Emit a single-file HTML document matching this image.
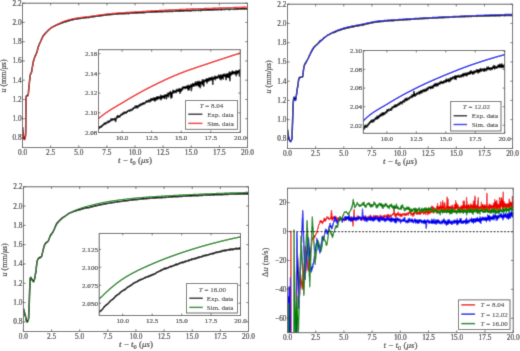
<!DOCTYPE html>
<html><head><meta charset="utf-8"><style>
html,body{margin:0;padding:0;background:#fff;}
svg{display:block;}
text{fill:#333;stroke:#333;stroke-width:0.18px;font-family:"Liberation Serif",serif;}
.lg{stroke-width:0.1px;fill:#3a3a3a;}
</style></head><body>
<svg width="520" height="351" viewBox="0 0 520 351">
<defs><filter id="soft" x="0" y="0" width="520" height="351" filterUnits="userSpaceOnUse"><feConvolveMatrix order="3" kernelMatrix="1 6 1 6 36 6 1 6 1" divisor="64" edgeMode="duplicate" preserveAlpha="true"/></filter></defs>
<g filter="url(#soft)">
<rect width="520" height="351" fill="#fff"/>
<clipPath id="cTL"><rect x="22.55" y="3.2" width="224.95" height="144.40"/></clipPath>
<g clip-path="url(#cTL)">
<polyline points="22.6,127.1 22.6,128.3 22.7,129.4 22.8,130.4 23.0,132.3 23.2,134.0 23.4,135.4 23.6,136.6 23.9,138.0 24.2,139.0 24.6,139.1 25.0,138.4 25.3,137.2 25.5,136.0 25.6,134.3 25.7,131.8 25.8,119.7 25.9,109.0 26.0,101.3 26.1,96.7 26.5,95.8 26.9,95.6 27.2,95.4 27.6,95.3 28.0,95.1 28.3,93.7 28.5,92.1 28.6,90.2 28.8,88.3 29.0,86.5 29.2,84.6 29.3,83.6 29.4,82.5 29.5,81.5 29.6,80.5 29.8,78.6 30.0,77.1 30.1,76.0 30.3,75.0 30.6,73.9 31.0,73.2 31.4,72.5 31.6,71.4 31.8,70.3 32.1,69.0 32.3,67.7 32.5,66.3 32.7,65.0 32.9,63.9 33.1,62.5 33.4,61.3 33.7,60.3 34.1,59.0 34.5,57.8 34.8,56.8 35.2,55.8 35.6,55.0 36.0,54.3 36.3,53.5 36.7,52.5 37.1,51.2 37.4,50.2 37.6,49.1 37.9,48.0 38.2,47.0 38.6,45.9 39.0,45.0 39.3,44.1 39.7,43.3 40.1,42.5 40.5,41.8 40.8,40.9 41.2,40.0 41.6,39.1 42.0,38.3 42.3,37.5 42.7,36.7 43.1,36.0 43.5,35.4 43.8,35.0 44.2,34.5 44.6,34.1 45.0,33.7 45.3,33.2 45.7,32.9 46.1,32.5 46.5,32.1 46.8,31.8 47.2,31.4 47.6,31.0 48.0,30.6 48.3,30.2 48.7,29.9 49.1,29.5 49.5,29.2 49.8,28.9 50.2,28.6 50.6,28.3 51.0,28.0 51.3,27.7 51.7,27.5 52.1,27.2 52.5,27.0 52.8,26.9 53.2,26.7 53.6,26.5 54.0,26.3 54.3,26.1 54.7,26.0 55.1,25.8 55.5,25.7 55.8,25.4 56.2,25.3 56.6,25.1 57.0,24.9 57.3,24.7 57.7,24.6 58.1,24.4 58.5,24.3 58.8,24.2 59.2,24.1 59.6,23.9 60.0,23.7 60.3,23.5 60.7,23.4 61.1,23.2 61.5,23.1 61.8,23.1 62.2,22.9 62.6,22.7 63.0,22.6 63.3,22.4 63.7,22.2 64.1,22.0 64.5,21.9 64.8,21.8 65.2,21.7 65.6,21.6 66.0,21.6 66.3,21.7 66.7,21.5 67.1,21.1 67.5,21.0 67.8,20.9 68.2,20.9 68.6,20.7 69.0,20.7 69.3,20.6 69.7,20.5 70.1,20.4 70.5,20.2 70.8,20.1 71.2,20.1 71.6,20.0 72.0,19.9 72.3,19.7 72.7,19.6 73.1,19.6 73.5,19.5 73.8,19.4 74.2,19.3 74.6,19.2 75.0,19.2 75.3,19.1 75.7,19.0 76.1,19.1 76.5,19.0 76.8,18.8 77.2,18.8 77.6,18.7 78.0,18.7 78.3,18.6 78.7,18.6 79.1,18.5 79.5,18.4 79.8,18.4 80.2,18.4 80.6,18.4 81.0,18.3 81.3,18.2 81.7,18.1 82.1,18.2 82.5,18.1 82.8,18.1 83.2,18.0 83.6,17.9 84.0,17.9 84.3,17.8 84.7,17.7 85.1,17.7 85.5,17.7 85.8,17.7 86.2,17.7 86.6,17.6 87.0,17.6 87.3,17.4 87.7,17.1 88.1,17.3 88.5,17.5 88.8,17.7 89.2,17.3 89.6,17.2 90.0,17.1 90.3,17.1 90.7,17.0 91.1,17.0 91.5,16.9 91.8,16.9 92.2,16.9 92.6,16.8 93.0,16.8 93.3,16.8 93.7,16.7 94.1,16.6 94.5,16.5 94.8,16.5 95.2,16.5 95.6,16.3 96.0,16.3 96.3,16.3 96.7,16.2 97.1,16.2 97.5,16.1 97.8,16.1 98.2,16.1 98.6,16.0 99.0,16.0 99.3,16.0 99.7,15.9 100.1,15.9 100.5,15.7 100.8,15.7 101.2,15.6 101.6,15.6 102.0,15.5 102.3,15.4 102.7,15.4 103.1,15.5 103.5,15.3 103.8,15.3 104.2,15.3 104.6,15.3 105.0,15.2 105.3,15.1 105.7,15.0 106.1,15.1 106.5,14.9 106.8,14.9 107.2,14.9 107.6,14.8 108.0,14.8 108.3,14.8 108.7,14.7 109.1,14.6 109.5,14.6 109.8,14.7 110.2,14.6 110.6,14.5 111.0,14.5 111.3,14.5 111.7,14.4 112.1,14.5 112.5,14.4 112.8,14.3 113.2,14.3 113.6,14.3 114.0,14.3 114.3,14.2 114.7,14.1 115.1,14.2 115.5,14.2 115.8,14.1 116.2,14.1 116.6,14.0 117.0,14.0 117.3,14.0 117.7,13.9 118.1,13.9 118.5,13.9 118.8,13.8 119.2,13.8 119.6,13.8 120.0,13.8 120.4,13.8 120.7,13.8 121.1,13.8 121.5,13.7 121.9,13.7 122.2,13.8 122.6,13.7 123.0,13.6 123.4,13.6 123.7,13.6 124.1,13.6 124.5,13.4 124.9,13.6 125.2,13.6 125.6,13.5 126.0,13.5 126.4,13.4 126.7,13.5 127.1,13.4 127.5,13.5 127.9,13.4 128.2,13.4 128.6,13.6 129.0,13.6 129.4,13.4 129.7,13.2 130.1,13.3 130.5,13.1 130.9,13.3 131.2,13.1 131.6,13.2 132.0,13.2 132.4,13.2 132.7,13.2 133.1,13.1 133.5,13.1 133.9,13.0 134.2,13.0 134.6,13.0 135.0,13.0 135.4,12.9 135.7,12.9 136.1,12.9 136.5,12.9 136.9,12.9 137.2,12.9 137.6,12.8 138.0,12.8 138.4,12.8 138.7,12.9 139.1,12.7 139.5,12.7 139.9,12.7 140.2,12.6 140.6,12.7 141.0,12.6 141.4,12.6 141.7,12.7 142.1,12.6 142.5,12.6 142.9,12.5 143.2,12.6 143.6,12.5 144.0,12.6 144.4,12.5 144.7,12.5 145.1,12.5 145.5,12.5 145.9,12.4 146.2,12.3 146.6,12.3 147.0,12.3 147.4,12.3 147.7,12.3 148.1,12.3 148.5,12.3 148.9,12.3 149.2,12.3 149.6,12.2 150.0,12.3 150.4,12.2 150.7,12.1 151.1,12.1 151.5,12.0 151.9,12.1 152.2,12.1 152.6,12.0 153.0,12.0 153.4,12.0 153.7,12.0 154.1,11.9 154.5,11.9 154.9,11.9 155.2,11.9 155.6,11.9 156.0,11.9 156.4,11.9 156.7,11.8 157.1,11.9 157.5,11.8 157.9,11.8 158.2,11.7 158.6,11.8 159.0,11.7 159.4,11.7 159.7,11.7 160.1,11.7 160.5,11.6 160.9,11.7 161.2,11.6 161.6,11.7 162.0,11.6 162.4,11.5 162.7,11.6 163.1,11.6 163.5,11.5 163.9,11.5 164.2,11.4 164.6,11.5 165.0,11.5 165.4,11.5 165.7,11.5 166.1,11.5 166.5,11.6 166.9,11.4 167.2,11.4 167.6,11.5 168.0,11.3 168.4,11.4 168.7,11.3 169.1,11.4 169.5,11.3 169.9,11.3 170.2,11.4 170.6,11.3 171.0,11.2 171.4,11.4 171.7,11.3 172.1,11.5 172.5,11.3 172.9,11.4 173.2,11.2 173.6,11.3 174.0,11.2 174.4,11.2 174.7,11.2 175.1,11.3 175.5,11.2 175.9,11.1 176.2,11.1 176.6,11.1 177.0,11.2 177.4,11.2 177.7,11.0 178.1,11.1 178.5,11.1 178.9,11.0 179.2,11.3 179.6,10.9 180.0,11.0 180.4,10.8 180.7,10.9 181.1,11.0 181.5,11.0 181.9,11.1 182.2,10.9 182.6,11.1 183.0,10.8 183.4,10.8 183.7,10.9 184.1,10.9 184.5,10.7 184.9,10.7 185.2,10.8 185.6,10.8 186.0,10.7 186.4,10.6 186.7,10.8 187.1,10.6 187.5,10.7 187.9,10.7 188.2,10.6 188.6,10.6 189.0,10.6 189.4,10.5 189.7,10.5 190.1,10.9 190.5,10.5 190.9,10.6 191.2,10.6 191.6,10.6 192.0,10.5 192.4,10.4 192.7,10.4 193.1,10.4 193.5,10.3 193.9,10.4 194.2,10.3 194.6,10.4 195.0,10.3 195.4,10.4 195.7,10.3 196.1,10.3 196.5,10.4 196.9,10.3 197.2,10.3 197.6,10.3 198.0,10.3 198.4,10.4 198.7,10.6 199.1,10.3 199.5,10.2 199.9,10.2 200.2,10.1 200.6,10.1 201.0,10.7 201.4,10.4 201.7,10.1 202.1,10.0 202.5,10.1 202.9,10.1 203.2,10.2 203.6,10.2 204.0,10.0 204.4,9.9 204.7,10.0 205.1,10.0 205.5,10.0 205.9,10.1 206.2,10.0 206.6,10.1 207.0,9.8 207.4,9.9 207.7,10.1 208.1,9.9 208.5,9.9 208.9,9.9 209.2,10.3 209.6,10.3 210.0,9.9 210.4,10.0 210.7,9.9 211.1,9.8 211.5,9.8 211.9,9.6 212.2,10.1 212.6,10.1 213.0,9.8 213.4,9.8 213.7,9.7 214.1,9.7 214.5,9.6 214.9,9.7 215.2,9.7 215.6,9.6 216.0,9.6 216.4,9.6 216.7,9.5 217.1,9.7 217.5,9.6 217.9,9.7 218.2,9.6 218.6,9.6 219.0,9.4 219.4,9.6 219.7,9.5 220.1,9.5 220.5,9.5 220.9,9.4 221.2,10.0 221.6,9.5 222.0,9.4 222.4,9.5 222.7,9.4 223.1,9.4 223.5,9.5 223.9,9.4 224.2,9.3 224.6,9.4 225.0,9.3 225.4,9.4 225.7,9.4 226.1,9.3 226.5,9.3 226.9,9.2 227.2,9.1 227.6,9.2 228.0,9.4 228.4,9.3 228.7,9.4 229.1,9.6 229.5,9.2 229.9,9.3 230.2,9.4 230.6,9.1 231.0,9.2 231.4,9.3 231.7,9.2 232.1,9.2 232.5,9.2 232.9,9.2 233.2,9.2 233.6,9.2 234.0,9.5 234.4,9.1 234.7,9.1 235.1,9.2 235.5,9.1 235.9,9.1 236.2,9.1 236.6,9.4 237.0,8.9 237.4,8.9 237.7,8.9 238.1,8.9 238.5,9.2 238.9,9.1 239.2,9.0 239.6,9.0 240.0,9.0 240.4,8.8 240.7,8.9 241.1,8.9 241.5,8.8 241.9,9.0 242.2,8.8 242.6,8.9 243.0,8.8 243.4,8.8 243.7,9.0 244.1,8.9 244.5,8.8 244.9,8.8 245.2,8.9 245.6,8.8 246.0,8.8 246.4,8.7 246.7,9.2 247.1,8.7 247.5,8.6" fill="none" stroke="#111" stroke-width="1.6" stroke-linejoin="round" />
<polyline points="22.6,128.0 22.6,129.1 22.7,130.2 22.8,131.3 23.0,133.2 23.2,134.9 23.4,136.3 23.6,137.5 23.9,138.8 24.2,139.8 24.6,139.9 25.0,139.3 25.3,138.1 25.5,136.8 25.6,135.2 25.7,132.7 25.8,120.6 25.9,109.0 26.0,102.2 26.1,97.6 26.5,96.6 26.9,96.5 27.2,96.3 27.6,96.2 28.0,95.9 28.3,94.6 28.5,93.0 28.6,91.1 28.8,89.1 29.0,87.4 29.2,85.5 29.3,84.4 29.4,83.4 29.5,82.4 29.6,81.3 29.8,79.5 30.0,78.0 30.1,76.8 30.3,75.8 30.6,74.7 31.0,74.0 31.4,73.4 31.6,72.2 31.8,71.2 32.0,70.0 32.2,68.8 32.4,67.5 32.6,66.2 32.8,65.1 33.1,63.7 33.3,62.5 33.6,61.5 34.0,60.2 34.4,59.0 34.7,57.9 35.1,56.9 35.5,56.1 35.9,55.3 36.2,54.6 36.6,53.6 37.0,52.4 37.3,51.4 37.6,50.3 37.8,49.2 38.1,48.2 38.5,47.0 38.9,45.9 39.2,45.0 39.6,44.0 40.0,43.2 40.4,42.3 40.7,41.5 41.1,40.6 41.5,39.8 41.9,39.0 42.2,38.3 42.6,37.6 43.0,36.9 43.4,36.4 43.7,35.8 44.1,35.3 44.5,34.8 44.9,34.3 45.2,33.8 45.6,33.4 46.0,33.0 46.4,32.5 46.7,32.1 47.1,31.7 47.5,31.3 47.9,30.9 48.2,30.5 48.6,30.2 49.0,29.8 49.4,29.5 49.7,29.1 50.1,28.8 50.5,28.5 50.9,28.2 51.2,27.9 51.6,27.6 52.0,27.3 52.4,27.0 52.7,26.8 53.1,26.5 53.5,26.3 53.9,26.1 54.2,25.8 54.6,25.6 55.0,25.4 55.4,25.2 55.7,25.0 56.1,24.8 56.5,24.6 56.9,24.5 57.2,24.3 57.6,24.1 58.0,23.9 58.4,23.8 58.7,23.6 59.1,23.4 59.5,23.2 59.9,23.0 60.2,22.9 60.6,22.7 61.0,22.5 61.4,22.3 61.7,22.2 62.1,22.0 62.5,21.8 62.9,21.7 63.2,21.5 63.6,21.4 64.0,21.2 64.4,21.1 64.7,21.0 65.1,20.8 65.5,20.7 65.9,20.6 66.2,20.5 66.6,20.4 67.0,20.3 67.4,20.2 67.7,20.1 68.1,19.9 68.5,19.8 68.9,19.7 69.2,19.6 69.6,19.5 70.0,19.4 70.4,19.4 70.7,19.3 71.1,19.2 71.5,19.1 71.9,19.0 72.2,18.9 72.6,18.8 73.0,18.7 73.4,18.7 73.7,18.6 74.1,18.5 74.5,18.4 74.9,18.4 75.2,18.3 75.6,18.2 76.0,18.2 76.4,18.1 76.7,18.0 77.1,18.0 77.5,17.9 77.9,17.8 78.2,17.8 78.6,17.7 79.0,17.7 79.4,17.6 79.7,17.6 80.1,17.5 80.5,17.5 80.9,17.4 81.2,17.4 81.6,17.3 82.0,17.3 82.4,17.2 82.7,17.2 83.1,17.1 83.5,17.1 83.9,17.0 84.2,17.0 84.6,17.0 85.0,16.9 85.4,16.9 85.7,16.8 86.1,16.8 86.5,16.7 86.9,16.7 87.3,16.6 87.6,16.6 88.0,16.5 88.4,16.5 88.8,16.5 89.1,16.4 89.5,16.4 89.9,16.3 90.3,16.3 90.6,16.2 91.0,16.2 91.4,16.1 91.8,16.1 92.1,16.0 92.5,16.0 92.9,15.9 93.3,15.9 93.6,15.8 94.0,15.8 94.4,15.7 94.8,15.6 95.1,15.6 95.5,15.5 95.9,15.5 96.3,15.4 96.6,15.4 97.0,15.3 97.4,15.3 97.8,15.2 98.1,15.2 98.5,15.1 98.9,15.1 99.3,15.0 99.6,15.0 100.0,14.9 100.4,14.9 100.8,14.8 101.1,14.7 101.5,14.7 101.9,14.6 102.3,14.6 102.6,14.5 103.0,14.5 103.4,14.4 103.8,14.4 104.1,14.3 104.5,14.3 104.9,14.2 105.3,14.2 105.6,14.1 106.0,14.1 106.4,14.1 106.8,14.0 107.1,14.0 107.5,13.9 107.9,13.9 108.3,13.8 108.6,13.8 109.0,13.7 109.4,13.7 109.8,13.7 110.1,13.6 110.5,13.6 110.9,13.6 111.3,13.5 111.6,13.5 112.0,13.4 112.4,13.4 112.8,13.4 113.1,13.3 113.5,13.3 113.9,13.3 114.3,13.2 114.6,13.2 115.0,13.2 115.4,13.2 115.8,13.1 116.1,13.1 116.5,13.1 116.9,13.0 117.3,13.0 117.6,13.0 118.0,12.9 118.4,12.9 118.8,12.9 119.1,12.9 119.5,12.8 119.9,12.8 120.3,12.8 120.6,12.8 121.0,12.7 121.4,12.7 121.8,12.7 122.1,12.7 122.5,12.6 122.9,12.6 123.3,12.6 123.6,12.6 124.0,12.5 124.4,12.5 124.8,12.5 125.1,12.5 125.5,12.4 125.9,12.4 126.3,12.4 126.6,12.4 127.0,12.3 127.4,12.3 127.8,12.3 128.1,12.3 128.5,12.2 128.9,12.2 129.3,12.2 129.6,12.2 130.0,12.2 130.4,12.1 130.8,12.1 131.1,12.1 131.5,12.1 131.9,12.0 132.3,12.0 132.6,12.0 133.0,12.0 133.4,12.0 133.8,11.9 134.1,11.9 134.5,11.9 134.9,11.9 135.3,11.8 135.6,11.8 136.0,11.8 136.4,11.8 136.8,11.8 137.1,11.7 137.5,11.7 137.9,11.7 138.3,11.7 138.6,11.6 139.0,11.6 139.4,11.6 139.8,11.6 140.1,11.5 140.5,11.5 140.9,11.5 141.3,11.5 141.6,11.5 142.0,11.4 142.4,11.4 142.8,11.4 143.1,11.4 143.5,11.3 143.9,11.3 144.3,11.3 144.6,11.3 145.0,11.2 145.4,11.2 145.8,11.2 146.1,11.2 146.5,11.2 146.9,11.1 147.3,11.1 147.6,11.1 148.0,11.1 148.4,11.1 148.8,11.0 149.1,11.0 149.5,11.0 149.9,11.0 150.3,10.9 150.6,10.9 151.0,10.9 151.4,10.9 151.8,10.9 152.1,10.8 152.5,10.8 152.9,10.8 153.3,10.8 153.6,10.8 154.0,10.7 154.4,10.7 154.8,10.7 155.1,10.7 155.5,10.6 155.9,10.6 156.3,10.6 156.6,10.6 157.0,10.6 157.4,10.5 157.8,10.5 158.1,10.5 158.5,10.5 158.9,10.5 159.3,10.4 159.6,10.4 160.0,10.4 160.4,10.4 160.8,10.4 161.1,10.3 161.5,10.3 161.9,10.3 162.3,10.3 162.6,10.3 163.0,10.2 163.4,10.2 163.8,10.2 164.1,10.2 164.5,10.2 164.9,10.1 165.3,10.1 165.6,10.1 166.0,10.1 166.4,10.1 166.8,10.1 167.1,10.0 167.5,10.0 167.9,10.0 168.3,10.0 168.6,10.0 169.0,9.9 169.4,9.9 169.8,9.9 170.1,9.9 170.5,9.9 170.9,9.8 171.3,9.8 171.6,9.8 172.0,9.8 172.4,9.8 172.8,9.8 173.1,9.7 173.5,9.7 173.9,9.7 174.3,9.7 174.6,9.7 175.0,9.6 175.4,9.6 175.8,9.6 176.1,9.6 176.5,9.6 176.9,9.6 177.3,9.5 177.6,9.5 178.0,9.5 178.4,9.5 178.8,9.5 179.1,9.5 179.5,9.4 179.9,9.4 180.3,9.4 180.6,9.4 181.0,9.4 181.4,9.4 181.8,9.3 182.1,9.3 182.5,9.3 182.9,9.3 183.3,9.3 183.6,9.2 184.0,9.2 184.4,9.2 184.8,9.2 185.1,9.2 185.5,9.2 185.9,9.2 186.3,9.1 186.6,9.1 187.0,9.1 187.4,9.1 187.8,9.1 188.1,9.1 188.5,9.0 188.9,9.0 189.3,9.0 189.6,9.0 190.0,9.0 190.4,9.0 190.8,8.9 191.1,8.9 191.5,8.9 191.9,8.9 192.3,8.9 192.6,8.9 193.0,8.9 193.4,8.8 193.8,8.8 194.1,8.8 194.5,8.8 194.9,8.8 195.3,8.8 195.6,8.8 196.0,8.7 196.4,8.7 196.8,8.7 197.1,8.7 197.5,8.7 197.9,8.7 198.3,8.7 198.6,8.6 199.0,8.6 199.4,8.6 199.8,8.6 200.1,8.6 200.5,8.6 200.9,8.6 201.3,8.5 201.6,8.5 202.0,8.5 202.4,8.5 202.8,8.5 203.1,8.5 203.5,8.5 203.9,8.5 204.3,8.4 204.6,8.4 205.0,8.4 205.4,8.4 205.8,8.4 206.1,8.4 206.5,8.4 206.9,8.4 207.3,8.3 207.6,8.3 208.0,8.3 208.4,8.3 208.8,8.3 209.1,8.3 209.5,8.3 209.9,8.3 210.3,8.2 210.6,8.2 211.0,8.2 211.4,8.2 211.8,8.2 212.1,8.2 212.5,8.2 212.9,8.1 213.3,8.1 213.6,8.1 214.0,8.1 214.4,8.1 214.8,8.1 215.1,8.1 215.5,8.1 215.9,8.0 216.3,8.0 216.7,8.0 217.0,8.0 217.4,8.0 217.8,8.0 218.2,8.0 218.5,8.0 218.9,7.9 219.3,7.9 219.7,7.9 220.0,7.9 220.4,7.9 220.8,7.9 221.2,7.9 221.5,7.9 221.9,7.8 222.3,7.8 222.7,7.8 223.0,7.8 223.4,7.8 223.8,7.8 224.2,7.8 224.5,7.7 224.9,7.7 225.3,7.7 225.7,7.7 226.0,7.7 226.4,7.7 226.8,7.7 227.2,7.7 227.5,7.6 227.9,7.6 228.3,7.6 228.7,7.6 229.0,7.6 229.4,7.6 229.8,7.6 230.2,7.6 230.5,7.5 230.9,7.5 231.3,7.5 231.7,7.5 232.0,7.5 232.4,7.5 232.8,7.5 233.2,7.5 233.5,7.4 233.9,7.4 234.3,7.4 234.7,7.4 235.0,7.4 235.4,7.4 235.8,7.4 236.2,7.4 236.5,7.3 236.9,7.3 237.3,7.3 237.7,7.3 238.0,7.3 238.4,7.3 238.8,7.3 239.2,7.3 239.5,7.2 239.9,7.2 240.3,7.2 240.7,7.2 241.0,7.2 241.4,7.2 241.8,7.2 242.2,7.2 242.5,7.1 242.9,7.1 243.3,7.1 243.7,7.1 244.0,7.1 244.4,7.1 244.8,7.1 245.2,7.1 245.5,7.0 245.9,7.0 246.3,7.0 246.7,7.0 247.0,7.0 247.4,7.0" fill="none" stroke="#f00000" stroke-width="1.1" stroke-linejoin="round" />
</g>
<rect x="22.55" y="3.2" width="224.95" height="144.40" fill="none" stroke="#444" stroke-width="0.9"/>
<line x1="22.55" y1="147.6" x2="22.55" y2="145.29999999999998" stroke="#444" stroke-width="0.7"/>
<line x1="22.55" y1="3.2" x2="22.55" y2="5.5" stroke="#444" stroke-width="0.7"/>
<text x="22.55" y="154.80" font-size="7.3" text-anchor="middle">0.0</text>
<line x1="50.67" y1="147.6" x2="50.67" y2="145.29999999999998" stroke="#444" stroke-width="0.7"/>
<line x1="50.67" y1="3.2" x2="50.67" y2="5.5" stroke="#444" stroke-width="0.7"/>
<text x="50.67" y="154.80" font-size="7.3" text-anchor="middle">2.5</text>
<line x1="78.79" y1="147.6" x2="78.79" y2="145.29999999999998" stroke="#444" stroke-width="0.7"/>
<line x1="78.79" y1="3.2" x2="78.79" y2="5.5" stroke="#444" stroke-width="0.7"/>
<text x="78.79" y="154.80" font-size="7.3" text-anchor="middle">5.0</text>
<line x1="106.91" y1="147.6" x2="106.91" y2="145.29999999999998" stroke="#444" stroke-width="0.7"/>
<line x1="106.91" y1="3.2" x2="106.91" y2="5.5" stroke="#444" stroke-width="0.7"/>
<text x="106.91" y="154.80" font-size="7.3" text-anchor="middle">7.5</text>
<line x1="135.03" y1="147.6" x2="135.03" y2="145.29999999999998" stroke="#444" stroke-width="0.7"/>
<line x1="135.03" y1="3.2" x2="135.03" y2="5.5" stroke="#444" stroke-width="0.7"/>
<text x="135.03" y="154.80" font-size="7.3" text-anchor="middle">10.0</text>
<line x1="163.14" y1="147.6" x2="163.14" y2="145.29999999999998" stroke="#444" stroke-width="0.7"/>
<line x1="163.14" y1="3.2" x2="163.14" y2="5.5" stroke="#444" stroke-width="0.7"/>
<text x="163.14" y="154.80" font-size="7.3" text-anchor="middle">12.5</text>
<line x1="191.26" y1="147.6" x2="191.26" y2="145.29999999999998" stroke="#444" stroke-width="0.7"/>
<line x1="191.26" y1="3.2" x2="191.26" y2="5.5" stroke="#444" stroke-width="0.7"/>
<text x="191.26" y="154.80" font-size="7.3" text-anchor="middle">15.0</text>
<line x1="219.38" y1="147.6" x2="219.38" y2="145.29999999999998" stroke="#444" stroke-width="0.7"/>
<line x1="219.38" y1="3.2" x2="219.38" y2="5.5" stroke="#444" stroke-width="0.7"/>
<text x="219.38" y="154.80" font-size="7.3" text-anchor="middle">17.5</text>
<line x1="247.50" y1="147.6" x2="247.50" y2="145.29999999999998" stroke="#444" stroke-width="0.7"/>
<line x1="247.50" y1="3.2" x2="247.50" y2="5.5" stroke="#444" stroke-width="0.7"/>
<text x="247.50" y="154.80" font-size="7.3" text-anchor="middle">20.0</text>
<line x1="22.55" y1="137.97" x2="24.85" y2="137.97" stroke="#444" stroke-width="0.7"/>
<line x1="247.5" y1="137.97" x2="245.2" y2="137.97" stroke="#444" stroke-width="0.7"/>
<text x="21.55" y="140.38" font-size="7.3" text-anchor="end">0.8</text>
<line x1="22.55" y1="118.72" x2="24.85" y2="118.72" stroke="#444" stroke-width="0.7"/>
<line x1="247.5" y1="118.72" x2="245.2" y2="118.72" stroke="#444" stroke-width="0.7"/>
<text x="21.55" y="121.13" font-size="7.3" text-anchor="end">1.0</text>
<line x1="22.55" y1="99.47" x2="24.85" y2="99.47" stroke="#444" stroke-width="0.7"/>
<line x1="247.5" y1="99.47" x2="245.2" y2="99.47" stroke="#444" stroke-width="0.7"/>
<text x="21.55" y="101.88" font-size="7.3" text-anchor="end">1.2</text>
<line x1="22.55" y1="80.21" x2="24.85" y2="80.21" stroke="#444" stroke-width="0.7"/>
<line x1="247.5" y1="80.21" x2="245.2" y2="80.21" stroke="#444" stroke-width="0.7"/>
<text x="21.55" y="82.62" font-size="7.3" text-anchor="end">1.4</text>
<line x1="22.55" y1="60.96" x2="24.85" y2="60.96" stroke="#444" stroke-width="0.7"/>
<line x1="247.5" y1="60.96" x2="245.2" y2="60.96" stroke="#444" stroke-width="0.7"/>
<text x="21.55" y="63.37" font-size="7.3" text-anchor="end">1.6</text>
<line x1="22.55" y1="41.71" x2="24.85" y2="41.71" stroke="#444" stroke-width="0.7"/>
<line x1="247.5" y1="41.71" x2="245.2" y2="41.71" stroke="#444" stroke-width="0.7"/>
<text x="21.55" y="44.12" font-size="7.3" text-anchor="end">1.8</text>
<line x1="22.55" y1="22.45" x2="24.85" y2="22.45" stroke="#444" stroke-width="0.7"/>
<line x1="247.5" y1="22.45" x2="245.2" y2="22.45" stroke="#444" stroke-width="0.7"/>
<text x="21.55" y="24.86" font-size="7.3" text-anchor="end">2.0</text>
<line x1="22.55" y1="3.20" x2="24.85" y2="3.20" stroke="#444" stroke-width="0.7"/>
<line x1="247.5" y1="3.20" x2="245.2" y2="3.20" stroke="#444" stroke-width="0.7"/>
<text x="21.55" y="5.61" font-size="7.3" text-anchor="end">2.2</text>
<rect x="98.5" y="49.7" width="141.80" height="82.80" fill="#fff" stroke="none"/>
<clipPath id="iTL"><rect x="98.5" y="49.7" width="141.80" height="82.80"/></clipPath>
<g clip-path="url(#iTL)">
<polyline points="97.4,129.7 97.5,129.3 97.6,129.2 97.7,129.4 97.8,129.2 97.8,129.3 97.9,128.6 98.0,129.5 98.1,128.6 98.2,128.0 98.3,127.9 98.4,128.7 98.5,128.6 98.6,128.2 98.7,128.4 98.8,128.2 98.9,127.8 99.0,128.1 99.1,128.3 99.2,128.0 99.3,128.3 99.4,128.2 99.5,127.9 99.6,127.9 99.7,127.7 99.8,126.8 99.9,127.3 100.0,127.4 100.1,127.3 100.2,127.3 100.3,127.2 100.4,126.9 100.5,127.1 100.6,126.6 100.7,126.8 100.8,126.2 100.9,126.7 101.0,126.6 101.1,126.7 101.2,127.1 101.3,126.0 101.4,126.1 101.5,126.8 101.6,126.5 101.7,126.7 101.8,126.2 101.9,126.1 102.0,126.2 102.1,126.2 102.2,125.9 102.3,125.3 102.4,125.8 102.5,125.7 102.6,124.8 102.7,125.1 102.8,125.3 102.9,124.7 103.0,124.8 103.1,124.9 103.2,124.7 103.3,124.7 103.4,124.9 103.5,125.2 103.6,124.9 103.7,124.5 103.8,124.1 103.9,123.5 104.0,124.0 104.1,124.2 104.2,123.8 104.3,123.9 104.4,123.9 104.5,123.4 104.5,124.3 104.6,123.8 104.7,123.7 104.8,124.2 104.9,124.1 105.0,123.6 105.1,123.2 105.2,122.8 105.3,123.0 105.4,123.1 105.5,123.0 105.6,122.9 105.7,123.1 105.8,123.9 105.9,123.0 106.0,122.7 106.1,122.6 106.2,122.6 106.3,122.8 106.4,122.5 106.5,122.7 106.6,122.8 106.7,122.8 106.8,122.7 106.9,122.6 107.0,122.3 107.1,122.3 107.2,122.5 107.3,122.1 107.4,122.6 107.5,122.5 107.6,122.1 107.7,122.2 107.8,122.3 107.9,121.4 108.0,121.8 108.1,122.3 108.2,122.0 108.3,121.7 108.4,121.6 108.5,122.5 108.6,121.9 108.7,122.4 108.8,121.6 108.9,121.4 109.0,121.2 109.1,121.6 109.2,121.5 109.3,121.2 109.4,121.3 109.5,121.1 109.6,120.8 109.7,121.6 109.8,121.1 109.9,120.8 110.0,121.2 110.1,120.5 110.2,120.6 110.3,120.3 110.4,120.8 110.5,120.1 110.6,119.7 110.7,120.3 110.8,120.4 110.9,120.3 111.0,119.2 111.1,118.9 111.1,119.5 111.2,120.3 111.3,119.9 111.4,120.2 111.5,120.1 111.6,119.4 111.7,119.6 111.8,120.3 111.9,120.4 112.0,120.2 112.1,119.6 112.2,119.3 112.3,119.2 112.4,119.6 112.5,119.3 112.6,119.2 112.7,119.5 112.8,118.9 112.9,119.0 113.0,119.1 113.1,119.1 113.2,119.4 113.3,119.1 113.4,119.7 113.5,119.5 113.6,119.5 113.7,119.5 113.8,119.1 113.9,119.4 114.0,119.3 114.1,119.2 114.2,119.5 114.3,119.5 114.4,119.2 114.5,118.9 114.6,118.9 114.7,118.5 114.8,118.5 114.9,118.7 115.0,118.4 115.1,118.6 115.2,119.4 115.3,120.6 115.4,120.9 115.5,121.3 115.6,121.4 115.7,120.6 115.8,121.0 115.9,120.1 116.0,119.5 116.1,118.8 116.2,118.2 116.3,118.1 116.4,117.8 116.5,117.2 116.6,117.0 116.7,117.2 116.8,116.9 116.9,116.5 117.0,117.7 117.1,117.7 117.2,117.2 117.3,116.3 117.4,116.1 117.5,116.4 117.6,115.6 117.7,116.5 117.7,117.6 117.8,117.3 117.9,115.7 118.0,116.5 118.1,116.1 118.2,116.2 118.3,116.4 118.4,116.8 118.5,116.8 118.6,117.0 118.7,116.1 118.8,116.3 118.9,116.9 119.0,116.5 119.1,116.3 119.2,116.2 119.3,116.4 119.4,116.6 119.5,116.4 119.6,115.9 119.7,116.2 119.8,116.9 119.9,116.1 120.0,116.0 120.1,115.8 120.2,115.6 120.3,115.5 120.4,115.2 120.5,115.9 120.6,115.2 120.7,115.4 120.8,115.4 120.9,114.8 121.0,114.2 121.1,115.2 121.2,114.9 121.3,114.8 121.4,114.7 121.5,114.6 121.6,114.7 121.7,114.5 121.8,114.2 121.9,114.3 122.0,115.0 122.1,114.7 122.2,114.2 122.3,113.8 122.4,114.2 122.5,113.8 122.6,113.5 122.7,113.8 122.8,113.0 122.9,113.7 123.0,114.1 123.1,114.1 123.2,114.0 123.3,113.7 123.4,113.4 123.5,113.3 123.6,113.3 123.7,113.2 123.8,113.1 123.9,113.6 124.0,113.6 124.1,113.4 124.2,112.1 124.3,112.4 124.3,113.5 124.4,113.3 124.5,113.4 124.6,113.5 124.7,112.8 124.8,112.9 124.9,112.8 125.0,113.0 125.1,113.0 125.2,112.6 125.3,112.7 125.4,112.9 125.5,112.7 125.6,112.4 125.7,112.3 125.8,112.4 125.9,112.7 126.0,113.1 126.1,112.3 126.2,112.3 126.3,112.6 126.4,111.9 126.5,112.1 126.6,112.1 126.7,111.9 126.8,111.9 126.9,111.9 127.0,111.5 127.1,111.2 127.2,111.5 127.3,112.2 127.4,111.4 127.5,111.2 127.6,110.9 127.7,111.1 127.8,110.8 127.9,111.3 128.0,111.3 128.1,110.7 128.2,111.2 128.3,111.0 128.4,110.7 128.5,110.7 128.6,110.4 128.7,110.3 128.8,110.5 128.9,110.6 129.0,110.5 129.1,111.0 129.2,111.1 129.3,111.1 129.4,110.9 129.5,110.2 129.6,110.6 129.7,111.1 129.8,110.7 129.9,110.2 130.0,110.0 130.1,110.3 130.2,110.1 130.3,110.1 130.4,109.7 130.5,109.6 130.6,110.1 130.7,110.0 130.8,110.1 130.9,110.5 131.0,109.6 131.0,110.0 131.1,110.0 131.2,110.3 131.3,109.8 131.4,110.2 131.5,110.2 131.6,110.4 131.7,109.7 131.8,109.6 131.9,109.6 132.0,109.3 132.1,109.5 132.2,109.7 132.3,109.7 132.4,109.4 132.5,109.1 132.6,109.1 132.7,109.1 132.8,109.5 132.9,108.7 133.0,108.8 133.1,109.5 133.2,108.3 133.3,107.9 133.4,108.4 133.5,108.4 133.6,108.5 133.7,108.4 133.8,107.9 133.9,107.7 134.0,107.9 134.1,107.7 134.2,107.6 134.3,107.6 134.4,107.5 134.5,107.8 134.6,107.9 134.7,107.4 134.8,107.8 134.9,107.4 135.0,107.7 135.1,107.1 135.2,106.9 135.3,106.1 135.4,107.1 135.5,107.7 135.6,107.3 135.7,107.4 135.8,107.5 135.9,107.4 136.0,107.3 136.1,107.0 136.2,107.2 136.3,106.9 136.4,107.1 136.5,107.3 136.6,107.5 136.7,107.0 136.8,105.9 136.9,106.6 137.0,106.5 137.1,107.2 137.2,107.8 137.3,107.2 137.4,106.5 137.5,106.7 137.6,106.7 137.6,106.4 137.7,106.5 137.8,107.6 137.9,107.4 138.0,106.7 138.1,106.7 138.2,106.6 138.3,106.3 138.4,106.3 138.5,106.0 138.6,105.9 138.7,106.0 138.8,105.7 138.9,106.3 139.0,105.5 139.1,105.0 139.2,104.9 139.3,105.6 139.4,104.8 139.5,104.8 139.6,104.9 139.7,105.8 139.8,105.1 139.9,105.5 140.0,106.0 140.1,105.2 140.2,104.9 140.3,104.6 140.4,104.7 140.5,104.1 140.6,104.2 140.7,104.3 140.8,104.0 140.9,105.0 141.0,104.4 141.1,104.5 141.2,104.1 141.3,104.0 141.4,104.4 141.5,104.1 141.6,104.1 141.7,104.0 141.8,104.3 141.9,104.3 142.0,104.8 142.1,104.8 142.2,103.6 142.3,103.4 142.4,103.9 142.5,104.0 142.6,103.3 142.7,103.3 142.8,103.7 142.9,104.4 143.0,103.7 143.1,104.3 143.2,104.1 143.3,102.8 143.4,103.3 143.5,104.0 143.6,104.0 143.7,103.2 143.8,102.9 143.9,103.1 144.0,103.5 144.1,103.6 144.2,103.0 144.2,103.5 144.3,103.6 144.4,103.0 144.5,103.0 144.6,102.9 144.7,102.6 144.8,102.8 144.9,102.6 145.0,103.1 145.1,103.4 145.2,102.5 145.3,103.3 145.4,102.7 145.5,102.2 145.6,102.6 145.7,102.2 145.8,102.4 145.9,101.9 146.0,102.2 146.1,102.0 146.2,101.6 146.3,101.4 146.4,101.2 146.5,100.8 146.6,101.8 146.7,102.1 146.8,101.8 146.9,102.3 147.0,101.1 147.1,101.2 147.2,101.2 147.3,100.9 147.4,101.3 147.5,101.4 147.6,101.8 147.7,101.8 147.8,101.8 147.9,101.5 148.0,100.5 148.1,101.3 148.2,101.8 148.3,101.7 148.4,101.3 148.5,100.9 148.6,100.4 148.7,100.0 148.8,101.0 148.9,100.6 149.0,100.6 149.1,101.2 149.2,101.1 149.3,101.3 149.4,101.0 149.5,100.5 149.6,100.3 149.7,100.2 149.8,100.7 149.9,100.8 150.0,101.3 150.1,101.7 150.2,101.0 150.3,100.1 150.4,100.4 150.5,100.4 150.6,100.4 150.7,100.2 150.8,100.2 150.8,99.3 150.9,98.6 151.0,98.6 151.1,99.7 151.2,100.0 151.3,100.6 151.4,99.7 151.5,99.3 151.6,100.0 151.7,99.6 151.8,99.4 151.9,99.4 152.0,99.5 152.1,100.2 152.2,99.1 152.3,99.2 152.4,99.4 152.5,99.6 152.6,99.4 152.7,99.4 152.8,98.5 152.9,98.3 153.0,99.7 153.1,99.4 153.2,98.9 153.3,98.8 153.4,99.4 153.5,99.6 153.6,99.0 153.7,98.9 153.8,99.8 153.9,100.1 154.0,99.0 154.1,98.9 154.2,98.2 154.3,97.8 154.4,98.8 154.5,99.4 154.6,100.9 154.7,100.9 154.8,99.3 154.9,99.0 155.0,98.6 155.1,98.1 155.2,99.8 155.3,100.7 155.4,98.9 155.5,97.7 155.6,98.6 155.7,99.0 155.8,98.9 155.9,98.7 156.0,98.5 156.1,98.7 156.2,98.6 156.3,97.7 156.4,99.0 156.5,99.6 156.6,97.2 156.7,96.9 156.8,97.4 156.9,97.2 157.0,96.7 157.1,97.4 157.2,98.4 157.3,97.7 157.4,97.5 157.5,97.5 157.5,97.4 157.6,99.2 157.7,99.4 157.8,97.8 157.9,97.7 158.0,97.7 158.1,97.6 158.2,96.7 158.3,97.1 158.4,96.7 158.5,97.1 158.6,97.3 158.7,97.0 158.8,97.5 158.9,96.9 159.0,97.3 159.1,97.9 159.2,97.6 159.3,97.9 159.4,97.1 159.5,97.1 159.6,97.5 159.7,97.8 159.8,97.9 159.9,96.7 160.0,98.2 160.1,98.9 160.2,97.7 160.3,98.0 160.4,97.5 160.5,96.5 160.6,95.3 160.7,97.0 160.8,95.8 160.9,95.5 161.0,96.5 161.1,99.6 161.2,97.7 161.3,97.5 161.4,97.5 161.5,97.0 161.6,97.5 161.7,96.8 161.8,96.7 161.9,97.7 162.0,97.4 162.1,96.5 162.2,96.7 162.3,96.5 162.4,97.9 162.5,97.1 162.6,97.2 162.7,97.4 162.8,97.1 162.9,95.8 163.0,96.4 163.1,96.5 163.2,97.4 163.3,97.1 163.4,95.9 163.5,96.3 163.6,95.6 163.7,96.1 163.8,96.7 163.9,96.6 164.0,96.0 164.1,96.1 164.1,96.0 164.2,97.6 164.3,96.7 164.4,98.5 164.5,98.3 164.6,96.0 164.7,96.5 164.8,96.2 164.9,95.1 165.0,95.3 165.1,95.4 165.2,95.2 165.3,95.0 165.4,95.0 165.5,95.7 165.6,94.9 165.7,95.3 165.8,95.4 165.9,95.5 166.0,95.2 166.1,96.4 166.2,96.1 166.3,95.9 166.4,98.6 166.5,98.5 166.6,96.5 166.7,96.5 166.8,97.2 166.9,96.5 167.0,94.2 167.1,94.6 167.2,94.8 167.3,95.4 167.4,94.8 167.5,95.4 167.6,95.0 167.7,95.0 167.8,94.8 167.9,94.2 168.0,93.4 168.1,93.0 168.2,94.3 168.3,94.2 168.4,93.8 168.5,95.8 168.6,96.7 168.7,95.1 168.8,95.9 168.9,93.9 169.0,93.5 169.1,93.5 169.2,93.7 169.3,93.6 169.4,93.8 169.5,93.8 169.6,93.0 169.7,92.5 169.8,92.3 169.9,93.0 170.0,92.3 170.1,92.6 170.2,92.9 170.3,92.2 170.4,91.6 170.5,93.4 170.6,93.9 170.7,92.7 170.7,92.4 170.8,92.8 170.9,93.8 171.0,98.1 171.1,97.7 171.2,94.9 171.3,95.3 171.4,94.4 171.5,93.9 171.6,93.4 171.7,93.3 171.8,96.6 171.9,96.2 172.0,97.2 172.1,94.7 172.2,92.9 172.3,92.7 172.4,92.2 172.5,91.7 172.6,93.0 172.7,93.0 172.8,93.0 172.9,92.4 173.0,91.3 173.1,90.2 173.2,92.6 173.3,92.9 173.4,92.3 173.5,92.9 173.6,92.6 173.7,92.8 173.8,92.4 173.9,92.1 174.0,91.6 174.1,91.2 174.2,91.8 174.3,91.5 174.4,91.1 174.5,91.5 174.6,92.5 174.7,91.3 174.8,92.0 174.9,92.2 175.0,92.2 175.1,91.4 175.2,92.2 175.3,92.5 175.4,91.8 175.5,91.6 175.6,91.1 175.7,91.0 175.8,91.2 175.9,91.1 176.0,90.9 176.1,90.2 176.2,90.1 176.3,90.5 176.4,90.6 176.5,92.4 176.6,91.5 176.7,91.0 176.8,91.1 176.9,89.8 177.0,89.3 177.1,90.7 177.2,90.5 177.3,90.6 177.4,90.6 177.4,89.8 177.5,90.8 177.6,90.7 177.7,90.9 177.8,90.8 177.9,90.1 178.0,90.2 178.1,90.4 178.2,90.2 178.3,90.1 178.4,90.0 178.5,90.0 178.6,91.3 178.7,91.0 178.8,90.1 178.9,91.0 179.0,91.2 179.1,90.8 179.2,88.6 179.3,88.5 179.4,88.8 179.5,89.6 179.6,88.9 179.7,89.4 179.8,89.3 179.9,91.0 180.0,93.2 180.1,91.9 180.2,89.8 180.3,89.3 180.4,89.5 180.5,89.6 180.6,89.6 180.7,89.0 180.8,89.5 180.9,90.1 181.0,90.6 181.1,91.4 181.2,89.9 181.3,89.9 181.4,89.2 181.5,88.9 181.6,89.7 181.7,88.6 181.8,88.1 181.9,88.1 182.0,88.8 182.1,90.2 182.2,89.7 182.3,88.0 182.4,88.5 182.5,88.3 182.6,88.2 182.7,89.5 182.8,88.4 182.9,88.3 183.0,87.2 183.1,86.9 183.2,87.5 183.3,87.0 183.4,87.3 183.5,87.3 183.6,87.3 183.7,87.9 183.8,87.1 183.9,88.0 184.0,87.7 184.0,87.8 184.1,88.1 184.2,87.7 184.3,87.2 184.4,88.0 184.5,86.9 184.6,87.2 184.7,88.4 184.8,87.5 184.9,87.4 185.0,86.9 185.1,87.4 185.2,87.6 185.3,86.8 185.4,86.9 185.5,88.3 185.6,88.5 185.7,87.9 185.8,86.6 185.9,86.7 186.0,87.1 186.1,87.2 186.2,86.4 186.3,86.8 186.4,87.2 186.5,87.0 186.6,87.7 186.7,87.8 186.8,86.2 186.9,86.7 187.0,88.1 187.1,87.4 187.2,86.5 187.3,86.3 187.4,86.1 187.5,87.0 187.6,87.1 187.7,87.2 187.8,86.5 187.9,87.3 188.0,90.0 188.1,87.1 188.2,85.4 188.3,86.8 188.4,87.1 188.5,86.4 188.6,87.1 188.7,87.8 188.8,88.1 188.9,87.0 189.0,87.2 189.1,89.6 189.2,87.9 189.3,87.0 189.4,87.9 189.5,87.1 189.6,87.0 189.7,86.4 189.8,86.2 189.9,85.6 190.0,86.0 190.1,86.2 190.2,86.3 190.3,86.3 190.4,86.3 190.5,86.7 190.6,85.4 190.6,85.4 190.7,86.5 190.8,85.9 190.9,85.8 191.0,84.6 191.1,85.7 191.2,87.0 191.3,88.7 191.4,90.6 191.5,87.3 191.6,85.3 191.7,88.1 191.8,87.6 191.9,85.7 192.0,84.9 192.1,84.9 192.2,85.1 192.3,85.4 192.4,85.2 192.5,84.3 192.6,83.6 192.7,83.9 192.8,85.9 192.9,86.1 193.0,85.4 193.1,84.9 193.2,85.5 193.3,85.1 193.4,84.5 193.5,84.4 193.6,85.1 193.7,85.4 193.8,86.3 193.9,86.0 194.0,85.4 194.1,83.6 194.2,85.5 194.3,85.0 194.4,84.0 194.5,83.4 194.6,83.9 194.7,84.5 194.8,84.8 194.9,83.9 195.0,83.0 195.1,84.2 195.2,84.4 195.3,84.1 195.4,83.6 195.5,83.2 195.6,83.4 195.7,81.9 195.8,84.1 195.9,85.6 196.0,83.8 196.1,84.2 196.2,83.6 196.3,83.8 196.4,84.8 196.5,85.4 196.6,84.6 196.7,84.7 196.8,85.0 196.9,85.2 197.0,84.1 197.1,84.1 197.2,83.5 197.2,83.1 197.3,84.8 197.4,84.1 197.5,82.9 197.6,81.6 197.7,82.3 197.8,82.8 197.9,83.6 198.0,83.1 198.1,83.3 198.2,84.2 198.3,82.6 198.4,83.8 198.5,84.5 198.6,86.5 198.7,84.6 198.8,83.9 198.9,83.3 199.0,82.5 199.1,81.4 199.2,82.4 199.3,82.5 199.4,82.8 199.5,82.6 199.6,82.6 199.7,82.5 199.8,81.8 199.9,82.2 200.0,82.0 200.1,86.7 200.2,87.7 200.3,85.2 200.4,84.3 200.5,87.0 200.6,85.6 200.7,82.8 200.8,82.7 200.9,82.9 201.0,82.0 201.1,82.5 201.2,82.5 201.3,83.7 201.4,83.2 201.5,83.2 201.6,82.4 201.7,82.9 201.8,83.6 201.9,82.5 202.0,81.9 202.1,82.0 202.2,82.6 202.3,81.4 202.4,79.7 202.5,82.2 202.6,82.4 202.7,82.2 202.8,80.6 202.9,80.0 203.0,81.8 203.1,83.5 203.2,84.8 203.3,85.2 203.4,84.1 203.5,82.4 203.6,81.1 203.7,84.5 203.8,86.1 203.9,82.8 203.9,81.7 204.0,81.5 204.1,80.4 204.2,80.2 204.3,81.2 204.4,81.6 204.5,80.9 204.6,80.7 204.7,81.3 204.8,81.1 204.9,81.4 205.0,81.5 205.1,81.5 205.2,81.0 205.3,80.9 205.4,80.8 205.5,80.0 205.6,80.0 205.7,81.3 205.8,79.9 205.9,79.2 206.0,80.4 206.1,79.6 206.2,80.7 206.3,80.4 206.4,80.6 206.5,79.7 206.6,78.7 206.7,79.8 206.8,80.2 206.9,80.9 207.0,83.0 207.1,81.2 207.2,79.6 207.3,80.6 207.4,80.4 207.5,80.4 207.6,79.7 207.7,78.9 207.8,79.6 207.9,79.6 208.0,78.9 208.1,79.3 208.2,80.4 208.3,80.3 208.4,81.2 208.5,81.2 208.6,81.0 208.7,80.3 208.8,79.7 208.9,79.3 209.0,78.0 209.1,79.4 209.2,80.7 209.3,79.4 209.4,78.5 209.5,79.2 209.6,79.4 209.7,79.5 209.8,80.1 209.9,79.0 210.0,79.5 210.1,79.6 210.2,78.3 210.3,77.8 210.4,78.0 210.5,78.9 210.5,78.3 210.6,79.9 210.7,80.1 210.8,78.7 210.9,78.7 211.0,79.7 211.1,78.4 211.2,78.3 211.3,79.7 211.4,79.5 211.5,79.0 211.6,78.2 211.7,77.3 211.8,78.9 211.9,79.0 212.0,79.1 212.1,78.6 212.2,78.1 212.3,77.5 212.4,78.0 212.5,78.3 212.6,79.1 212.7,84.2 212.8,84.3 212.9,79.3 213.0,77.4 213.1,78.9 213.2,78.3 213.3,78.5 213.4,78.2 213.5,77.5 213.6,78.4 213.7,78.6 213.8,78.2 213.9,78.6 214.0,77.5 214.1,77.7 214.2,78.4 214.3,77.8 214.4,77.3 214.5,78.0 214.6,78.4 214.7,77.5 214.8,77.3 214.9,76.2 215.0,76.8 215.1,78.6 215.2,79.8 215.3,77.7 215.4,77.8 215.5,77.6 215.6,77.0 215.7,76.8 215.8,76.5 215.9,76.6 216.0,76.8 216.1,78.1 216.2,77.3 216.3,77.5 216.4,78.5 216.5,78.0 216.6,77.3 216.7,76.7 216.8,77.6 216.9,77.9 217.0,78.3 217.1,77.3 217.1,76.9 217.2,76.7 217.3,77.6 217.4,78.1 217.5,76.8 217.6,76.2 217.7,76.2 217.8,76.4 217.9,77.5 218.0,77.0 218.1,76.2 218.2,77.0 218.3,77.2 218.4,77.3 218.5,77.2 218.6,75.6 218.7,77.0 218.8,76.1 218.9,75.0 219.0,75.1 219.1,76.1 219.2,76.4 219.3,76.2 219.4,75.6 219.5,77.6 219.6,78.6 219.7,77.6 219.8,78.0 219.9,78.1 220.0,78.5 220.1,78.2 220.2,76.5 220.3,76.1 220.4,76.3 220.5,77.5 220.6,77.3 220.7,77.1 220.8,75.1 220.9,78.3 221.0,79.6 221.1,77.8 221.2,77.3 221.3,76.8 221.4,75.8 221.5,75.5 221.6,76.1 221.7,76.5 221.8,76.2 221.9,76.5 222.0,76.3 222.1,76.9 222.2,78.2 222.3,77.8 222.4,74.7 222.5,75.0 222.6,74.9 222.7,74.8 222.8,76.0 222.9,74.9 223.0,75.7 223.1,76.9 223.2,78.6 223.3,78.9 223.4,76.7 223.5,74.7 223.6,75.4 223.7,74.4 223.7,75.4 223.8,74.8 223.9,75.0 224.0,75.1 224.1,75.5 224.2,74.2 224.3,75.1 224.4,76.5 224.5,75.3 224.6,75.5 224.7,75.7 224.8,75.0 224.9,75.2 225.0,75.7 225.1,74.4 225.2,74.8 225.3,75.3 225.4,75.8 225.5,75.2 225.6,75.2 225.7,75.6 225.8,75.0 225.9,76.4 226.0,79.6 226.1,78.8 226.2,74.4 226.3,75.0 226.4,74.9 226.5,74.9 226.6,74.0 226.7,74.3 226.8,75.0 226.9,74.3 227.0,74.4 227.1,73.7 227.2,74.0 227.3,75.4 227.4,77.1 227.5,76.3 227.6,75.4 227.7,74.7 227.8,74.8 227.9,77.5 228.0,77.5 228.1,74.9 228.2,75.2 228.3,75.0 228.4,74.1 228.5,74.4 228.6,75.3 228.7,75.5 228.8,77.4 228.9,77.5 229.0,76.2 229.1,73.0 229.2,72.4 229.3,73.0 229.4,74.3 229.5,74.6 229.6,73.9 229.7,72.4 229.8,78.2 229.9,80.6 230.0,76.7 230.1,72.3 230.2,72.5 230.3,74.4 230.4,74.3 230.4,72.9 230.5,72.8 230.6,73.1 230.7,75.5 230.8,75.4 230.9,74.7 231.0,73.2 231.1,72.9 231.2,74.2 231.3,74.1 231.4,73.9 231.5,73.8 231.6,73.5 231.7,72.5 231.8,74.2 231.9,73.8 232.0,73.6 232.1,72.1 232.2,71.3 232.3,72.1 232.4,73.5 232.5,74.1 232.6,73.0 232.7,71.4 232.8,71.6 232.9,72.4 233.0,72.0 233.1,73.4 233.2,72.6 233.3,72.3 233.4,73.4 233.5,72.5 233.6,72.9 233.7,73.0 233.8,72.4 233.9,71.8 234.0,71.6 234.1,73.5 234.2,73.6 234.3,72.6 234.4,73.5 234.5,73.3 234.6,72.0 234.7,72.3 234.8,72.1 234.9,72.6 235.0,73.6 235.1,73.1 235.2,72.9 235.3,72.9 235.4,71.6 235.5,71.6 235.6,71.9 235.7,71.8 235.8,71.0 235.9,71.1 236.0,72.0 236.1,73.0 236.2,74.4 236.3,75.6 236.4,74.0 236.5,73.2 236.6,74.1 236.7,72.7 236.8,72.4 236.9,71.5 237.0,72.0 237.0,74.0 237.1,71.7 237.2,70.8 237.3,73.3 237.4,72.5 237.5,71.5 237.6,71.0 237.7,72.4 237.8,71.7 237.9,72.3 238.0,71.8 238.1,71.7 238.2,71.1 238.3,71.6 238.4,71.2 238.5,72.6 238.6,72.4 238.7,71.4 238.8,70.5 238.9,71.2 239.0,71.3 239.1,70.9 239.2,70.3 239.3,70.7 239.4,73.5 239.5,75.9 239.6,73.7 239.7,70.9 239.8,71.3 239.9,71.0 240.0,70.4 240.1,70.8 240.2,70.1 240.3,69.2" fill="none" stroke="#000" stroke-width="1.6" stroke-linejoin="round" />
<polyline points="97.4,119.6 97.5,119.6 97.6,119.5 97.7,119.4 97.8,119.3 97.8,119.2 97.9,119.1 98.0,119.0 98.1,118.9 98.2,118.8 98.3,118.7 98.4,118.7 98.5,118.6 98.6,118.5 98.7,118.4 98.8,118.3 98.9,118.2 99.0,118.2 99.1,118.1 99.2,118.0 99.3,117.9 99.4,117.8 99.5,117.7 99.6,117.7 99.7,117.6 99.8,117.5 99.9,117.4 100.0,117.3 100.1,117.2 100.2,117.2 100.3,117.1 100.4,117.0 100.5,116.9 100.6,116.8 100.7,116.8 100.8,116.7 100.9,116.6 101.0,116.5 101.1,116.4 101.2,116.4 101.3,116.3 101.4,116.2 101.5,116.1 101.6,116.1 101.7,116.0 101.8,115.9 101.9,115.8 102.0,115.7 102.1,115.7 102.2,115.6 102.3,115.5 102.4,115.4 102.5,115.4 102.6,115.3 102.7,115.2 102.8,115.1 102.9,115.1 103.0,115.0 103.1,114.9 103.2,114.8 103.3,114.8 103.4,114.7 103.5,114.6 103.6,114.5 103.7,114.5 103.8,114.4 103.9,114.3 104.0,114.3 104.1,114.2 104.2,114.1 104.3,114.0 104.4,114.0 104.5,113.9 104.5,113.8 104.6,113.7 104.7,113.7 104.8,113.6 104.9,113.5 105.0,113.5 105.1,113.4 105.2,113.3 105.3,113.3 105.4,113.2 105.5,113.1 105.6,113.0 105.7,113.0 105.8,112.9 105.9,112.8 106.0,112.8 106.1,112.7 106.2,112.6 106.3,112.6 106.4,112.5 106.5,112.4 106.6,112.4 106.7,112.3 106.8,112.2 106.9,112.2 107.0,112.1 107.1,112.0 107.2,112.0 107.3,111.9 107.4,111.8 107.5,111.8 107.6,111.7 107.7,111.6 107.8,111.6 107.9,111.5 108.0,111.4 108.1,111.4 108.2,111.3 108.3,111.2 108.4,111.2 108.5,111.1 108.6,111.0 108.7,111.0 108.8,110.9 108.9,110.8 109.0,110.8 109.1,110.7 109.2,110.7 109.3,110.6 109.4,110.5 109.5,110.5 109.6,110.4 109.7,110.3 109.8,110.3 109.9,110.2 110.0,110.1 110.1,110.1 110.2,110.0 110.3,110.0 110.4,109.9 110.5,109.8 110.6,109.8 110.7,109.7 110.8,109.6 110.9,109.6 111.0,109.5 111.1,109.5 111.1,109.4 111.2,109.3 111.3,109.3 111.4,109.2 111.5,109.2 111.6,109.1 111.7,109.0 111.8,109.0 111.9,108.9 112.0,108.8 112.1,108.8 112.2,108.7 112.3,108.7 112.4,108.6 112.5,108.5 112.6,108.5 112.7,108.4 112.8,108.4 112.9,108.3 113.0,108.2 113.1,108.2 113.2,108.1 113.3,108.1 113.4,108.0 113.5,107.9 113.6,107.9 113.7,107.8 113.8,107.8 113.9,107.7 114.0,107.7 114.1,107.6 114.2,107.5 114.3,107.5 114.4,107.4 114.5,107.4 114.6,107.3 114.7,107.2 114.8,107.2 114.9,107.1 115.0,107.1 115.1,107.0 115.2,106.9 115.3,106.9 115.4,106.8 115.5,106.8 115.6,106.7 115.7,106.7 115.8,106.6 115.9,106.5 116.0,106.5 116.1,106.4 116.2,106.4 116.3,106.3 116.4,106.3 116.5,106.2 116.6,106.1 116.7,106.1 116.8,106.0 116.9,106.0 117.0,105.9 117.1,105.8 117.2,105.8 117.3,105.7 117.4,105.7 117.5,105.6 117.6,105.6 117.7,105.5 117.7,105.4 117.8,105.4 117.9,105.3 118.0,105.3 118.1,105.2 118.2,105.2 118.3,105.1 118.4,105.0 118.5,105.0 118.6,104.9 118.7,104.9 118.8,104.8 118.9,104.8 119.0,104.7 119.1,104.6 119.2,104.6 119.3,104.5 119.4,104.5 119.5,104.4 119.6,104.4 119.7,104.3 119.8,104.2 119.9,104.2 120.0,104.1 120.1,104.1 120.2,104.0 120.3,104.0 120.4,103.9 120.5,103.8 120.6,103.8 120.7,103.7 120.8,103.7 120.9,103.6 121.0,103.5 121.1,103.5 121.2,103.4 121.3,103.4 121.4,103.3 121.5,103.3 121.6,103.2 121.7,103.1 121.8,103.1 121.9,103.0 122.0,103.0 122.1,102.9 122.2,102.9 122.3,102.8 122.4,102.7 122.5,102.7 122.6,102.6 122.7,102.6 122.8,102.5 122.9,102.4 123.0,102.4 123.1,102.3 123.2,102.3 123.3,102.2 123.4,102.2 123.5,102.1 123.6,102.0 123.7,102.0 123.8,101.9 123.9,101.9 124.0,101.8 124.1,101.7 124.2,101.7 124.3,101.6 124.3,101.6 124.4,101.5 124.5,101.4 124.6,101.4 124.7,101.3 124.8,101.3 124.9,101.2 125.0,101.1 125.1,101.1 125.2,101.0 125.3,101.0 125.4,100.9 125.5,100.8 125.6,100.8 125.7,100.7 125.8,100.7 125.9,100.6 126.0,100.6 126.1,100.5 126.2,100.4 126.3,100.4 126.4,100.3 126.5,100.3 126.6,100.2 126.7,100.1 126.8,100.1 126.9,100.0 127.0,100.0 127.1,99.9 127.2,99.8 127.3,99.8 127.4,99.7 127.5,99.7 127.6,99.6 127.7,99.6 127.8,99.5 127.9,99.4 128.0,99.4 128.1,99.3 128.2,99.3 128.3,99.2 128.4,99.1 128.5,99.1 128.6,99.0 128.7,99.0 128.8,98.9 128.9,98.9 129.0,98.8 129.1,98.7 129.2,98.7 129.3,98.6 129.4,98.6 129.5,98.5 129.6,98.4 129.7,98.4 129.8,98.3 129.9,98.3 130.0,98.2 130.1,98.2 130.2,98.1 130.3,98.0 130.4,98.0 130.5,97.9 130.6,97.9 130.7,97.8 130.8,97.8 130.9,97.7 131.0,97.6 131.0,97.6 131.1,97.5 131.2,97.5 131.3,97.4 131.4,97.3 131.5,97.3 131.6,97.2 131.7,97.2 131.8,97.1 131.9,97.1 132.0,97.0 132.1,96.9 132.2,96.9 132.3,96.8 132.4,96.8 132.5,96.7 132.6,96.7 132.7,96.6 132.8,96.5 132.9,96.5 133.0,96.4 133.1,96.4 133.2,96.3 133.3,96.3 133.4,96.2 133.5,96.1 133.6,96.1 133.7,96.0 133.8,96.0 133.9,95.9 134.0,95.9 134.1,95.8 134.2,95.8 134.3,95.7 134.4,95.6 134.5,95.6 134.6,95.5 134.7,95.5 134.8,95.4 134.9,95.4 135.0,95.3 135.1,95.2 135.2,95.2 135.3,95.1 135.4,95.1 135.5,95.0 135.6,95.0 135.7,94.9 135.8,94.9 135.9,94.8 136.0,94.7 136.1,94.7 136.2,94.6 136.3,94.6 136.4,94.5 136.5,94.5 136.6,94.4 136.7,94.3 136.8,94.3 136.9,94.2 137.0,94.2 137.1,94.1 137.2,94.1 137.3,94.0 137.4,94.0 137.5,93.9 137.6,93.8 137.6,93.8 137.7,93.7 137.8,93.7 137.9,93.6 138.0,93.6 138.1,93.5 138.2,93.5 138.3,93.4 138.4,93.4 138.5,93.3 138.6,93.2 138.7,93.2 138.8,93.1 138.9,93.1 139.0,93.0 139.1,93.0 139.2,92.9 139.3,92.9 139.4,92.8 139.5,92.7 139.6,92.7 139.7,92.6 139.8,92.6 139.9,92.5 140.0,92.5 140.1,92.4 140.2,92.4 140.3,92.3 140.4,92.3 140.5,92.2 140.6,92.1 140.7,92.1 140.8,92.0 140.9,92.0 141.0,91.9 141.1,91.9 141.2,91.8 141.3,91.8 141.4,91.7 141.5,91.7 141.6,91.6 141.7,91.6 141.8,91.5 141.9,91.4 142.0,91.4 142.1,91.3 142.2,91.3 142.3,91.2 142.4,91.2 142.5,91.1 142.6,91.1 142.7,91.0 142.8,91.0 142.9,90.9 143.0,90.9 143.1,90.8 143.2,90.8 143.3,90.7 143.4,90.6 143.5,90.6 143.6,90.5 143.7,90.5 143.8,90.4 143.9,90.4 144.0,90.3 144.1,90.3 144.2,90.2 144.2,90.2 144.3,90.1 144.4,90.1 144.5,90.0 144.6,90.0 144.7,89.9 144.8,89.9 144.9,89.8 145.0,89.7 145.1,89.7 145.2,89.6 145.3,89.6 145.4,89.5 145.5,89.5 145.6,89.4 145.7,89.4 145.8,89.3 145.9,89.3 146.0,89.2 146.1,89.2 146.2,89.1 146.3,89.1 146.4,89.0 146.5,89.0 146.6,88.9 146.7,88.9 146.8,88.8 146.9,88.8 147.0,88.7 147.1,88.7 147.2,88.6 147.3,88.5 147.4,88.5 147.5,88.4 147.6,88.4 147.7,88.3 147.8,88.3 147.9,88.2 148.0,88.2 148.1,88.1 148.2,88.1 148.3,88.0 148.4,88.0 148.5,87.9 148.6,87.9 148.7,87.8 148.8,87.8 148.9,87.7 149.0,87.7 149.1,87.6 149.2,87.6 149.3,87.5 149.4,87.5 149.5,87.4 149.6,87.4 149.7,87.3 149.8,87.3 149.9,87.2 150.0,87.2 150.1,87.1 150.2,87.1 150.3,87.0 150.4,87.0 150.5,86.9 150.6,86.9 150.7,86.8 150.8,86.8 150.8,86.7 150.9,86.7 151.0,86.6 151.1,86.6 151.2,86.5 151.3,86.5 151.4,86.4 151.5,86.4 151.6,86.3 151.7,86.3 151.8,86.2 151.9,86.2 152.0,86.1 152.1,86.1 152.2,86.0 152.3,86.0 152.4,85.9 152.5,85.9 152.6,85.8 152.7,85.8 152.8,85.7 152.9,85.7 153.0,85.6 153.1,85.6 153.2,85.5 153.3,85.5 153.4,85.4 153.5,85.4 153.6,85.3 153.7,85.3 153.8,85.2 153.9,85.2 154.0,85.1 154.1,85.1 154.2,85.0 154.3,85.0 154.4,84.9 154.5,84.9 154.6,84.9 154.7,84.8 154.8,84.8 154.9,84.7 155.0,84.7 155.1,84.6 155.2,84.6 155.3,84.5 155.4,84.5 155.5,84.4 155.6,84.4 155.7,84.3 155.8,84.3 155.9,84.2 156.0,84.2 156.1,84.1 156.2,84.1 156.3,84.0 156.4,84.0 156.5,83.9 156.6,83.9 156.7,83.8 156.8,83.8 156.9,83.7 157.0,83.7 157.1,83.6 157.2,83.6 157.3,83.5 157.4,83.5 157.5,83.5 157.5,83.4 157.6,83.4 157.7,83.3 157.8,83.3 157.9,83.2 158.0,83.2 158.1,83.1 158.2,83.1 158.3,83.0 158.4,83.0 158.5,82.9 158.6,82.9 158.7,82.8 158.8,82.8 158.9,82.7 159.0,82.7 159.1,82.6 159.2,82.6 159.3,82.5 159.4,82.5 159.5,82.5 159.6,82.4 159.7,82.4 159.8,82.3 159.9,82.3 160.0,82.2 160.1,82.2 160.2,82.1 160.3,82.1 160.4,82.0 160.5,82.0 160.6,81.9 160.7,81.9 160.8,81.8 160.9,81.8 161.0,81.7 161.1,81.7 161.2,81.7 161.3,81.6 161.4,81.6 161.5,81.5 161.6,81.5 161.7,81.4 161.8,81.4 161.9,81.3 162.0,81.3 162.1,81.2 162.2,81.2 162.3,81.1 162.4,81.1 162.5,81.0 162.6,81.0 162.7,81.0 162.8,80.9 162.9,80.9 163.0,80.8 163.1,80.8 163.2,80.7 163.3,80.7 163.4,80.6 163.5,80.6 163.6,80.5 163.7,80.5 163.8,80.4 163.9,80.4 164.0,80.4 164.1,80.3 164.1,80.3 164.2,80.2 164.3,80.2 164.4,80.1 164.5,80.1 164.6,80.0 164.7,80.0 164.8,79.9 164.9,79.9 165.0,79.9 165.1,79.8 165.2,79.8 165.3,79.7 165.4,79.7 165.5,79.6 165.6,79.6 165.7,79.5 165.8,79.5 165.9,79.4 166.0,79.4 166.1,79.4 166.2,79.3 166.3,79.3 166.4,79.2 166.5,79.2 166.6,79.1 166.7,79.1 166.8,79.0 166.9,79.0 167.0,78.9 167.1,78.9 167.2,78.9 167.3,78.8 167.4,78.8 167.5,78.7 167.6,78.7 167.7,78.6 167.8,78.6 167.9,78.5 168.0,78.5 168.1,78.5 168.2,78.4 168.3,78.4 168.4,78.3 168.5,78.3 168.6,78.2 168.7,78.2 168.8,78.1 168.9,78.1 169.0,78.1 169.1,78.0 169.2,78.0 169.3,77.9 169.4,77.9 169.5,77.8 169.6,77.8 169.7,77.8 169.8,77.7 169.9,77.7 170.0,77.6 170.1,77.6 170.2,77.5 170.3,77.5 170.4,77.4 170.5,77.4 170.6,77.4 170.7,77.3 170.7,77.3 170.8,77.2 170.9,77.2 171.0,77.1 171.1,77.1 171.2,77.1 171.3,77.0 171.4,77.0 171.5,76.9 171.6,76.9 171.7,76.8 171.8,76.8 171.9,76.8 172.0,76.7 172.1,76.7 172.2,76.6 172.3,76.6 172.4,76.5 172.5,76.5 172.6,76.5 172.7,76.4 172.8,76.4 172.9,76.3 173.0,76.3 173.1,76.2 173.2,76.2 173.3,76.2 173.4,76.1 173.5,76.1 173.6,76.0 173.7,76.0 173.8,75.9 173.9,75.9 174.0,75.9 174.1,75.8 174.2,75.8 174.3,75.7 174.4,75.7 174.5,75.7 174.6,75.6 174.7,75.6 174.8,75.5 174.9,75.5 175.0,75.4 175.1,75.4 175.2,75.4 175.3,75.3 175.4,75.3 175.5,75.2 175.6,75.2 175.7,75.2 175.8,75.1 175.9,75.1 176.0,75.0 176.1,75.0 176.2,75.0 176.3,74.9 176.4,74.9 176.5,74.8 176.6,74.8 176.7,74.7 176.8,74.7 176.9,74.7 177.0,74.6 177.1,74.6 177.2,74.5 177.3,74.5 177.4,74.5 177.4,74.4 177.5,74.4 177.6,74.3 177.7,74.3 177.8,74.3 177.9,74.2 178.0,74.2 178.1,74.1 178.2,74.1 178.3,74.1 178.4,74.0 178.5,74.0 178.6,73.9 178.7,73.9 178.8,73.9 178.9,73.8 179.0,73.8 179.1,73.7 179.2,73.7 179.3,73.7 179.4,73.6 179.5,73.6 179.6,73.5 179.7,73.5 179.8,73.5 179.9,73.4 180.0,73.4 180.1,73.3 180.2,73.3 180.3,73.3 180.4,73.2 180.5,73.2 180.6,73.2 180.7,73.1 180.8,73.1 180.9,73.0 181.0,73.0 181.1,73.0 181.2,72.9 181.3,72.9 181.4,72.8 181.5,72.8 181.6,72.8 181.7,72.7 181.8,72.7 181.9,72.6 182.0,72.6 182.1,72.6 182.2,72.5 182.3,72.5 182.4,72.5 182.5,72.4 182.6,72.4 182.7,72.3 182.8,72.3 182.9,72.3 183.0,72.2 183.1,72.2 183.2,72.2 183.3,72.1 183.4,72.1 183.5,72.0 183.6,72.0 183.7,72.0 183.8,71.9 183.9,71.9 184.0,71.9 184.0,71.8 184.1,71.8 184.2,71.7 184.3,71.7 184.4,71.7 184.5,71.6 184.6,71.6 184.7,71.6 184.8,71.5 184.9,71.5 185.0,71.4 185.1,71.4 185.2,71.4 185.3,71.3 185.4,71.3 185.5,71.3 185.6,71.2 185.7,71.2 185.8,71.2 185.9,71.1 186.0,71.1 186.1,71.0 186.2,71.0 186.3,71.0 186.4,70.9 186.5,70.9 186.6,70.9 186.7,70.8 186.8,70.8 186.9,70.8 187.0,70.7 187.1,70.7 187.2,70.6 187.3,70.6 187.4,70.6 187.5,70.5 187.6,70.5 187.7,70.5 187.8,70.4 187.9,70.4 188.0,70.4 188.1,70.3 188.2,70.3 188.3,70.3 188.4,70.2 188.5,70.2 188.6,70.2 188.7,70.1 188.8,70.1 188.9,70.0 189.0,70.0 189.1,70.0 189.2,69.9 189.3,69.9 189.4,69.9 189.5,69.8 189.6,69.8 189.7,69.8 189.8,69.7 189.9,69.7 190.0,69.7 190.1,69.6 190.2,69.6 190.3,69.6 190.4,69.5 190.5,69.5 190.6,69.5 190.6,69.4 190.7,69.4 190.8,69.4 190.9,69.3 191.0,69.3 191.1,69.2 191.2,69.2 191.3,69.2 191.4,69.1 191.5,69.1 191.6,69.1 191.7,69.0 191.8,69.0 191.9,69.0 192.0,68.9 192.1,68.9 192.2,68.9 192.3,68.8 192.4,68.8 192.5,68.8 192.6,68.7 192.7,68.7 192.8,68.7 192.9,68.6 193.0,68.6 193.1,68.6 193.2,68.5 193.3,68.5 193.4,68.5 193.5,68.4 193.6,68.4 193.7,68.4 193.8,68.3 193.9,68.3 194.0,68.3 194.1,68.2 194.2,68.2 194.3,68.2 194.4,68.1 194.5,68.1 194.6,68.1 194.7,68.0 194.8,68.0 194.9,68.0 195.0,67.9 195.1,67.9 195.2,67.9 195.3,67.8 195.4,67.8 195.5,67.8 195.6,67.7 195.7,67.7 195.8,67.7 195.9,67.6 196.0,67.6 196.1,67.6 196.2,67.5 196.3,67.5 196.4,67.5 196.5,67.4 196.6,67.4 196.7,67.4 196.8,67.3 196.9,67.3 197.0,67.3 197.1,67.2 197.2,67.2 197.2,67.2 197.3,67.1 197.4,67.1 197.5,67.1 197.6,67.0 197.7,67.0 197.8,67.0 197.9,66.9 198.0,66.9 198.1,66.9 198.2,66.8 198.3,66.8 198.4,66.8 198.5,66.7 198.6,66.7 198.7,66.7 198.8,66.6 198.9,66.6 199.0,66.6 199.1,66.5 199.2,66.5 199.3,66.5 199.4,66.4 199.5,66.4 199.6,66.4 199.7,66.3 199.8,66.3 199.9,66.3 200.0,66.2 200.1,66.2 200.2,66.2 200.3,66.1 200.4,66.1 200.5,66.1 200.6,66.0 200.7,66.0 200.8,66.0 200.9,65.9 201.0,65.9 201.1,65.9 201.2,65.8 201.3,65.8 201.4,65.8 201.5,65.8 201.6,65.7 201.7,65.7 201.8,65.7 201.9,65.6 202.0,65.6 202.1,65.6 202.2,65.5 202.3,65.5 202.4,65.5 202.5,65.4 202.6,65.4 202.7,65.4 202.8,65.3 202.9,65.3 203.0,65.3 203.1,65.2 203.2,65.2 203.3,65.2 203.4,65.1 203.5,65.1 203.6,65.1 203.7,65.0 203.8,65.0 203.9,65.0 203.9,64.9 204.0,64.9 204.1,64.9 204.2,64.8 204.3,64.8 204.4,64.8 204.5,64.7 204.6,64.7 204.7,64.7 204.8,64.6 204.9,64.6 205.0,64.6 205.1,64.5 205.2,64.5 205.3,64.5 205.4,64.4 205.5,64.4 205.6,64.4 205.7,64.3 205.8,64.3 205.9,64.3 206.0,64.2 206.1,64.2 206.2,64.2 206.3,64.1 206.4,64.1 206.5,64.1 206.6,64.1 206.7,64.0 206.8,64.0 206.9,64.0 207.0,63.9 207.1,63.9 207.2,63.9 207.3,63.8 207.4,63.8 207.5,63.8 207.6,63.7 207.7,63.7 207.8,63.7 207.9,63.6 208.0,63.6 208.1,63.6 208.2,63.5 208.3,63.5 208.4,63.5 208.5,63.4 208.6,63.4 208.7,63.4 208.8,63.3 208.9,63.3 209.0,63.3 209.1,63.2 209.2,63.2 209.3,63.2 209.4,63.1 209.5,63.1 209.6,63.1 209.7,63.0 209.8,63.0 209.9,63.0 210.0,62.9 210.1,62.9 210.2,62.9 210.3,62.8 210.4,62.8 210.5,62.8 210.5,62.7 210.6,62.7 210.7,62.7 210.8,62.6 210.9,62.6 211.0,62.6 211.1,62.5 211.2,62.5 211.3,62.5 211.4,62.4 211.5,62.4 211.6,62.4 211.7,62.3 211.8,62.3 211.9,62.3 212.0,62.2 212.1,62.2 212.2,62.2 212.3,62.1 212.4,62.1 212.5,62.1 212.6,62.0 212.7,62.0 212.8,62.0 212.9,61.9 213.0,61.9 213.1,61.9 213.2,61.8 213.3,61.8 213.4,61.8 213.5,61.7 213.6,61.7 213.7,61.7 213.8,61.6 213.9,61.6 214.0,61.6 214.1,61.5 214.2,61.5 214.3,61.5 214.4,61.4 214.5,61.4 214.6,61.4 214.7,61.3 214.8,61.3 214.9,61.3 215.0,61.2 215.1,61.2 215.2,61.2 215.3,61.1 215.4,61.1 215.5,61.1 215.6,61.0 215.7,61.0 215.8,61.0 215.9,60.9 216.0,60.9 216.1,60.9 216.2,60.9 216.3,60.8 216.4,60.8 216.5,60.8 216.6,60.7 216.7,60.7 216.8,60.7 216.9,60.6 217.0,60.6 217.1,60.6 217.1,60.5 217.2,60.5 217.3,60.5 217.4,60.4 217.5,60.4 217.6,60.4 217.7,60.3 217.8,60.3 217.9,60.3 218.0,60.2 218.1,60.2 218.2,60.2 218.3,60.1 218.4,60.1 218.5,60.1 218.6,60.0 218.7,60.0 218.8,60.0 218.9,59.9 219.0,59.9 219.1,59.9 219.2,59.8 219.3,59.8 219.4,59.8 219.5,59.7 219.6,59.7 219.7,59.7 219.8,59.6 219.9,59.6 220.0,59.6 220.1,59.5 220.2,59.5 220.3,59.5 220.4,59.4 220.5,59.4 220.6,59.4 220.7,59.3 220.8,59.3 220.9,59.3 221.0,59.3 221.1,59.2 221.2,59.2 221.3,59.2 221.4,59.1 221.5,59.1 221.6,59.1 221.7,59.0 221.8,59.0 221.9,59.0 222.0,58.9 222.1,58.9 222.2,58.9 222.3,58.8 222.4,58.8 222.5,58.8 222.6,58.7 222.7,58.7 222.8,58.7 222.9,58.6 223.0,58.6 223.1,58.6 223.2,58.5 223.3,58.5 223.4,58.5 223.5,58.4 223.6,58.4 223.7,58.4 223.7,58.3 223.8,58.3 223.9,58.3 224.0,58.2 224.1,58.2 224.2,58.2 224.3,58.2 224.4,58.1 224.5,58.1 224.6,58.1 224.7,58.0 224.8,58.0 224.9,58.0 225.0,57.9 225.1,57.9 225.2,57.9 225.3,57.8 225.4,57.8 225.5,57.8 225.6,57.7 225.7,57.7 225.8,57.7 225.9,57.6 226.0,57.6 226.1,57.6 226.2,57.5 226.3,57.5 226.4,57.5 226.5,57.4 226.6,57.4 226.7,57.4 226.8,57.3 226.9,57.3 227.0,57.3 227.1,57.2 227.2,57.2 227.3,57.2 227.4,57.2 227.5,57.1 227.6,57.1 227.7,57.1 227.8,57.0 227.9,57.0 228.0,57.0 228.1,56.9 228.2,56.9 228.3,56.9 228.4,56.8 228.5,56.8 228.6,56.8 228.7,56.7 228.8,56.7 228.9,56.7 229.0,56.6 229.1,56.6 229.2,56.6 229.3,56.5 229.4,56.5 229.5,56.5 229.6,56.4 229.7,56.4 229.8,56.4 229.9,56.4 230.0,56.3 230.1,56.3 230.2,56.3 230.3,56.2 230.4,56.2 230.4,56.2 230.5,56.1 230.6,56.1 230.7,56.1 230.8,56.0 230.9,56.0 231.0,56.0 231.1,55.9 231.2,55.9 231.3,55.9 231.4,55.8 231.5,55.8 231.6,55.8 231.7,55.7 231.8,55.7 231.9,55.7 232.0,55.7 232.1,55.6 232.2,55.6 232.3,55.6 232.4,55.5 232.5,55.5 232.6,55.5 232.7,55.4 232.8,55.4 232.9,55.4 233.0,55.3 233.1,55.3 233.2,55.3 233.3,55.2 233.4,55.2 233.5,55.2 233.6,55.1 233.7,55.1 233.8,55.1 233.9,55.1 234.0,55.0 234.1,55.0 234.2,55.0 234.3,54.9 234.4,54.9 234.5,54.9 234.6,54.8 234.7,54.8 234.8,54.8 234.9,54.7 235.0,54.7 235.1,54.7 235.2,54.6 235.3,54.6 235.4,54.6 235.5,54.5 235.6,54.5 235.7,54.5 235.8,54.5 235.9,54.4 236.0,54.4 236.1,54.4 236.2,54.3 236.3,54.3 236.4,54.3 236.5,54.2 236.6,54.2 236.7,54.2 236.8,54.1 236.9,54.1 237.0,54.1 237.0,54.0 237.1,54.0 237.2,54.0 237.3,53.9 237.4,53.9 237.5,53.9 237.6,53.9 237.7,53.8 237.8,53.8 237.9,53.8 238.0,53.7 238.1,53.7 238.2,53.7 238.3,53.6 238.4,53.6 238.5,53.6 238.6,53.5 238.7,53.5 238.8,53.5 238.9,53.4 239.0,53.4 239.1,53.4 239.2,53.4 239.3,53.3 239.4,53.3 239.5,53.3 239.6,53.2 239.7,53.2 239.8,53.2 239.9,53.1 240.0,53.1 240.1,53.1 240.2,53.0 240.3,53.0" fill="none" stroke="#f00000" stroke-width="1.35" stroke-linejoin="round" />
</g>
<rect x="98.5" y="49.7" width="141.80" height="82.80" fill="none" stroke="#444" stroke-width="0.9"/>
<line x1="122.13" y1="132.5" x2="122.13" y2="130.5" stroke="#444" stroke-width="0.7"/>
<line x1="122.13" y1="49.7" x2="122.13" y2="51.7" stroke="#444" stroke-width="0.7"/>
<text x="122.13" y="139.90" font-size="7.1" text-anchor="middle">10.0</text>
<line x1="151.68" y1="132.5" x2="151.68" y2="130.5" stroke="#444" stroke-width="0.7"/>
<line x1="151.68" y1="49.7" x2="151.68" y2="51.7" stroke="#444" stroke-width="0.7"/>
<text x="151.68" y="139.90" font-size="7.1" text-anchor="middle">12.5</text>
<line x1="181.22" y1="132.5" x2="181.22" y2="130.5" stroke="#444" stroke-width="0.7"/>
<line x1="181.22" y1="49.7" x2="181.22" y2="51.7" stroke="#444" stroke-width="0.7"/>
<text x="181.22" y="139.90" font-size="7.1" text-anchor="middle">15.0</text>
<line x1="210.76" y1="132.5" x2="210.76" y2="130.5" stroke="#444" stroke-width="0.7"/>
<line x1="210.76" y1="49.7" x2="210.76" y2="51.7" stroke="#444" stroke-width="0.7"/>
<text x="210.76" y="139.90" font-size="7.1" text-anchor="middle">17.5</text>
<line x1="240.30" y1="132.5" x2="240.30" y2="130.5" stroke="#444" stroke-width="0.7"/>
<line x1="240.30" y1="49.7" x2="240.30" y2="51.7" stroke="#444" stroke-width="0.7"/>
<text x="240.30" y="139.90" font-size="7.1" text-anchor="middle">20.0</text>
<line x1="98.5" y1="132.50" x2="100.5" y2="132.50" stroke="#444" stroke-width="0.7"/>
<line x1="240.3" y1="132.50" x2="238.3" y2="132.50" stroke="#444" stroke-width="0.7"/>
<text x="97.30" y="134.84" font-size="7.1" text-anchor="end">2.08</text>
<line x1="98.5" y1="112.80" x2="100.5" y2="112.80" stroke="#444" stroke-width="0.7"/>
<line x1="240.3" y1="112.80" x2="238.3" y2="112.80" stroke="#444" stroke-width="0.7"/>
<text x="97.30" y="115.14" font-size="7.1" text-anchor="end">2.10</text>
<line x1="98.5" y1="93.10" x2="100.5" y2="93.10" stroke="#444" stroke-width="0.7"/>
<line x1="240.3" y1="93.10" x2="238.3" y2="93.10" stroke="#444" stroke-width="0.7"/>
<text x="97.30" y="95.44" font-size="7.1" text-anchor="end">2.12</text>
<line x1="98.5" y1="73.40" x2="100.5" y2="73.40" stroke="#444" stroke-width="0.7"/>
<line x1="240.3" y1="73.40" x2="238.3" y2="73.40" stroke="#444" stroke-width="0.7"/>
<text x="97.30" y="75.74" font-size="7.1" text-anchor="end">2.14</text>
<line x1="98.5" y1="53.70" x2="100.5" y2="53.70" stroke="#444" stroke-width="0.7"/>
<line x1="240.3" y1="53.70" x2="238.3" y2="53.70" stroke="#444" stroke-width="0.7"/>
<text x="97.30" y="56.04" font-size="7.1" text-anchor="end">2.16</text>
<rect x="185.6" y="100.4" width="51.90" height="28.90" fill="#fff" stroke="#444" stroke-width="0.8"/>
<text x="211.5" y="108.1" class="lg" font-size="7" text-anchor="middle"><tspan font-style="italic">T</tspan> = 8.04</text>
<line x1="188.3" y1="114.3" x2="202.4" y2="114.3" stroke="#111" stroke-width="1.5"/>
<line x1="188.3" y1="123.4" x2="202.4" y2="123.4" stroke="#f00000" stroke-width="1.4"/>
<text x="207.3" y="116.6" class="lg" font-size="7">Exp. data</text>
<text x="207.3" y="125.7" class="lg" font-size="7">Sim. data</text>
<text x="135.0" y="163.2" font-size="9" text-anchor="middle"><tspan font-style="italic">t</tspan> − <tspan font-style="italic">t</tspan><tspan font-size="6.3" dy="1.4">0</tspan><tspan dy="-1.4"> (</tspan><tspan font-style="italic">μs</tspan>)</text>
<text transform="translate(5.9,76.0) rotate(-90)" font-size="8" text-anchor="middle"><tspan font-style="italic">u</tspan> (mm/<tspan font-style="italic">μs</tspan>)</text>
<clipPath id="cTR"><rect x="287.46" y="4.2" width="225.14" height="144.30"/></clipPath>
<g clip-path="url(#cTR)">
<polyline points="287.5,129.2 287.6,130.6 287.8,132.0 288.0,133.2 288.2,134.4 288.4,135.5 288.7,136.9 289.0,138.1 289.2,139.1 289.6,140.1 290.0,140.8 290.4,141.1 290.7,141.0 291.1,140.6 291.5,139.7 291.9,138.4 292.1,137.0 292.2,135.0 292.2,132.3 292.3,129.3 292.4,126.3 292.5,123.5 292.6,120.8 292.7,117.8 292.8,114.6 292.9,111.4 293.0,108.4 293.1,105.7 293.2,103.5 293.3,101.9 293.4,100.9 293.6,99.1 293.7,97.8 294.1,97.2 294.5,98.0 294.9,99.1 295.2,100.0 295.6,99.9 295.9,98.6 296.1,97.4 296.3,95.9 296.5,94.3 296.7,93.1 296.8,92.0 297.0,90.6 297.2,89.4 297.4,88.1 297.6,87.0 297.8,85.8 298.0,84.6 298.2,83.4 298.3,82.0 298.5,80.6 298.7,79.3 299.0,78.1 299.4,77.6 299.8,77.3 300.1,77.0 300.5,77.0 300.9,77.0 301.3,77.1 301.6,77.2 302.0,77.2 302.4,77.2 302.8,76.2 302.9,74.9 303.1,73.3 303.3,71.6 303.5,69.8 303.7,68.3 303.9,67.1 304.2,66.0 304.5,64.8 304.9,63.9 305.3,63.3 305.7,62.8 306.0,62.2 306.4,61.5 306.8,60.8 307.2,60.1 307.5,59.5 307.9,58.8 308.3,58.1 308.7,57.2 309.0,56.4 309.4,55.5 309.8,54.8 310.2,54.0 310.5,53.1 310.9,52.3 311.3,51.5 311.7,50.8 312.0,50.1 312.4,49.5 312.8,48.8 313.2,48.2 313.5,47.7 313.9,47.2 314.3,46.8 314.7,46.4 315.1,46.1 315.4,45.7 315.8,45.4 316.2,45.1 316.6,44.8 316.9,44.6 317.3,44.1 317.7,43.6 318.1,43.3 318.4,42.8 318.8,42.4 319.2,41.9 319.6,41.5 319.9,41.0 320.3,40.8 320.7,40.5 321.1,40.3 321.4,40.1 321.8,39.8 322.2,39.6 322.6,39.2 322.9,38.8 323.3,38.4 323.7,38.1 324.1,37.7 324.4,37.5 324.8,37.4 325.2,37.1 325.6,36.9 325.9,36.6 326.3,36.2 326.7,35.9 327.1,35.5 327.4,35.2 327.8,35.0 328.2,35.0 328.6,34.8 328.9,34.6 329.3,34.5 329.7,34.4 330.1,34.1 330.4,33.9 330.8,33.7 331.2,33.4 331.6,33.2 331.9,33.0 332.3,32.9 332.7,32.7 333.1,32.6 333.4,32.6 333.8,32.5 334.2,32.4 334.6,32.4 334.9,32.2 335.3,32.0 335.7,31.7 336.1,31.5 336.4,31.4 336.8,31.1 337.2,31.0 337.6,30.8 337.9,30.6 338.3,30.5 338.7,30.5 339.1,30.4 339.5,30.4 339.8,30.2 340.2,30.0 340.6,29.9 341.0,29.7 341.3,29.6 341.7,29.5 342.1,29.2 342.5,29.1 342.8,29.1 343.2,29.0 343.6,28.9 344.0,28.8 344.3,28.8 344.7,28.7 345.1,28.5 345.5,28.4 345.8,28.3 346.2,28.2 346.6,28.2 347.0,28.0 347.3,28.0 347.7,27.9 348.1,27.9 348.5,27.7 348.8,27.6 349.2,27.5 349.6,27.4 350.0,27.4 350.3,27.3 350.7,27.1 351.1,27.1 351.5,27.0 351.8,27.0 352.2,26.8 352.6,26.9 353.0,26.8 353.3,26.6 353.7,26.7 354.1,26.5 354.5,26.5 354.8,26.4 355.2,26.2 355.6,26.2 356.0,26.2 356.3,26.0 356.7,26.1 357.1,25.9 357.5,25.9 357.8,25.9 358.2,25.7 358.6,25.7 359.0,25.6 359.3,25.6 359.7,25.4 360.1,25.4 360.5,25.3 360.8,25.1 361.2,25.1 361.6,25.0 362.0,25.0 362.4,25.4 362.7,25.0 363.1,24.9 363.5,24.7 363.9,24.6 364.2,24.5 364.6,24.4 365.0,24.4 365.4,24.3 365.7,24.2 366.1,24.0 366.5,24.0 366.9,23.9 367.2,23.9 367.6,23.7 368.0,23.6 368.4,23.6 368.7,23.5 369.1,23.4 369.5,23.3 369.9,23.3 370.2,23.2 370.6,23.2 371.0,23.0 371.4,23.0 371.7,22.8 372.1,22.7 372.5,22.7 372.9,22.7 373.2,22.6 373.6,22.4 374.0,22.5 374.4,22.3 374.7,22.2 375.1,22.3 375.5,22.3 375.9,22.1 376.2,22.1 376.6,22.0 377.0,21.9 377.4,21.9 377.7,21.9 378.1,21.9 378.5,21.6 378.9,21.8 379.2,21.7 379.6,21.5 380.0,21.6 380.4,21.6 380.7,21.5 381.1,21.5 381.5,21.5 381.9,21.5 382.2,21.4 382.6,21.3 383.0,21.3 383.4,21.4 383.7,21.3 384.1,21.2 384.5,21.2 384.9,21.1 385.2,21.1 385.6,21.1 386.0,21.0 386.4,21.0 386.8,21.0 387.1,21.0 387.5,21.0 387.9,21.0 388.3,20.9 388.6,20.9 389.0,20.8 389.4,20.8 389.8,20.7 390.1,20.7 390.5,20.7 390.9,20.6 391.3,20.7 391.6,20.7 392.0,20.6 392.4,20.7 392.8,20.6 393.1,20.5 393.5,20.6 393.9,20.5 394.3,20.4 394.6,20.4 395.0,20.4 395.4,20.3 395.8,20.2 396.1,20.2 396.5,20.2 396.9,20.4 397.3,20.4 397.6,20.3 398.0,20.2 398.4,20.2 398.8,20.2 399.1,20.2 399.5,20.2 399.9,20.2 400.3,19.9 400.6,19.9 401.0,20.0 401.4,20.0 401.8,20.0 402.1,19.9 402.5,19.9 402.9,19.9 403.3,19.9 403.6,19.9 404.0,19.9 404.4,19.8 404.8,19.7 405.1,19.7 405.5,19.7 405.9,19.7 406.3,19.6 406.6,19.6 407.0,19.5 407.4,19.6 407.8,19.6 408.1,19.5 408.5,19.4 408.9,19.5 409.3,19.6 409.6,19.5 410.0,19.5 410.4,19.4 410.8,19.4 411.2,19.3 411.5,19.3 411.9,19.2 412.3,19.3 412.7,19.3 413.0,19.2 413.4,19.2 413.8,19.2 414.2,19.2 414.5,19.1 414.9,19.2 415.3,19.1 415.7,19.0 416.0,19.0 416.4,19.0 416.8,19.0 417.2,18.9 417.5,18.8 417.9,18.9 418.3,18.8 418.7,18.8 419.0,18.9 419.4,18.8 419.8,18.7 420.2,18.8 420.5,18.7 420.9,18.8 421.3,18.7 421.7,18.7 422.0,18.7 422.4,18.6 422.8,18.5 423.2,18.6 423.5,18.5 423.9,18.4 424.3,18.6 424.7,18.4 425.0,18.4 425.4,18.5 425.8,18.1 426.2,18.2 426.5,18.4 426.9,18.4 427.3,18.5 427.7,18.3 428.0,18.3 428.4,18.4 428.8,18.2 429.2,18.2 429.5,18.3 429.9,18.2 430.3,18.2 430.7,18.2 431.0,18.1 431.4,18.1 431.8,18.1 432.2,18.1 432.5,18.2 432.9,18.1 433.3,18.0 433.7,18.0 434.0,17.9 434.4,17.9 434.8,18.0 435.2,18.0 435.6,17.8 435.9,17.9 436.3,18.0 436.7,17.9 437.1,17.8 437.4,17.9 437.8,17.8 438.2,17.9 438.6,17.7 438.9,17.8 439.3,17.6 439.7,17.7 440.1,17.6 440.4,17.6 440.8,17.6 441.2,17.6 441.6,17.7 441.9,17.6 442.3,17.5 442.7,17.7 443.1,17.6 443.4,17.6 443.8,17.5 444.2,17.5 444.6,17.4 444.9,17.5 445.3,17.4 445.7,17.4 446.1,17.2 446.4,17.4 446.8,17.3 447.2,17.2 447.6,17.4 447.9,17.3 448.3,17.3 448.7,17.4 449.1,17.3 449.4,17.3 449.8,17.1 450.2,17.2 450.6,17.2 450.9,17.1 451.3,17.1 451.7,17.1 452.1,17.2 452.4,17.0 452.8,17.1 453.2,17.2 453.6,17.1 453.9,17.1 454.3,16.9 454.7,17.1 455.1,17.0 455.4,16.9 455.8,17.0 456.2,16.9 456.6,16.8 456.9,16.8 457.3,16.8 457.7,16.8 458.1,16.9 458.5,16.9 458.8,16.9 459.2,16.8 459.6,16.8 460.0,16.8 460.3,16.9 460.7,16.7 461.1,16.8 461.5,16.7 461.8,16.6 462.2,16.6 462.6,16.7 463.0,16.5 463.3,16.6 463.7,16.6 464.1,16.6 464.5,16.6 464.8,16.6 465.2,16.6 465.6,16.5 466.0,16.5 466.3,16.5 466.7,16.5 467.1,16.5 467.5,16.6 467.8,16.5 468.2,16.4 468.6,16.4 469.0,16.5 469.3,16.5 469.7,16.5 470.1,16.5 470.5,16.4 470.8,16.3 471.2,16.3 471.6,16.4 472.0,16.3 472.3,16.3 472.7,16.2 473.1,16.3 473.5,16.2 473.8,16.4 474.2,16.2 474.6,16.3 475.0,16.2 475.3,16.3 475.7,16.3 476.1,16.1 476.5,16.4 476.8,16.4 477.2,16.2 477.6,16.1 478.0,16.2 478.3,16.1 478.7,16.0 479.1,16.0 479.5,16.2 479.8,16.0 480.2,15.9 480.6,16.1 481.0,15.9 481.3,16.0 481.7,16.1 482.1,16.1 482.5,16.1 482.9,16.0 483.2,15.9 483.6,15.9 484.0,16.0 484.4,16.0 484.7,16.0 485.1,15.8 485.5,16.0 485.9,15.8 486.2,15.9 486.6,15.8 487.0,16.0 487.4,15.9 487.7,15.8 488.1,16.0 488.5,15.9 488.9,15.9 489.2,15.9 489.6,15.8 490.0,15.8 490.4,15.7 490.7,15.9 491.1,15.8 491.5,15.7 491.9,15.8 492.2,15.8 492.6,15.9 493.0,15.7 493.4,15.7 493.7,15.8 494.1,15.7 494.5,15.8 494.9,15.9 495.2,15.8 495.6,15.6 496.0,15.7 496.4,15.7 496.7,15.5 497.1,15.5 497.5,15.7 497.9,15.6 498.2,15.6 498.6,15.7 499.0,15.7 499.4,15.6 499.7,15.7 500.1,15.7 500.5,15.6 500.9,15.5 501.2,15.5 501.6,15.4 502.0,15.5 502.4,15.3 502.7,15.4 503.1,15.4 503.5,15.5 503.9,15.5 504.2,15.5 504.6,15.6 505.0,15.5 505.4,15.5 505.7,15.5 506.1,15.4 506.5,15.5 506.9,15.3 507.3,15.5 507.6,15.4 508.0,15.2 508.4,15.3 508.8,15.5 509.1,15.4 509.5,15.4 509.9,15.2 510.3,15.5 510.6,15.4 511.0,15.5 511.4,15.4 511.8,15.3 512.1,15.4 512.5,15.3" fill="none" stroke="#111" stroke-width="1.6" stroke-linejoin="round" />
<polyline points="287.5,130.0 287.6,131.5 287.8,132.8 288.0,134.1 288.2,135.3 288.4,136.3 288.7,137.7 289.0,139.0 289.2,140.0 289.6,141.0 290.0,141.6 290.4,141.9 290.7,141.9 291.1,141.4 291.5,140.6 291.9,139.3 292.1,137.8 292.2,135.8 292.2,133.2 292.3,130.2 292.4,127.1 292.5,124.4 292.6,121.7 292.7,118.6 292.8,115.5 292.9,112.3 293.0,109.3 293.1,106.6 293.2,104.4 293.3,102.7 293.4,101.7 293.6,100.0 293.7,98.7 294.1,98.1 294.5,98.8 294.9,99.9 295.2,100.8 295.6,100.7 295.9,99.5 296.1,98.2 296.3,96.7 296.5,95.1 296.7,93.5 296.8,92.0 297.0,90.8 297.2,89.7 297.4,88.6 297.6,87.5 297.8,86.5 298.0,85.4 298.2,84.3 298.3,82.9 298.5,81.5 298.7,80.2 299.0,78.9 299.4,78.5 299.8,78.1 300.1,77.9 300.5,77.7 300.9,77.5 301.3,77.4 301.6,77.3 302.0,77.2 302.4,77.0 302.8,75.8 302.9,74.6 303.1,73.1 303.3,71.5 303.5,69.9 303.7,68.5 303.9,67.4 304.3,66.2 304.6,65.3 305.0,64.6 305.4,64.0 305.8,63.4 306.1,62.7 306.5,61.9 306.9,61.1 307.3,60.3 307.6,59.6 308.0,58.8 308.4,58.0 308.8,57.3 309.1,56.5 309.5,55.8 309.9,55.1 310.3,54.4 310.6,53.7 311.0,52.9 311.4,52.2 311.8,51.6 312.1,50.9 312.5,50.2 312.9,49.6 313.3,49.0 313.6,48.5 314.0,48.0 314.4,47.5 314.8,47.1 315.1,46.6 315.5,46.2 315.9,45.8 316.3,45.4 316.6,45.1 317.0,44.7 317.4,44.4 317.8,44.0 318.1,43.7 318.5,43.3 318.9,43.0 319.3,42.7 319.6,42.3 320.0,42.0 320.4,41.6 320.8,41.3 321.2,40.9 321.5,40.5 321.9,40.2 322.3,39.8 322.7,39.4 323.0,39.1 323.4,38.7 323.8,38.4 324.2,38.0 324.5,37.7 324.9,37.3 325.3,37.0 325.7,36.7 326.0,36.4 326.4,36.1 326.8,35.8 327.2,35.5 327.5,35.3 327.9,35.0 328.3,34.8 328.7,34.6 329.0,34.4 329.4,34.1 329.8,33.9 330.2,33.7 330.5,33.5 330.9,33.3 331.3,33.1 331.7,32.9 332.0,32.7 332.4,32.5 332.8,32.3 333.2,32.1 333.5,31.9 333.9,31.7 334.3,31.6 334.7,31.4 335.0,31.2 335.4,31.0 335.8,30.9 336.2,30.7 336.5,30.6 336.9,30.4 337.3,30.2 337.7,30.1 338.0,29.9 338.4,29.8 338.8,29.7 339.2,29.5 339.5,29.4 339.9,29.2 340.3,29.1 340.7,29.0 341.0,28.9 341.4,28.7 341.8,28.6 342.2,28.5 342.5,28.4 342.9,28.3 343.3,28.1 343.7,28.0 344.1,27.9 344.4,27.8 344.8,27.7 345.2,27.6 345.6,27.5 345.9,27.4 346.3,27.3 346.7,27.2 347.1,27.1 347.4,27.1 347.8,27.0 348.2,26.9 348.6,26.8 348.9,26.7 349.3,26.6 349.7,26.5 350.1,26.5 350.4,26.4 350.8,26.3 351.2,26.2 351.6,26.1 351.9,26.1 352.3,26.0 352.7,25.9 353.1,25.8 353.4,25.8 353.8,25.7 354.2,25.6 354.6,25.5 354.9,25.5 355.3,25.4 355.7,25.3 356.1,25.3 356.4,25.2 356.8,25.1 357.2,25.0 357.6,25.0 357.9,24.9 358.3,24.8 358.7,24.8 359.1,24.7 359.4,24.6 359.8,24.5 360.2,24.5 360.6,24.4 360.9,24.3 361.3,24.3 361.7,24.2 362.1,24.1 362.4,24.0 362.8,24.0 363.2,23.9 363.6,23.8 363.9,23.7 364.3,23.6 364.7,23.6 365.1,23.5 365.4,23.4 365.8,23.3 366.2,23.2 366.6,23.1 366.9,23.1 367.3,23.0 367.7,22.9 368.1,22.8 368.5,22.7 368.8,22.6 369.2,22.6 369.6,22.5 370.0,22.4 370.3,22.3 370.7,22.2 371.1,22.2 371.5,22.1 371.8,22.0 372.2,21.9 372.6,21.8 373.0,21.8 373.3,21.7 373.7,21.6 374.1,21.6 374.5,21.5 374.8,21.4 375.2,21.4 375.6,21.3 376.0,21.3 376.3,21.2 376.7,21.2 377.1,21.1 377.5,21.1 377.8,21.0 378.2,21.0 378.6,20.9 379.0,20.9 379.3,20.9 379.7,20.8 380.1,20.8 380.5,20.8 380.8,20.7 381.2,20.7 381.6,20.6 382.0,20.6 382.3,20.6 382.7,20.5 383.1,20.5 383.5,20.5 383.8,20.4 384.2,20.4 384.6,20.4 385.0,20.3 385.3,20.3 385.7,20.3 386.1,20.3 386.5,20.2 386.8,20.2 387.2,20.2 387.6,20.1 388.0,20.1 388.3,20.1 388.7,20.1 389.1,20.0 389.5,20.0 389.8,20.0 390.2,20.0 390.6,19.9 391.0,19.9 391.3,19.9 391.7,19.9 392.1,19.8 392.5,19.8 392.9,19.8 393.2,19.8 393.6,19.7 394.0,19.7 394.4,19.7 394.7,19.7 395.1,19.6 395.5,19.6 395.9,19.6 396.2,19.6 396.6,19.6 397.0,19.5 397.4,19.5 397.7,19.5 398.1,19.5 398.5,19.4 398.9,19.4 399.2,19.4 399.6,19.4 400.0,19.3 400.4,19.3 400.7,19.3 401.1,19.3 401.5,19.2 401.9,19.2 402.2,19.2 402.6,19.2 403.0,19.1 403.4,19.1 403.7,19.1 404.1,19.1 404.5,19.0 404.9,19.0 405.2,19.0 405.6,19.0 406.0,18.9 406.4,18.9 406.7,18.9 407.1,18.9 407.5,18.9 407.9,18.8 408.2,18.8 408.6,18.8 409.0,18.8 409.4,18.7 409.7,18.7 410.1,18.7 410.5,18.7 410.9,18.6 411.2,18.6 411.6,18.6 412.0,18.6 412.4,18.6 412.7,18.5 413.1,18.5 413.5,18.5 413.9,18.5 414.2,18.4 414.6,18.4 415.0,18.4 415.4,18.4 415.7,18.3 416.1,18.3 416.5,18.3 416.9,18.3 417.3,18.3 417.6,18.2 418.0,18.2 418.4,18.2 418.8,18.2 419.1,18.2 419.5,18.1 419.9,18.1 420.3,18.1 420.6,18.1 421.0,18.0 421.4,18.0 421.8,18.0 422.1,18.0 422.5,18.0 422.9,17.9 423.3,17.9 423.6,17.9 424.0,17.9 424.4,17.9 424.8,17.8 425.1,17.8 425.5,17.8 425.9,17.8 426.3,17.8 426.6,17.7 427.0,17.7 427.4,17.7 427.8,17.7 428.1,17.7 428.5,17.6 428.9,17.6 429.3,17.6 429.6,17.6 430.0,17.6 430.4,17.5 430.8,17.5 431.1,17.5 431.5,17.5 431.9,17.5 432.3,17.4 432.6,17.4 433.0,17.4 433.4,17.4 433.8,17.4 434.1,17.3 434.5,17.3 434.9,17.3 435.3,17.3 435.6,17.3 436.0,17.2 436.4,17.2 436.8,17.2 437.1,17.2 437.5,17.2 437.9,17.1 438.3,17.1 438.6,17.1 439.0,17.1 439.4,17.1 439.8,17.1 440.1,17.0 440.5,17.0 440.9,17.0 441.3,17.0 441.7,17.0 442.0,16.9 442.4,16.9 442.8,16.9 443.2,16.9 443.5,16.9 443.9,16.9 444.3,16.8 444.7,16.8 445.0,16.8 445.4,16.8 445.8,16.8 446.2,16.8 446.5,16.7 446.9,16.7 447.3,16.7 447.7,16.7 448.0,16.7 448.4,16.6 448.8,16.6 449.2,16.6 449.5,16.6 449.9,16.6 450.3,16.6 450.7,16.5 451.0,16.5 451.4,16.5 451.8,16.5 452.2,16.5 452.5,16.5 452.9,16.4 453.3,16.4 453.7,16.4 454.0,16.4 454.4,16.4 454.8,16.4 455.2,16.3 455.5,16.3 455.9,16.3 456.3,16.3 456.7,16.3 457.0,16.3 457.4,16.2 457.8,16.2 458.2,16.2 458.5,16.2 458.9,16.2 459.3,16.2 459.7,16.1 460.0,16.1 460.4,16.1 460.8,16.1 461.2,16.1 461.5,16.1 461.9,16.0 462.3,16.0 462.7,16.0 463.0,16.0 463.4,16.0 463.8,16.0 464.2,15.9 464.6,15.9 464.9,15.9 465.3,15.9 465.7,15.9 466.1,15.9 466.4,15.8 466.8,15.8 467.2,15.8 467.6,15.8 467.9,15.8 468.3,15.8 468.7,15.7 469.1,15.7 469.4,15.7 469.8,15.7 470.2,15.7 470.6,15.7 470.9,15.7 471.3,15.6 471.7,15.6 472.1,15.6 472.4,15.6 472.8,15.6 473.2,15.6 473.6,15.5 473.9,15.5 474.3,15.5 474.7,15.5 475.1,15.5 475.4,15.5 475.8,15.5 476.2,15.4 476.6,15.4 476.9,15.4 477.3,15.4 477.7,15.4 478.1,15.4 478.4,15.4 478.8,15.3 479.2,15.3 479.6,15.3 479.9,15.3 480.3,15.3 480.7,15.3 481.1,15.3 481.4,15.2 481.8,15.2 482.2,15.2 482.6,15.2 482.9,15.2 483.3,15.2 483.7,15.2 484.1,15.1 484.4,15.1 484.8,15.1 485.2,15.1 485.6,15.1 485.9,15.1 486.3,15.1 486.7,15.0 487.1,15.0 487.4,15.0 487.8,15.0 488.2,15.0 488.6,15.0 489.0,15.0 489.3,15.0 489.7,14.9 490.1,14.9 490.5,14.9 490.8,14.9 491.2,14.9 491.6,14.9 492.0,14.9 492.3,14.8 492.7,14.8 493.1,14.8 493.5,14.8 493.8,14.8 494.2,14.8 494.6,14.8 495.0,14.8 495.3,14.7 495.7,14.7 496.1,14.7 496.5,14.7 496.8,14.7 497.2,14.7 497.6,14.7 498.0,14.7 498.3,14.6 498.7,14.6 499.1,14.6 499.5,14.6 499.8,14.6 500.2,14.6 500.6,14.6 501.0,14.6 501.3,14.5 501.7,14.5 502.1,14.5 502.5,14.5 502.8,14.5 503.2,14.5 503.6,14.5 504.0,14.5 504.3,14.5 504.7,14.4 505.1,14.4 505.5,14.4 505.8,14.4 506.2,14.4 506.6,14.4 507.0,14.4 507.3,14.4 507.7,14.3 508.1,14.3 508.5,14.3 508.8,14.3 509.2,14.3 509.6,14.3 510.0,14.3 510.3,14.3 510.7,14.3 511.1,14.2 511.5,14.2 511.8,14.2 512.2,14.2 512.6,14.2" fill="none" stroke="#0000f0" stroke-width="1.1" stroke-linejoin="round" />
</g>
<rect x="287.46" y="4.2" width="225.14" height="144.30" fill="none" stroke="#444" stroke-width="0.9"/>
<line x1="287.46" y1="148.5" x2="287.46" y2="146.2" stroke="#444" stroke-width="0.7"/>
<line x1="287.46" y1="4.2" x2="287.46" y2="6.5" stroke="#444" stroke-width="0.7"/>
<text x="287.46" y="155.70" font-size="7.3" text-anchor="middle">0.0</text>
<line x1="315.60" y1="148.5" x2="315.60" y2="146.2" stroke="#444" stroke-width="0.7"/>
<line x1="315.60" y1="4.2" x2="315.60" y2="6.5" stroke="#444" stroke-width="0.7"/>
<text x="315.60" y="155.70" font-size="7.3" text-anchor="middle">2.5</text>
<line x1="343.75" y1="148.5" x2="343.75" y2="146.2" stroke="#444" stroke-width="0.7"/>
<line x1="343.75" y1="4.2" x2="343.75" y2="6.5" stroke="#444" stroke-width="0.7"/>
<text x="343.75" y="155.70" font-size="7.3" text-anchor="middle">5.0</text>
<line x1="371.89" y1="148.5" x2="371.89" y2="146.2" stroke="#444" stroke-width="0.7"/>
<line x1="371.89" y1="4.2" x2="371.89" y2="6.5" stroke="#444" stroke-width="0.7"/>
<text x="371.89" y="155.70" font-size="7.3" text-anchor="middle">7.5</text>
<line x1="400.03" y1="148.5" x2="400.03" y2="146.2" stroke="#444" stroke-width="0.7"/>
<line x1="400.03" y1="4.2" x2="400.03" y2="6.5" stroke="#444" stroke-width="0.7"/>
<text x="400.03" y="155.70" font-size="7.3" text-anchor="middle">10.0</text>
<line x1="428.17" y1="148.5" x2="428.17" y2="146.2" stroke="#444" stroke-width="0.7"/>
<line x1="428.17" y1="4.2" x2="428.17" y2="6.5" stroke="#444" stroke-width="0.7"/>
<text x="428.17" y="155.70" font-size="7.3" text-anchor="middle">12.5</text>
<line x1="456.31" y1="148.5" x2="456.31" y2="146.2" stroke="#444" stroke-width="0.7"/>
<line x1="456.31" y1="4.2" x2="456.31" y2="6.5" stroke="#444" stroke-width="0.7"/>
<text x="456.31" y="155.70" font-size="7.3" text-anchor="middle">15.0</text>
<line x1="484.46" y1="148.5" x2="484.46" y2="146.2" stroke="#444" stroke-width="0.7"/>
<line x1="484.46" y1="4.2" x2="484.46" y2="6.5" stroke="#444" stroke-width="0.7"/>
<text x="484.46" y="155.70" font-size="7.3" text-anchor="middle">17.5</text>
<line x1="512.60" y1="148.5" x2="512.60" y2="146.2" stroke="#444" stroke-width="0.7"/>
<line x1="512.60" y1="4.2" x2="512.60" y2="6.5" stroke="#444" stroke-width="0.7"/>
<text x="512.60" y="155.70" font-size="7.3" text-anchor="middle">20.0</text>
<line x1="287.46" y1="138.88" x2="289.76" y2="138.88" stroke="#444" stroke-width="0.7"/>
<line x1="512.6" y1="138.88" x2="510.3" y2="138.88" stroke="#444" stroke-width="0.7"/>
<text x="286.46" y="141.29" font-size="7.3" text-anchor="end">0.8</text>
<line x1="287.46" y1="119.64" x2="289.76" y2="119.64" stroke="#444" stroke-width="0.7"/>
<line x1="512.6" y1="119.64" x2="510.3" y2="119.64" stroke="#444" stroke-width="0.7"/>
<text x="286.46" y="122.05" font-size="7.3" text-anchor="end">1.0</text>
<line x1="287.46" y1="100.40" x2="289.76" y2="100.40" stroke="#444" stroke-width="0.7"/>
<line x1="512.6" y1="100.40" x2="510.3" y2="100.40" stroke="#444" stroke-width="0.7"/>
<text x="286.46" y="102.81" font-size="7.3" text-anchor="end">1.2</text>
<line x1="287.46" y1="81.16" x2="289.76" y2="81.16" stroke="#444" stroke-width="0.7"/>
<line x1="512.6" y1="81.16" x2="510.3" y2="81.16" stroke="#444" stroke-width="0.7"/>
<text x="286.46" y="83.57" font-size="7.3" text-anchor="end">1.4</text>
<line x1="287.46" y1="61.92" x2="289.76" y2="61.92" stroke="#444" stroke-width="0.7"/>
<line x1="512.6" y1="61.92" x2="510.3" y2="61.92" stroke="#444" stroke-width="0.7"/>
<text x="286.46" y="64.33" font-size="7.3" text-anchor="end">1.6</text>
<line x1="287.46" y1="42.68" x2="289.76" y2="42.68" stroke="#444" stroke-width="0.7"/>
<line x1="512.6" y1="42.68" x2="510.3" y2="42.68" stroke="#444" stroke-width="0.7"/>
<text x="286.46" y="45.09" font-size="7.3" text-anchor="end">1.8</text>
<line x1="287.46" y1="23.44" x2="289.76" y2="23.44" stroke="#444" stroke-width="0.7"/>
<line x1="512.6" y1="23.44" x2="510.3" y2="23.44" stroke="#444" stroke-width="0.7"/>
<text x="286.46" y="25.85" font-size="7.3" text-anchor="end">2.0</text>
<line x1="287.46" y1="4.20" x2="289.76" y2="4.20" stroke="#444" stroke-width="0.7"/>
<line x1="512.6" y1="4.20" x2="510.3" y2="4.20" stroke="#444" stroke-width="0.7"/>
<text x="286.46" y="6.61" font-size="7.3" text-anchor="end">2.2</text>
<rect x="363.3" y="50.5" width="141.40" height="82.80" fill="#fff" stroke="none"/>
<clipPath id="iTR"><rect x="363.3" y="50.5" width="141.40" height="82.80"/></clipPath>
<g clip-path="url(#iTR)">
<polyline points="362.2,131.2 362.3,130.8 362.4,130.3 362.5,129.8 362.6,129.4 362.7,129.7 362.7,129.0 362.8,129.0 362.9,130.1 363.0,129.4 363.1,129.2 363.2,129.7 363.3,128.9 363.4,128.0 363.5,128.7 363.6,128.6 363.7,129.2 363.8,129.1 363.9,129.2 364.0,128.7 364.1,128.4 364.2,128.5 364.3,126.5 364.4,127.8 364.5,128.2 364.6,126.9 364.7,128.0 364.8,127.9 364.9,127.9 365.0,127.1 365.1,126.7 365.2,126.6 365.3,127.0 365.4,126.5 365.5,125.4 365.6,127.0 365.7,126.3 365.8,126.0 365.9,126.1 366.0,126.1 366.1,126.4 366.2,126.2 366.3,126.5 366.4,127.0 366.5,126.2 366.6,125.9 366.7,125.5 366.8,126.9 366.9,126.6 367.0,125.7 367.1,125.5 367.2,125.4 367.3,126.3 367.4,124.7 367.5,125.4 367.6,125.9 367.7,126.0 367.8,126.0 367.9,124.7 368.0,124.9 368.1,125.2 368.2,125.3 368.3,124.1 368.3,124.8 368.4,124.1 368.5,123.5 368.6,123.4 368.7,123.3 368.8,123.3 368.9,123.5 369.0,123.1 369.1,123.8 369.2,123.6 369.3,123.8 369.4,123.9 369.5,123.1 369.6,123.1 369.7,122.7 369.8,123.0 369.9,122.1 370.0,121.9 370.1,122.4 370.2,122.7 370.3,122.3 370.4,122.3 370.5,122.1 370.6,122.5 370.7,122.5 370.8,120.8 370.9,121.4 371.0,121.2 371.1,121.1 371.2,120.6 371.3,121.0 371.4,121.3 371.5,121.4 371.6,122.0 371.7,122.1 371.8,121.6 371.9,121.4 372.0,121.5 372.1,121.6 372.2,120.1 372.3,120.7 372.4,120.5 372.5,121.6 372.6,120.7 372.7,120.2 372.8,120.4 372.9,120.3 373.0,120.7 373.1,121.2 373.2,121.5 373.3,121.5 373.4,120.8 373.5,120.9 373.6,121.7 373.7,120.4 373.8,120.3 373.9,119.7 373.9,119.5 374.0,120.0 374.1,119.8 374.2,119.9 374.3,120.5 374.4,120.0 374.5,119.4 374.6,119.3 374.7,119.8 374.8,119.2 374.9,119.5 375.0,119.7 375.1,119.4 375.2,118.3 375.3,118.2 375.4,118.9 375.5,119.0 375.6,118.7 375.7,118.0 375.8,118.2 375.9,118.5 376.0,119.2 376.1,117.5 376.2,117.3 376.3,117.9 376.4,118.0 376.5,117.3 376.6,117.2 376.7,117.7 376.8,118.2 376.9,117.6 377.0,117.1 377.1,116.9 377.2,116.4 377.3,116.5 377.4,116.8 377.5,118.0 377.6,118.8 377.7,117.6 377.8,116.6 377.9,117.8 378.0,117.7 378.1,117.2 378.2,118.0 378.3,118.1 378.4,117.6 378.5,116.0 378.6,117.3 378.7,117.6 378.8,117.7 378.9,116.9 379.0,116.7 379.1,115.9 379.2,116.4 379.3,116.5 379.4,117.0 379.4,116.9 379.5,116.2 379.6,115.0 379.7,116.0 379.8,116.5 379.9,115.3 380.0,116.0 380.1,116.3 380.2,115.5 380.3,115.6 380.4,115.0 380.5,114.9 380.6,115.5 380.7,116.1 380.8,114.9 380.9,115.1 381.0,114.1 381.1,113.9 381.2,115.0 381.3,115.0 381.4,114.3 381.5,114.8 381.6,114.9 381.7,115.0 381.8,115.2 381.9,115.4 382.0,114.0 382.1,113.3 382.2,115.5 382.3,114.3 382.4,112.9 382.5,112.8 382.6,112.8 382.7,113.4 382.8,112.7 382.9,112.7 383.0,113.4 383.1,113.3 383.2,113.0 383.3,113.9 383.4,114.0 383.5,114.7 383.6,114.9 383.7,114.6 383.8,113.9 383.9,113.9 384.0,114.4 384.1,112.9 384.2,113.4 384.3,113.6 384.4,114.0 384.5,113.9 384.6,112.8 384.7,113.1 384.8,112.6 384.9,113.1 385.0,113.4 385.0,113.1 385.1,112.9 385.2,113.7 385.3,112.2 385.4,112.0 385.5,112.1 385.6,112.3 385.7,112.4 385.8,111.8 385.9,112.5 386.0,112.5 386.1,111.7 386.2,111.9 386.3,112.3 386.4,111.7 386.5,111.5 386.6,111.6 386.7,112.7 386.8,110.7 386.9,110.8 387.0,109.9 387.1,110.1 387.2,111.5 387.3,111.1 387.4,109.7 387.5,110.0 387.6,110.9 387.7,110.5 387.8,110.7 387.9,111.0 388.0,110.5 388.1,110.3 388.2,110.5 388.3,110.6 388.4,110.5 388.5,109.4 388.6,110.2 388.7,110.4 388.8,109.6 388.9,109.6 389.0,110.1 389.1,110.1 389.2,110.2 389.3,110.3 389.4,110.1 389.5,110.0 389.6,110.4 389.7,109.5 389.8,110.3 389.9,110.0 390.0,109.5 390.1,109.1 390.2,109.6 390.3,110.0 390.4,109.5 390.5,108.8 390.6,110.0 390.6,110.1 390.7,108.5 390.8,109.0 390.9,109.4 391.0,109.3 391.1,109.4 391.2,109.3 391.3,109.4 391.4,109.1 391.5,110.1 391.6,109.6 391.7,108.5 391.8,108.1 391.9,107.8 392.0,107.6 392.1,108.1 392.2,107.6 392.3,107.6 392.4,106.8 392.5,106.9 392.6,107.8 392.7,107.4 392.8,107.1 392.9,107.7 393.0,107.9 393.1,107.6 393.2,107.2 393.3,107.5 393.4,107.0 393.5,107.5 393.6,106.6 393.7,107.4 393.8,107.0 393.9,106.4 394.0,106.8 394.1,105.7 394.2,106.0 394.3,106.7 394.4,106.7 394.5,105.4 394.6,106.4 394.7,106.8 394.8,105.6 394.9,106.3 395.0,106.9 395.1,106.7 395.2,106.8 395.3,107.3 395.4,106.0 395.5,106.8 395.6,105.7 395.7,105.7 395.8,105.3 395.9,104.7 396.0,105.7 396.1,105.7 396.1,105.6 396.2,105.8 396.3,106.1 396.4,105.6 396.5,106.5 396.6,106.4 396.7,106.0 396.8,106.1 396.9,105.8 397.0,105.6 397.1,106.0 397.2,106.0 397.3,105.5 397.4,104.5 397.5,105.0 397.6,105.2 397.7,104.4 397.8,104.2 397.9,104.9 398.0,105.3 398.1,104.8 398.2,103.8 398.3,105.1 398.4,104.7 398.5,103.6 398.6,104.6 398.7,104.6 398.8,104.4 398.9,103.8 399.0,103.5 399.1,103.8 399.2,103.7 399.3,103.2 399.4,104.1 399.5,104.5 399.6,104.7 399.7,103.5 399.8,102.5 399.9,103.1 400.0,103.6 400.1,103.5 400.2,103.5 400.3,102.9 400.4,102.9 400.5,103.0 400.6,103.1 400.7,102.5 400.8,102.0 400.9,102.6 401.0,102.7 401.1,102.9 401.2,102.8 401.3,103.4 401.4,103.3 401.5,102.1 401.6,103.0 401.7,103.0 401.7,102.8 401.8,102.1 401.9,102.6 402.0,101.9 402.1,103.1 402.2,103.1 402.3,103.7 402.4,103.0 402.5,101.9 402.6,101.6 402.7,101.4 402.8,102.1 402.9,101.5 403.0,100.7 403.1,101.5 403.2,101.0 403.3,101.2 403.4,101.4 403.5,101.1 403.6,101.1 403.7,100.8 403.8,100.6 403.9,100.3 404.0,101.0 404.1,101.3 404.2,102.0 404.3,101.4 404.4,101.1 404.5,101.5 404.6,101.0 404.7,100.8 404.8,100.3 404.9,99.1 405.0,99.9 405.1,99.8 405.2,99.4 405.3,100.0 405.4,100.6 405.5,99.5 405.6,99.6 405.7,99.5 405.8,100.3 405.9,100.5 406.0,99.5 406.1,99.1 406.2,98.2 406.3,99.3 406.4,99.2 406.5,100.3 406.6,100.4 406.7,99.5 406.8,100.3 406.9,99.5 407.0,98.7 407.1,98.8 407.2,99.3 407.3,99.1 407.3,99.7 407.4,99.4 407.5,98.4 407.6,99.1 407.7,99.7 407.8,99.2 407.9,99.3 408.0,98.9 408.1,98.9 408.2,98.6 408.3,98.5 408.4,99.4 408.5,98.3 408.6,98.5 408.7,99.1 408.8,98.7 408.9,97.8 409.0,98.1 409.1,98.0 409.2,98.2 409.3,97.5 409.4,97.7 409.5,98.0 409.6,98.3 409.7,98.4 409.8,97.1 409.9,97.8 410.0,98.1 410.1,97.8 410.2,97.6 410.3,97.2 410.4,97.4 410.5,97.7 410.6,97.2 410.7,96.6 410.8,96.8 410.9,96.4 411.0,97.5 411.1,97.1 411.2,96.6 411.3,96.2 411.4,97.2 411.5,96.5 411.6,95.5 411.7,96.6 411.8,97.0 411.9,95.6 412.0,95.1 412.1,95.5 412.2,96.3 412.3,97.4 412.4,96.2 412.5,96.6 412.6,96.1 412.7,95.1 412.8,95.0 412.8,95.1 412.9,96.1 413.0,95.2 413.1,95.3 413.2,96.2 413.3,96.3 413.4,96.0 413.5,95.2 413.6,94.7 413.7,92.9 413.8,92.2 413.9,91.7 414.0,91.6 414.1,92.0 414.2,93.5 414.3,95.2 414.4,95.9 414.5,95.1 414.6,95.3 414.7,94.9 414.8,94.9 414.9,94.9 415.0,94.9 415.1,95.9 415.2,96.1 415.3,95.8 415.4,95.8 415.5,94.7 415.6,94.9 415.7,94.6 415.8,94.3 415.9,94.2 416.0,93.7 416.1,93.7 416.2,94.4 416.3,94.4 416.4,94.9 416.5,94.3 416.6,94.8 416.7,94.4 416.8,93.5 416.9,93.0 417.0,93.3 417.1,92.8 417.2,92.9 417.3,92.8 417.4,93.3 417.5,94.0 417.6,93.7 417.7,93.9 417.8,93.9 417.9,93.6 418.0,93.5 418.1,93.1 418.2,93.0 418.3,93.2 418.4,92.6 418.4,93.2 418.5,93.4 418.6,93.2 418.7,93.5 418.8,93.2 418.9,93.3 419.0,91.7 419.1,91.5 419.2,91.5 419.3,92.4 419.4,92.8 419.5,92.9 419.6,93.9 419.7,92.6 419.8,93.3 419.9,93.1 420.0,93.3 420.1,91.9 420.2,91.6 420.3,93.0 420.4,92.6 420.5,92.5 420.6,91.7 420.7,90.8 420.8,91.4 420.9,92.9 421.0,92.5 421.1,91.6 421.2,90.7 421.3,92.0 421.4,92.2 421.5,92.8 421.6,91.1 421.7,91.5 421.8,91.1 421.9,92.1 422.0,92.7 422.1,91.5 422.2,90.4 422.3,90.7 422.4,91.3 422.5,90.6 422.6,90.3 422.7,91.0 422.8,90.2 422.9,90.6 423.0,90.6 423.1,90.9 423.2,91.1 423.3,91.0 423.4,90.2 423.5,90.6 423.6,90.4 423.7,90.9 423.8,91.7 423.9,91.3 424.0,90.0 424.0,89.6 424.1,89.8 424.2,91.2 424.3,90.8 424.4,90.8 424.5,90.1 424.6,90.4 424.7,90.6 424.8,91.0 424.9,89.6 425.0,89.3 425.1,90.2 425.2,90.4 425.3,91.3 425.4,90.8 425.5,90.7 425.6,89.8 425.7,90.4 425.8,90.2 425.9,89.2 426.0,90.6 426.1,91.0 426.2,91.0 426.3,89.7 426.4,89.3 426.5,89.2 426.6,88.6 426.7,89.3 426.8,90.2 426.9,89.9 427.0,89.9 427.1,89.7 427.2,88.5 427.3,88.1 427.4,88.6 427.5,88.8 427.6,89.3 427.7,89.9 427.8,88.9 427.9,89.0 428.0,87.8 428.1,88.1 428.2,88.4 428.3,87.6 428.4,88.7 428.5,87.2 428.6,87.9 428.7,87.9 428.8,87.8 428.9,87.4 429.0,87.7 429.1,88.0 429.2,87.4 429.3,87.0 429.4,87.4 429.5,87.7 429.5,87.6 429.6,87.4 429.7,87.1 429.8,87.1 429.9,87.1 430.0,87.7 430.1,87.7 430.2,87.8 430.3,88.5 430.4,88.7 430.5,87.5 430.6,88.1 430.7,87.5 430.8,87.8 430.9,87.3 431.0,86.2 431.1,86.8 431.2,88.1 431.3,88.1 431.4,88.0 431.5,88.2 431.6,87.9 431.7,87.6 431.8,87.7 431.9,87.4 432.0,86.8 432.1,87.3 432.2,87.9 432.3,87.5 432.4,88.1 432.5,87.6 432.6,86.0 432.7,86.4 432.8,86.0 432.9,85.7 433.0,86.5 433.1,86.2 433.2,86.7 433.3,87.7 433.4,86.1 433.5,85.9 433.6,84.9 433.7,85.5 433.8,85.4 433.9,86.6 434.0,86.3 434.1,85.4 434.2,85.6 434.3,85.6 434.4,85.2 434.5,85.9 434.6,85.5 434.7,85.6 434.8,86.3 434.9,85.9 435.0,84.9 435.1,83.5 435.1,83.8 435.2,83.9 435.3,85.0 435.4,85.2 435.5,84.4 435.6,84.1 435.7,85.5 435.8,84.2 435.9,84.1 436.0,85.4 436.1,84.6 436.2,83.7 436.3,83.5 436.4,84.4 436.5,86.0 436.6,85.8 436.7,83.9 436.8,84.1 436.9,84.0 437.0,84.5 437.1,84.9 437.2,84.3 437.3,84.2 437.4,84.5 437.5,84.1 437.6,84.4 437.7,84.4 437.8,85.6 437.9,84.7 438.0,83.4 438.1,83.7 438.2,84.1 438.3,84.6 438.4,84.6 438.5,84.8 438.6,84.5 438.7,84.1 438.8,84.3 438.9,84.2 439.0,83.0 439.1,83.6 439.2,83.6 439.3,84.1 439.4,83.9 439.5,83.2 439.6,83.0 439.7,84.0 439.8,83.4 439.9,83.1 440.0,82.8 440.1,82.0 440.2,82.9 440.3,83.0 440.4,82.7 440.5,83.6 440.6,82.7 440.7,82.7 440.7,81.8 440.8,82.5 440.9,82.6 441.0,81.5 441.1,82.2 441.2,83.1 441.3,83.2 441.4,82.2 441.5,82.4 441.6,82.7 441.7,81.5 441.8,81.8 441.9,82.2 442.0,82.6 442.1,83.0 442.2,82.5 442.3,82.8 442.4,82.3 442.5,83.4 442.6,83.2 442.7,82.4 442.8,81.9 442.9,82.8 443.0,83.1 443.1,82.8 443.2,83.2 443.3,83.1 443.4,82.1 443.5,81.8 443.6,81.9 443.7,81.0 443.8,82.1 443.9,82.2 444.0,82.2 444.1,82.7 444.2,82.2 444.3,81.6 444.4,81.1 444.5,81.7 444.6,81.2 444.7,81.3 444.8,81.9 444.9,81.0 445.0,81.1 445.1,81.7 445.2,80.7 445.3,82.0 445.4,81.1 445.5,80.5 445.6,80.5 445.7,81.1 445.8,80.1 445.9,80.3 446.0,80.6 446.1,79.3 446.2,81.5 446.2,82.1 446.3,80.5 446.4,80.0 446.5,81.3 446.6,79.5 446.7,79.5 446.8,79.9 446.9,79.4 447.0,79.3 447.1,79.5 447.2,79.7 447.3,80.8 447.4,80.4 447.5,79.7 447.6,81.1 447.7,80.7 447.8,79.8 447.9,80.2 448.0,80.2 448.1,80.2 448.2,79.6 448.3,80.4 448.4,80.6 448.5,79.7 448.6,79.0 448.7,79.6 448.8,79.9 448.9,81.5 449.0,81.6 449.1,79.8 449.2,80.0 449.3,80.4 449.4,80.8 449.5,80.3 449.6,79.5 449.7,80.1 449.8,79.7 449.9,79.8 450.0,80.6 450.1,80.8 450.2,80.2 450.3,80.9 450.4,79.0 450.5,77.8 450.6,77.8 450.7,78.6 450.8,79.3 450.9,79.4 451.0,79.8 451.1,79.6 451.2,78.9 451.3,78.7 451.4,79.6 451.5,78.3 451.6,77.9 451.7,78.3 451.8,78.3 451.8,79.1 451.9,77.9 452.0,77.7 452.1,78.4 452.2,77.9 452.3,78.4 452.4,78.7 452.5,78.3 452.6,77.5 452.7,77.0 452.8,78.5 452.9,77.9 453.0,77.2 453.1,78.0 453.2,78.5 453.3,78.4 453.4,78.5 453.5,77.8 453.6,77.6 453.7,77.8 453.8,77.9 453.9,77.9 454.0,77.5 454.1,77.3 454.2,76.6 454.3,77.7 454.4,78.6 454.5,78.0 454.6,76.4 454.7,77.8 454.8,77.8 454.9,77.6 455.0,77.5 455.1,78.0 455.2,78.9 455.3,77.8 455.4,75.9 455.5,76.5 455.6,77.7 455.7,77.9 455.8,78.0 455.9,77.2 456.0,78.5 456.1,79.4 456.2,77.8 456.3,77.1 456.4,77.1 456.5,76.9 456.6,77.0 456.7,77.0 456.8,77.2 456.9,76.3 457.0,75.7 457.1,77.0 457.2,75.8 457.3,76.5 457.4,77.2 457.4,77.3 457.5,77.2 457.6,76.8 457.7,76.1 457.8,76.3 457.9,76.3 458.0,75.7 458.1,76.7 458.2,76.1 458.3,75.3 458.4,75.6 458.5,76.1 458.6,76.2 458.7,75.7 458.8,76.2 458.9,76.8 459.0,77.0 459.1,76.5 459.2,75.5 459.3,76.1 459.4,77.1 459.5,76.7 459.6,76.3 459.7,76.1 459.8,76.6 459.9,76.5 460.0,76.0 460.1,76.6 460.2,76.8 460.3,75.8 460.4,75.7 460.5,76.5 460.6,76.1 460.7,76.3 460.8,76.1 460.9,75.2 461.0,75.2 461.1,76.3 461.2,76.6 461.3,74.7 461.4,75.1 461.5,76.3 461.6,76.8 461.7,76.1 461.8,75.8 461.9,75.9 462.0,76.3 462.1,75.2 462.2,74.5 462.3,75.8 462.4,74.6 462.5,74.9 462.6,74.9 462.7,74.4 462.8,74.6 462.9,73.9 462.9,74.4 463.0,75.4 463.1,74.8 463.2,73.5 463.3,75.2 463.4,76.4 463.5,75.4 463.6,74.5 463.7,74.1 463.8,74.0 463.9,74.7 464.0,74.6 464.1,75.5 464.2,75.0 464.3,74.7 464.4,74.5 464.5,73.6 464.6,74.2 464.7,74.9 464.8,74.5 464.9,74.5 465.0,75.1 465.1,74.4 465.2,74.1 465.3,74.3 465.4,73.2 465.5,74.3 465.6,75.4 465.7,75.2 465.8,74.6 465.9,74.9 466.0,74.9 466.1,75.0 466.2,74.4 466.3,73.6 466.4,73.5 466.5,73.3 466.6,74.5 466.7,75.6 466.8,75.4 466.9,75.4 467.0,74.8 467.1,74.3 467.2,74.5 467.3,75.5 467.4,74.0 467.5,72.9 467.6,72.9 467.7,73.6 467.8,73.5 467.9,74.1 468.0,73.7 468.1,72.7 468.2,72.8 468.3,73.3 468.4,73.3 468.5,73.5 468.5,73.9 468.6,74.2 468.7,73.7 468.8,73.1 468.9,73.7 469.0,73.2 469.1,72.3 469.2,72.3 469.3,72.5 469.4,73.3 469.5,73.7 469.6,71.9 469.7,73.2 469.8,72.9 469.9,72.1 470.0,74.1 470.1,73.5 470.2,72.2 470.3,72.0 470.4,71.9 470.5,72.5 470.6,72.5 470.7,71.1 470.8,71.1 470.9,71.1 471.0,73.1 471.1,72.9 471.2,72.7 471.3,73.3 471.4,72.4 471.5,71.7 471.6,71.2 471.7,72.3 471.8,73.0 471.9,73.1 472.0,72.0 472.1,72.9 472.2,73.3 472.3,73.3 472.4,73.3 472.5,73.8 472.6,74.1 472.7,72.9 472.8,73.3 472.9,71.8 473.0,72.0 473.1,72.7 473.2,72.9 473.3,72.1 473.4,71.5 473.5,72.0 473.6,72.0 473.7,72.1 473.8,73.6 473.9,72.1 474.0,71.3 474.1,71.6 474.1,71.6 474.2,72.4 474.3,71.2 474.4,72.8 474.5,72.0 474.6,71.8 474.7,71.9 474.8,71.5 474.9,72.0 475.0,71.4 475.1,71.8 475.2,72.6 475.3,72.3 475.4,71.9 475.5,72.3 475.6,71.2 475.7,71.5 475.8,70.6 475.9,70.5 476.0,70.7 476.1,71.6 476.2,71.6 476.3,72.0 476.4,70.5 476.5,70.9 476.6,71.5 476.7,69.6 476.8,70.9 476.9,71.1 477.0,70.1 477.1,70.5 477.2,71.0 477.3,71.4 477.4,70.7 477.5,70.3 477.6,70.1 477.7,70.7 477.8,71.3 477.9,71.7 478.0,72.9 478.1,72.1 478.2,72.7 478.3,71.0 478.4,70.4 478.5,70.6 478.6,70.7 478.7,69.8 478.8,70.3 478.9,71.6 479.0,71.9 479.1,71.7 479.2,70.6 479.3,69.8 479.4,70.5 479.5,71.0 479.6,71.8 479.6,72.1 479.7,70.8 479.8,71.0 479.9,71.1 480.0,70.6 480.1,70.0 480.2,70.6 480.3,70.3 480.4,68.5 480.5,69.6 480.6,70.4 480.7,70.0 480.8,70.2 480.9,70.4 481.0,70.1 481.1,71.2 481.2,70.5 481.3,70.1 481.4,69.3 481.5,70.2 481.6,70.4 481.7,70.0 481.8,70.6 481.9,70.2 482.0,69.5 482.1,70.3 482.2,69.7 482.3,70.4 482.4,70.4 482.5,69.1 482.6,69.0 482.7,69.1 482.8,69.7 482.9,70.3 483.0,70.2 483.1,69.1 483.2,70.5 483.3,70.2 483.4,70.5 483.5,69.8 483.6,69.8 483.7,70.2 483.8,70.7 483.9,71.2 484.0,71.0 484.1,70.5 484.2,69.2 484.3,68.9 484.4,70.3 484.5,71.1 484.6,69.5 484.7,68.6 484.8,69.7 484.9,70.5 485.0,70.3 485.1,69.7 485.2,70.1 485.2,70.0 485.3,69.1 485.4,69.4 485.5,69.2 485.6,69.1 485.7,69.7 485.8,70.1 485.9,69.6 486.0,69.7 486.1,70.6 486.2,69.3 486.3,70.2 486.4,69.2 486.5,69.7 486.6,69.5 486.7,68.8 486.8,68.8 486.9,67.7 487.0,67.2 487.1,67.8 487.2,68.4 487.3,68.6 487.4,68.9 487.5,68.0 487.6,68.0 487.7,68.8 487.8,69.7 487.9,68.9 488.0,68.3 488.1,67.3 488.2,68.4 488.3,67.4 488.4,67.4 488.5,67.3 488.6,68.3 488.7,67.9 488.8,68.7 488.9,68.6 489.0,69.2 489.1,69.0 489.2,68.5 489.3,67.9 489.4,68.6 489.5,68.9 489.6,67.7 489.7,68.4 489.8,68.7 489.9,68.8 490.0,69.6 490.1,68.8 490.2,68.6 490.3,68.5 490.4,68.7 490.5,68.8 490.6,68.2 490.7,69.3 490.8,69.4 490.8,68.4 490.9,69.7 491.0,68.5 491.1,67.7 491.2,69.0 491.3,69.0 491.4,68.3 491.5,69.0 491.6,68.6 491.7,68.2 491.8,68.2 491.9,67.7 492.0,68.3 492.1,69.1 492.2,69.3 492.3,67.8 492.4,67.4 492.5,67.6 492.6,67.1 492.7,67.9 492.8,66.9 492.9,67.2 493.0,66.8 493.1,66.9 493.2,66.3 493.3,66.8 493.4,67.2 493.5,68.2 493.6,67.2 493.7,66.5 493.8,67.0 493.9,66.9 494.0,65.5 494.1,67.0 494.2,68.2 494.3,67.5 494.4,65.8 494.5,66.7 494.6,68.9 494.7,66.9 494.8,66.2 494.9,67.0 495.0,66.9 495.1,66.9 495.2,67.6 495.3,67.6 495.4,66.6 495.5,67.3 495.6,67.3 495.7,66.6 495.8,66.9 495.9,67.0 496.0,66.8 496.1,67.6 496.2,67.2 496.3,67.9 496.3,68.2 496.4,67.3 496.5,67.5 496.6,67.2 496.7,67.5 496.8,66.5 496.9,66.6 497.0,68.0 497.1,66.9 497.2,66.5 497.3,67.2 497.4,67.3 497.5,67.0 497.6,67.2 497.7,67.5 497.8,66.2 497.9,65.8 498.0,65.4 498.1,66.5 498.2,66.9 498.3,67.1 498.4,66.8 498.5,65.6 498.6,65.8 498.7,65.5 498.8,65.1 498.9,65.1 499.0,65.6 499.1,67.1 499.2,67.1 499.3,65.7 499.4,66.7 499.5,66.1 499.6,67.4 499.7,65.8 499.8,64.4 499.9,64.5 500.0,65.9 500.1,66.1 500.2,66.0 500.3,65.5 500.4,65.7 500.5,66.3 500.6,65.8 500.7,66.9 500.8,66.1 500.9,64.6 501.0,65.7 501.1,66.6 501.2,66.8 501.3,67.0 501.4,67.5 501.5,66.0 501.6,66.0 501.7,66.8 501.8,65.9 501.9,64.0 501.9,64.8 502.0,64.5 502.1,65.9 502.2,66.8 502.3,66.5 502.4,66.1 502.5,66.5 502.6,66.1 502.7,65.4 502.8,66.0 502.9,65.9 503.0,67.6 503.1,66.6 503.2,65.9 503.3,65.9 503.4,66.6 503.5,65.9 503.6,66.1 503.7,66.5 503.8,65.4 503.9,65.4 504.0,66.8 504.1,66.3 504.2,66.3 504.3,65.9 504.4,65.0 504.5,66.0 504.6,65.4 504.7,66.4" fill="none" stroke="#000" stroke-width="1.6" stroke-linejoin="round" />
<polyline points="362.2,122.2 362.3,122.1 362.4,122.0 362.5,121.9 362.6,121.8 362.7,121.6 362.7,121.5 362.8,121.4 362.9,121.3 363.0,121.2 363.1,121.1 363.2,121.0 363.3,120.9 363.4,120.8 363.5,120.7 363.6,120.6 363.7,120.5 363.8,120.4 363.9,120.3 364.0,120.2 364.1,120.1 364.2,120.0 364.3,119.9 364.4,119.8 364.5,119.7 364.6,119.6 364.7,119.5 364.8,119.4 364.9,119.3 365.0,119.2 365.1,119.1 365.2,119.0 365.3,118.9 365.4,118.8 365.5,118.7 365.6,118.6 365.7,118.5 365.8,118.5 365.9,118.4 366.0,118.3 366.1,118.2 366.2,118.1 366.3,118.0 366.4,117.9 366.5,117.8 366.6,117.7 366.7,117.6 366.8,117.6 366.9,117.5 367.0,117.4 367.1,117.3 367.2,117.2 367.3,117.1 367.4,117.0 367.5,116.9 367.6,116.9 367.7,116.8 367.8,116.7 367.9,116.6 368.0,116.5 368.1,116.4 368.2,116.4 368.3,116.3 368.3,116.2 368.4,116.1 368.5,116.0 368.6,116.0 368.7,115.9 368.8,115.8 368.9,115.7 369.0,115.6 369.1,115.6 369.2,115.5 369.3,115.4 369.4,115.3 369.5,115.2 369.6,115.2 369.7,115.1 369.8,115.0 369.9,114.9 370.0,114.8 370.1,114.8 370.2,114.7 370.3,114.6 370.4,114.5 370.5,114.5 370.6,114.4 370.7,114.3 370.8,114.2 370.9,114.2 371.0,114.1 371.1,114.0 371.2,114.0 371.3,113.9 371.4,113.8 371.5,113.7 371.6,113.7 371.7,113.6 371.8,113.5 371.9,113.4 372.0,113.4 372.1,113.3 372.2,113.2 372.3,113.2 372.4,113.1 372.5,113.0 372.6,113.0 372.7,112.9 372.8,112.8 372.9,112.8 373.0,112.7 373.1,112.6 373.2,112.5 373.3,112.5 373.4,112.4 373.5,112.3 373.6,112.3 373.7,112.2 373.8,112.1 373.9,112.1 373.9,112.0 374.0,111.9 374.1,111.9 374.2,111.8 374.3,111.7 374.4,111.7 374.5,111.6 374.6,111.6 374.7,111.5 374.8,111.4 374.9,111.4 375.0,111.3 375.1,111.2 375.2,111.2 375.3,111.1 375.4,111.0 375.5,111.0 375.6,110.9 375.7,110.9 375.8,110.8 375.9,110.7 376.0,110.7 376.1,110.6 376.2,110.5 376.3,110.5 376.4,110.4 376.5,110.4 376.6,110.3 376.7,110.2 376.8,110.2 376.9,110.1 377.0,110.1 377.1,110.0 377.2,109.9 377.3,109.9 377.4,109.8 377.5,109.8 377.6,109.7 377.7,109.6 377.8,109.6 377.9,109.5 378.0,109.5 378.1,109.4 378.2,109.3 378.3,109.3 378.4,109.2 378.5,109.2 378.6,109.1 378.7,109.0 378.8,109.0 378.9,108.9 379.0,108.9 379.1,108.8 379.2,108.7 379.3,108.7 379.4,108.6 379.4,108.6 379.5,108.5 379.6,108.5 379.7,108.4 379.8,108.3 379.9,108.3 380.0,108.2 380.1,108.2 380.2,108.1 380.3,108.1 380.4,108.0 380.5,107.9 380.6,107.9 380.7,107.8 380.8,107.8 380.9,107.7 381.0,107.7 381.1,107.6 381.2,107.5 381.3,107.5 381.4,107.4 381.5,107.4 381.6,107.3 381.7,107.3 381.8,107.2 381.9,107.1 382.0,107.1 382.1,107.0 382.2,107.0 382.3,106.9 382.4,106.9 382.5,106.8 382.6,106.8 382.7,106.7 382.8,106.6 382.9,106.6 383.0,106.5 383.1,106.5 383.2,106.4 383.3,106.4 383.4,106.3 383.5,106.2 383.6,106.2 383.7,106.1 383.8,106.1 383.9,106.0 384.0,106.0 384.1,105.9 384.2,105.8 384.3,105.8 384.4,105.7 384.5,105.7 384.6,105.6 384.7,105.6 384.8,105.5 384.9,105.4 385.0,105.4 385.0,105.3 385.1,105.3 385.2,105.2 385.3,105.2 385.4,105.1 385.5,105.0 385.6,105.0 385.7,104.9 385.8,104.9 385.9,104.8 386.0,104.8 386.1,104.7 386.2,104.6 386.3,104.6 386.4,104.5 386.5,104.5 386.6,104.4 386.7,104.3 386.8,104.3 386.9,104.2 387.0,104.2 387.1,104.1 387.2,104.1 387.3,104.0 387.4,103.9 387.5,103.9 387.6,103.8 387.7,103.8 387.8,103.7 387.9,103.6 388.0,103.6 388.1,103.5 388.2,103.5 388.3,103.4 388.4,103.3 388.5,103.3 388.6,103.2 388.7,103.2 388.8,103.1 388.9,103.0 389.0,103.0 389.1,102.9 389.2,102.9 389.3,102.8 389.4,102.7 389.5,102.7 389.6,102.6 389.7,102.6 389.8,102.5 389.9,102.4 390.0,102.4 390.1,102.3 390.2,102.3 390.3,102.2 390.4,102.1 390.5,102.1 390.6,102.0 390.6,102.0 390.7,101.9 390.8,101.8 390.9,101.8 391.0,101.7 391.1,101.7 391.2,101.6 391.3,101.5 391.4,101.5 391.5,101.4 391.6,101.4 391.7,101.3 391.8,101.2 391.9,101.2 392.0,101.1 392.1,101.1 392.2,101.0 392.3,100.9 392.4,100.9 392.5,100.8 392.6,100.8 392.7,100.7 392.8,100.7 392.9,100.6 393.0,100.5 393.1,100.5 393.2,100.4 393.3,100.4 393.4,100.3 393.5,100.2 393.6,100.2 393.7,100.1 393.8,100.1 393.9,100.0 394.0,100.0 394.1,99.9 394.2,99.8 394.3,99.8 394.4,99.7 394.5,99.7 394.6,99.6 394.7,99.6 394.8,99.5 394.9,99.4 395.0,99.4 395.1,99.3 395.2,99.3 395.3,99.2 395.4,99.2 395.5,99.1 395.6,99.0 395.7,99.0 395.8,98.9 395.9,98.9 396.0,98.8 396.1,98.8 396.1,98.7 396.2,98.6 396.3,98.6 396.4,98.5 396.5,98.5 396.6,98.4 396.7,98.4 396.8,98.3 396.9,98.2 397.0,98.2 397.1,98.1 397.2,98.1 397.3,98.0 397.4,98.0 397.5,97.9 397.6,97.9 397.7,97.8 397.8,97.7 397.9,97.7 398.0,97.6 398.1,97.6 398.2,97.5 398.3,97.5 398.4,97.4 398.5,97.3 398.6,97.3 398.7,97.2 398.8,97.2 398.9,97.1 399.0,97.1 399.1,97.0 399.2,97.0 399.3,96.9 399.4,96.8 399.5,96.8 399.6,96.7 399.7,96.7 399.8,96.6 399.9,96.6 400.0,96.5 400.1,96.5 400.2,96.4 400.3,96.4 400.4,96.3 400.5,96.2 400.6,96.2 400.7,96.1 400.8,96.1 400.9,96.0 401.0,96.0 401.1,95.9 401.2,95.9 401.3,95.8 401.4,95.8 401.5,95.7 401.6,95.6 401.7,95.6 401.7,95.5 401.8,95.5 401.9,95.4 402.0,95.4 402.1,95.3 402.2,95.3 402.3,95.2 402.4,95.2 402.5,95.1 402.6,95.0 402.7,95.0 402.8,94.9 402.9,94.9 403.0,94.8 403.1,94.8 403.2,94.7 403.3,94.7 403.4,94.6 403.5,94.6 403.6,94.5 403.7,94.5 403.8,94.4 403.9,94.4 404.0,94.3 404.1,94.2 404.2,94.2 404.3,94.1 404.4,94.1 404.5,94.0 404.6,94.0 404.7,93.9 404.8,93.9 404.9,93.8 405.0,93.8 405.1,93.7 405.2,93.7 405.3,93.6 405.4,93.6 405.5,93.5 405.6,93.5 405.7,93.4 405.8,93.3 405.9,93.3 406.0,93.2 406.1,93.2 406.2,93.1 406.3,93.1 406.4,93.0 406.5,93.0 406.6,92.9 406.7,92.9 406.8,92.8 406.9,92.8 407.0,92.7 407.1,92.7 407.2,92.6 407.3,92.6 407.3,92.5 407.4,92.5 407.5,92.4 407.6,92.4 407.7,92.3 407.8,92.3 407.9,92.2 408.0,92.2 408.1,92.1 408.2,92.0 408.3,92.0 408.4,91.9 408.5,91.9 408.6,91.8 408.7,91.8 408.8,91.7 408.9,91.7 409.0,91.6 409.1,91.6 409.2,91.5 409.3,91.5 409.4,91.4 409.5,91.4 409.6,91.3 409.7,91.3 409.8,91.2 409.9,91.2 410.0,91.1 410.1,91.1 410.2,91.0 410.3,91.0 410.4,90.9 410.5,90.9 410.6,90.8 410.7,90.8 410.8,90.7 410.9,90.7 411.0,90.6 411.1,90.6 411.2,90.5 411.3,90.5 411.4,90.4 411.5,90.4 411.6,90.3 411.7,90.3 411.8,90.2 411.9,90.2 412.0,90.1 412.1,90.1 412.2,90.0 412.3,90.0 412.4,89.9 412.5,89.9 412.6,89.8 412.7,89.8 412.8,89.7 412.8,89.7 412.9,89.6 413.0,89.6 413.1,89.5 413.2,89.5 413.3,89.4 413.4,89.4 413.5,89.3 413.6,89.3 413.7,89.2 413.8,89.2 413.9,89.1 414.0,89.1 414.1,89.0 414.2,89.0 414.3,88.9 414.4,88.9 414.5,88.8 414.6,88.8 414.7,88.7 414.8,88.7 414.9,88.6 415.0,88.6 415.1,88.5 415.2,88.5 415.3,88.4 415.4,88.4 415.5,88.3 415.6,88.3 415.7,88.2 415.8,88.2 415.9,88.1 416.0,88.1 416.1,88.0 416.2,88.0 416.3,87.9 416.4,87.9 416.5,87.8 416.6,87.8 416.7,87.8 416.8,87.7 416.9,87.7 417.0,87.6 417.1,87.6 417.2,87.5 417.3,87.5 417.4,87.4 417.5,87.4 417.6,87.3 417.7,87.3 417.8,87.2 417.9,87.2 418.0,87.1 418.1,87.1 418.2,87.0 418.3,87.0 418.4,86.9 418.4,86.9 418.5,86.8 418.6,86.8 418.7,86.7 418.8,86.7 418.9,86.6 419.0,86.6 419.1,86.5 419.2,86.5 419.3,86.5 419.4,86.4 419.5,86.4 419.6,86.3 419.7,86.3 419.8,86.2 419.9,86.2 420.0,86.1 420.1,86.1 420.2,86.0 420.3,86.0 420.4,85.9 420.5,85.9 420.6,85.8 420.7,85.8 420.8,85.7 420.9,85.7 421.0,85.7 421.1,85.6 421.2,85.6 421.3,85.5 421.4,85.5 421.5,85.4 421.6,85.4 421.7,85.3 421.8,85.3 421.9,85.2 422.0,85.2 422.1,85.1 422.2,85.1 422.3,85.0 422.4,85.0 422.5,85.0 422.6,84.9 422.7,84.9 422.8,84.8 422.9,84.8 423.0,84.7 423.1,84.7 423.2,84.6 423.3,84.6 423.4,84.5 423.5,84.5 423.6,84.4 423.7,84.4 423.8,84.4 423.9,84.3 424.0,84.3 424.0,84.2 424.1,84.2 424.2,84.1 424.3,84.1 424.4,84.0 424.5,84.0 424.6,83.9 424.7,83.9 424.8,83.9 424.9,83.8 425.0,83.8 425.1,83.7 425.2,83.7 425.3,83.6 425.4,83.6 425.5,83.5 425.6,83.5 425.7,83.4 425.8,83.4 425.9,83.4 426.0,83.3 426.1,83.3 426.2,83.2 426.3,83.2 426.4,83.1 426.5,83.1 426.6,83.0 426.7,83.0 426.8,82.9 426.9,82.9 427.0,82.9 427.1,82.8 427.2,82.8 427.3,82.7 427.4,82.7 427.5,82.6 427.6,82.6 427.7,82.5 427.8,82.5 427.9,82.5 428.0,82.4 428.1,82.4 428.2,82.3 428.3,82.3 428.4,82.2 428.5,82.2 428.6,82.1 428.7,82.1 428.8,82.1 428.9,82.0 429.0,82.0 429.1,81.9 429.2,81.9 429.3,81.8 429.4,81.8 429.5,81.7 429.5,81.7 429.6,81.7 429.7,81.6 429.8,81.6 429.9,81.5 430.0,81.5 430.1,81.4 430.2,81.4 430.3,81.3 430.4,81.3 430.5,81.3 430.6,81.2 430.7,81.2 430.8,81.1 430.9,81.1 431.0,81.0 431.1,81.0 431.2,81.0 431.3,80.9 431.4,80.9 431.5,80.8 431.6,80.8 431.7,80.7 431.8,80.7 431.9,80.7 432.0,80.6 432.1,80.6 432.2,80.5 432.3,80.5 432.4,80.4 432.5,80.4 432.6,80.3 432.7,80.3 432.8,80.3 432.9,80.2 433.0,80.2 433.1,80.1 433.2,80.1 433.3,80.0 433.4,80.0 433.5,80.0 433.6,79.9 433.7,79.9 433.8,79.8 433.9,79.8 434.0,79.7 434.1,79.7 434.2,79.7 434.3,79.6 434.4,79.6 434.5,79.5 434.6,79.5 434.7,79.4 434.8,79.4 434.9,79.4 435.0,79.3 435.1,79.3 435.1,79.2 435.2,79.2 435.3,79.1 435.4,79.1 435.5,79.1 435.6,79.0 435.7,79.0 435.8,78.9 435.9,78.9 436.0,78.9 436.1,78.8 436.2,78.8 436.3,78.7 436.4,78.7 436.5,78.6 436.6,78.6 436.7,78.6 436.8,78.5 436.9,78.5 437.0,78.4 437.1,78.4 437.2,78.3 437.3,78.3 437.4,78.3 437.5,78.2 437.6,78.2 437.7,78.1 437.8,78.1 437.9,78.1 438.0,78.0 438.1,78.0 438.2,77.9 438.3,77.9 438.4,77.8 438.5,77.8 438.6,77.8 438.7,77.7 438.8,77.7 438.9,77.6 439.0,77.6 439.1,77.5 439.2,77.5 439.3,77.5 439.4,77.4 439.5,77.4 439.6,77.3 439.7,77.3 439.8,77.3 439.9,77.2 440.0,77.2 440.1,77.1 440.2,77.1 440.3,77.1 440.4,77.0 440.5,77.0 440.6,76.9 440.7,76.9 440.7,76.8 440.8,76.8 440.9,76.8 441.0,76.7 441.1,76.7 441.2,76.6 441.3,76.6 441.4,76.6 441.5,76.5 441.6,76.5 441.7,76.4 441.8,76.4 441.9,76.3 442.0,76.3 442.1,76.3 442.2,76.2 442.3,76.2 442.4,76.1 442.5,76.1 442.6,76.1 442.7,76.0 442.8,76.0 442.9,75.9 443.0,75.9 443.1,75.9 443.2,75.8 443.3,75.8 443.4,75.7 443.5,75.7 443.6,75.7 443.7,75.6 443.8,75.6 443.9,75.5 444.0,75.5 444.1,75.4 444.2,75.4 444.3,75.4 444.4,75.3 444.5,75.3 444.6,75.2 444.7,75.2 444.8,75.2 444.9,75.1 445.0,75.1 445.1,75.0 445.2,75.0 445.3,75.0 445.4,74.9 445.5,74.9 445.6,74.8 445.7,74.8 445.8,74.8 445.9,74.7 446.0,74.7 446.1,74.6 446.2,74.6 446.2,74.6 446.3,74.5 446.4,74.5 446.5,74.4 446.6,74.4 446.7,74.4 446.8,74.3 446.9,74.3 447.0,74.2 447.1,74.2 447.2,74.2 447.3,74.1 447.4,74.1 447.5,74.0 447.6,74.0 447.7,74.0 447.8,73.9 447.9,73.9 448.0,73.8 448.1,73.8 448.2,73.7 448.3,73.7 448.4,73.7 448.5,73.6 448.6,73.6 448.7,73.5 448.8,73.5 448.9,73.5 449.0,73.4 449.1,73.4 449.2,73.3 449.3,73.3 449.4,73.3 449.5,73.2 449.6,73.2 449.7,73.1 449.8,73.1 449.9,73.1 450.0,73.0 450.1,73.0 450.2,72.9 450.3,72.9 450.4,72.9 450.5,72.8 450.6,72.8 450.7,72.7 450.8,72.7 450.9,72.7 451.0,72.6 451.1,72.6 451.2,72.6 451.3,72.5 451.4,72.5 451.5,72.4 451.6,72.4 451.7,72.4 451.8,72.3 451.8,72.3 451.9,72.2 452.0,72.2 452.1,72.2 452.2,72.1 452.3,72.1 452.4,72.0 452.5,72.0 452.6,72.0 452.7,71.9 452.8,71.9 452.9,71.8 453.0,71.8 453.1,71.8 453.2,71.7 453.3,71.7 453.4,71.6 453.5,71.6 453.6,71.6 453.7,71.5 453.8,71.5 453.9,71.4 454.0,71.4 454.1,71.4 454.2,71.3 454.3,71.3 454.4,71.2 454.5,71.2 454.6,71.2 454.7,71.1 454.8,71.1 454.9,71.1 455.0,71.0 455.1,71.0 455.2,70.9 455.3,70.9 455.4,70.9 455.5,70.8 455.6,70.8 455.7,70.7 455.8,70.7 455.9,70.7 456.0,70.6 456.1,70.6 456.2,70.5 456.3,70.5 456.4,70.5 456.5,70.4 456.6,70.4 456.7,70.4 456.8,70.3 456.9,70.3 457.0,70.2 457.1,70.2 457.2,70.2 457.3,70.1 457.4,70.1 457.4,70.0 457.5,70.0 457.6,70.0 457.7,69.9 457.8,69.9 457.9,69.9 458.0,69.8 458.1,69.8 458.2,69.7 458.3,69.7 458.4,69.7 458.5,69.6 458.6,69.6 458.7,69.5 458.8,69.5 458.9,69.5 459.0,69.4 459.1,69.4 459.2,69.4 459.3,69.3 459.4,69.3 459.5,69.2 459.6,69.2 459.7,69.2 459.8,69.1 459.9,69.1 460.0,69.1 460.1,69.0 460.2,69.0 460.3,68.9 460.4,68.9 460.5,68.9 460.6,68.8 460.7,68.8 460.8,68.7 460.9,68.7 461.0,68.7 461.1,68.6 461.2,68.6 461.3,68.6 461.4,68.5 461.5,68.5 461.6,68.4 461.7,68.4 461.8,68.4 461.9,68.3 462.0,68.3 462.1,68.3 462.2,68.2 462.3,68.2 462.4,68.1 462.5,68.1 462.6,68.1 462.7,68.0 462.8,68.0 462.9,68.0 462.9,67.9 463.0,67.9 463.1,67.9 463.2,67.8 463.3,67.8 463.4,67.7 463.5,67.7 463.6,67.7 463.7,67.6 463.8,67.6 463.9,67.6 464.0,67.5 464.1,67.5 464.2,67.4 464.3,67.4 464.4,67.4 464.5,67.3 464.6,67.3 464.7,67.3 464.8,67.2 464.9,67.2 465.0,67.2 465.1,67.1 465.2,67.1 465.3,67.0 465.4,67.0 465.5,67.0 465.6,66.9 465.7,66.9 465.8,66.9 465.9,66.8 466.0,66.8 466.1,66.8 466.2,66.7 466.3,66.7 466.4,66.6 466.5,66.6 466.6,66.6 466.7,66.5 466.8,66.5 466.9,66.5 467.0,66.4 467.1,66.4 467.2,66.4 467.3,66.3 467.4,66.3 467.5,66.3 467.6,66.2 467.7,66.2 467.8,66.1 467.9,66.1 468.0,66.1 468.1,66.0 468.2,66.0 468.3,66.0 468.4,65.9 468.5,65.9 468.5,65.9 468.6,65.8 468.7,65.8 468.8,65.8 468.9,65.7 469.0,65.7 469.1,65.6 469.2,65.6 469.3,65.6 469.4,65.5 469.5,65.5 469.6,65.5 469.7,65.4 469.8,65.4 469.9,65.4 470.0,65.3 470.1,65.3 470.2,65.3 470.3,65.2 470.4,65.2 470.5,65.2 470.6,65.1 470.7,65.1 470.8,65.1 470.9,65.0 471.0,65.0 471.1,65.0 471.2,64.9 471.3,64.9 471.4,64.9 471.5,64.8 471.6,64.8 471.7,64.7 471.8,64.7 471.9,64.7 472.0,64.6 472.1,64.6 472.2,64.6 472.3,64.5 472.4,64.5 472.5,64.5 472.6,64.4 472.7,64.4 472.8,64.4 472.9,64.3 473.0,64.3 473.1,64.3 473.2,64.2 473.3,64.2 473.4,64.2 473.5,64.1 473.6,64.1 473.7,64.1 473.8,64.0 473.9,64.0 474.0,64.0 474.1,63.9 474.1,63.9 474.2,63.9 474.3,63.8 474.4,63.8 474.5,63.8 474.6,63.7 474.7,63.7 474.8,63.7 474.9,63.6 475.0,63.6 475.1,63.6 475.2,63.5 475.3,63.5 475.4,63.5 475.5,63.4 475.6,63.4 475.7,63.4 475.8,63.3 475.9,63.3 476.0,63.3 476.1,63.2 476.2,63.2 476.3,63.2 476.4,63.1 476.5,63.1 476.6,63.1 476.7,63.0 476.8,63.0 476.9,63.0 477.0,62.9 477.1,62.9 477.2,62.9 477.3,62.8 477.4,62.8 477.5,62.8 477.6,62.7 477.7,62.7 477.8,62.7 477.9,62.7 478.0,62.6 478.1,62.6 478.2,62.6 478.3,62.5 478.4,62.5 478.5,62.5 478.6,62.4 478.7,62.4 478.8,62.4 478.9,62.3 479.0,62.3 479.1,62.3 479.2,62.2 479.3,62.2 479.4,62.2 479.5,62.1 479.6,62.1 479.6,62.1 479.7,62.0 479.8,62.0 479.9,62.0 480.0,61.9 480.1,61.9 480.2,61.9 480.3,61.8 480.4,61.8 480.5,61.8 480.6,61.7 480.7,61.7 480.8,61.7 480.9,61.7 481.0,61.6 481.1,61.6 481.2,61.6 481.3,61.5 481.4,61.5 481.5,61.5 481.6,61.4 481.7,61.4 481.8,61.4 481.9,61.3 482.0,61.3 482.1,61.3 482.2,61.2 482.3,61.2 482.4,61.2 482.5,61.1 482.6,61.1 482.7,61.1 482.8,61.0 482.9,61.0 483.0,61.0 483.1,61.0 483.2,60.9 483.3,60.9 483.4,60.9 483.5,60.8 483.6,60.8 483.7,60.8 483.8,60.7 483.9,60.7 484.0,60.7 484.1,60.6 484.2,60.6 484.3,60.6 484.4,60.5 484.5,60.5 484.6,60.5 484.7,60.5 484.8,60.4 484.9,60.4 485.0,60.4 485.1,60.3 485.2,60.3 485.2,60.3 485.3,60.2 485.4,60.2 485.5,60.2 485.6,60.1 485.7,60.1 485.8,60.1 485.9,60.1 486.0,60.0 486.1,60.0 486.2,60.0 486.3,59.9 486.4,59.9 486.5,59.9 486.6,59.8 486.7,59.8 486.8,59.8 486.9,59.7 487.0,59.7 487.1,59.7 487.2,59.7 487.3,59.6 487.4,59.6 487.5,59.6 487.6,59.5 487.7,59.5 487.8,59.5 487.9,59.4 488.0,59.4 488.1,59.4 488.2,59.3 488.3,59.3 488.4,59.3 488.5,59.3 488.6,59.2 488.7,59.2 488.8,59.2 488.9,59.1 489.0,59.1 489.1,59.1 489.2,59.0 489.3,59.0 489.4,59.0 489.5,59.0 489.6,58.9 489.7,58.9 489.8,58.9 489.9,58.8 490.0,58.8 490.1,58.8 490.2,58.7 490.3,58.7 490.4,58.7 490.5,58.7 490.6,58.6 490.7,58.6 490.8,58.6 490.8,58.5 490.9,58.5 491.0,58.5 491.1,58.5 491.2,58.4 491.3,58.4 491.4,58.4 491.5,58.3 491.6,58.3 491.7,58.3 491.8,58.2 491.9,58.2 492.0,58.2 492.1,58.2 492.2,58.1 492.3,58.1 492.4,58.1 492.5,58.0 492.6,58.0 492.7,58.0 492.8,58.0 492.9,57.9 493.0,57.9 493.1,57.9 493.2,57.8 493.3,57.8 493.4,57.8 493.5,57.7 493.6,57.7 493.7,57.7 493.8,57.7 493.9,57.6 494.0,57.6 494.1,57.6 494.2,57.5 494.3,57.5 494.4,57.5 494.5,57.5 494.6,57.4 494.7,57.4 494.8,57.4 494.9,57.3 495.0,57.3 495.1,57.3 495.2,57.3 495.3,57.2 495.4,57.2 495.5,57.2 495.6,57.1 495.7,57.1 495.8,57.1 495.9,57.1 496.0,57.0 496.1,57.0 496.2,57.0 496.3,56.9 496.3,56.9 496.4,56.9 496.5,56.9 496.6,56.8 496.7,56.8 496.8,56.8 496.9,56.8 497.0,56.7 497.1,56.7 497.2,56.7 497.3,56.6 497.4,56.6 497.5,56.6 497.6,56.6 497.7,56.5 497.8,56.5 497.9,56.5 498.0,56.4 498.1,56.4 498.2,56.4 498.3,56.4 498.4,56.3 498.5,56.3 498.6,56.3 498.7,56.2 498.8,56.2 498.9,56.2 499.0,56.2 499.1,56.1 499.2,56.1 499.3,56.1 499.4,56.1 499.5,56.0 499.6,56.0 499.7,56.0 499.8,55.9 499.9,55.9 500.0,55.9 500.1,55.9 500.2,55.8 500.3,55.8 500.4,55.8 500.5,55.8 500.6,55.7 500.7,55.7 500.8,55.7 500.9,55.7 501.0,55.6 501.1,55.6 501.2,55.6 501.3,55.5 501.4,55.5 501.5,55.5 501.6,55.5 501.7,55.4 501.8,55.4 501.9,55.4 501.9,55.4 502.0,55.3 502.1,55.3 502.2,55.3 502.3,55.2 502.4,55.2 502.5,55.2 502.6,55.2 502.7,55.1 502.8,55.1 502.9,55.1 503.0,55.1 503.1,55.0 503.2,55.0 503.3,55.0 503.4,55.0 503.5,54.9 503.6,54.9 503.7,54.9 503.8,54.9 503.9,54.8 504.0,54.8 504.1,54.8 504.2,54.7 504.3,54.7 504.4,54.7 504.5,54.7 504.6,54.6 504.7,54.6" fill="none" stroke="#0000f0" stroke-width="1.35" stroke-linejoin="round" />
</g>
<rect x="363.3" y="50.5" width="141.40" height="82.80" fill="none" stroke="#444" stroke-width="0.9"/>
<line x1="386.87" y1="133.3" x2="386.87" y2="131.3" stroke="#444" stroke-width="0.7"/>
<line x1="386.87" y1="50.5" x2="386.87" y2="52.5" stroke="#444" stroke-width="0.7"/>
<text x="386.87" y="140.70" font-size="7.1" text-anchor="middle">10.0</text>
<line x1="416.32" y1="133.3" x2="416.32" y2="131.3" stroke="#444" stroke-width="0.7"/>
<line x1="416.32" y1="50.5" x2="416.32" y2="52.5" stroke="#444" stroke-width="0.7"/>
<text x="416.32" y="140.70" font-size="7.1" text-anchor="middle">12.5</text>
<line x1="445.78" y1="133.3" x2="445.78" y2="131.3" stroke="#444" stroke-width="0.7"/>
<line x1="445.78" y1="50.5" x2="445.78" y2="52.5" stroke="#444" stroke-width="0.7"/>
<text x="445.78" y="140.70" font-size="7.1" text-anchor="middle">15.0</text>
<line x1="475.24" y1="133.3" x2="475.24" y2="131.3" stroke="#444" stroke-width="0.7"/>
<line x1="475.24" y1="50.5" x2="475.24" y2="52.5" stroke="#444" stroke-width="0.7"/>
<text x="475.24" y="140.70" font-size="7.1" text-anchor="middle">17.5</text>
<line x1="504.70" y1="133.3" x2="504.70" y2="131.3" stroke="#444" stroke-width="0.7"/>
<line x1="504.70" y1="50.5" x2="504.70" y2="52.5" stroke="#444" stroke-width="0.7"/>
<text x="504.70" y="140.70" font-size="7.1" text-anchor="middle">20.0</text>
<line x1="363.3" y1="125.30" x2="365.3" y2="125.30" stroke="#444" stroke-width="0.7"/>
<line x1="504.7" y1="125.30" x2="502.7" y2="125.30" stroke="#444" stroke-width="0.7"/>
<text x="362.10" y="127.64" font-size="7.1" text-anchor="end">2.02</text>
<line x1="363.3" y1="106.70" x2="365.3" y2="106.70" stroke="#444" stroke-width="0.7"/>
<line x1="504.7" y1="106.70" x2="502.7" y2="106.70" stroke="#444" stroke-width="0.7"/>
<text x="362.10" y="109.04" font-size="7.1" text-anchor="end">2.04</text>
<line x1="363.3" y1="88.10" x2="365.3" y2="88.10" stroke="#444" stroke-width="0.7"/>
<line x1="504.7" y1="88.10" x2="502.7" y2="88.10" stroke="#444" stroke-width="0.7"/>
<text x="362.10" y="90.44" font-size="7.1" text-anchor="end">2.06</text>
<line x1="363.3" y1="69.50" x2="365.3" y2="69.50" stroke="#444" stroke-width="0.7"/>
<line x1="504.7" y1="69.50" x2="502.7" y2="69.50" stroke="#444" stroke-width="0.7"/>
<text x="362.10" y="71.84" font-size="7.1" text-anchor="end">2.08</text>
<line x1="363.3" y1="50.90" x2="365.3" y2="50.90" stroke="#444" stroke-width="0.7"/>
<line x1="504.7" y1="50.90" x2="502.7" y2="50.90" stroke="#444" stroke-width="0.7"/>
<text x="362.10" y="53.24" font-size="7.1" text-anchor="end">2.10</text>
<rect x="450.7" y="101.4" width="50.30" height="29.60" fill="#fff" stroke="#444" stroke-width="0.8"/>
<text x="476.4" y="109.0" class="lg" font-size="7" text-anchor="middle"><tspan font-style="italic">T</tspan> = 12.02</text>
<line x1="453.6" y1="115.7" x2="467.1" y2="115.7" stroke="#111" stroke-width="1.5"/>
<line x1="453.6" y1="124.5" x2="467.1" y2="124.5" stroke="#0000f0" stroke-width="1.4"/>
<text x="471.7" y="118.0" class="lg" font-size="7">Exp. data</text>
<text x="471.7" y="126.8" class="lg" font-size="7">Sim. data</text>
<text x="400.0" y="164.1" font-size="9" text-anchor="middle"><tspan font-style="italic">t</tspan> − <tspan font-style="italic">t</tspan><tspan font-size="6.3" dy="1.4">0</tspan><tspan dy="-1.4"> (</tspan><tspan font-style="italic">μs</tspan>)</text>
<text transform="translate(270.9,76.9) rotate(-90)" font-size="8" text-anchor="middle"><tspan font-style="italic">u</tspan> (mm/<tspan font-style="italic">μs</tspan>)</text>
<clipPath id="cBL"><rect x="23.4" y="186.8" width="225.10" height="144.70"/></clipPath>
<g clip-path="url(#cBL)">
<polyline points="23.4,308.5 23.7,309.6 24.0,310.6 24.2,311.6 24.5,312.6 24.8,313.6 25.1,314.7 25.4,315.8 25.7,317.1 25.9,318.4 26.2,319.6 26.5,320.6 26.9,321.5 27.2,321.6 27.6,321.3 28.0,320.5 28.4,319.4 28.7,317.3 28.7,315.7 28.8,313.8 28.9,311.6 29.0,309.3 29.1,306.9 29.2,304.5 29.3,302.0 29.4,298.8 29.5,295.4 29.6,292.1 29.7,289.5 29.8,287.5 29.9,285.9 30.0,284.4 30.1,282.5 30.2,280.7 30.2,279.3 30.3,278.2 30.7,277.4 31.1,277.8 31.5,278.3 31.8,279.0 32.2,279.8 32.6,280.4 33.0,281.0 33.3,281.3 33.7,281.2 34.1,280.5 34.5,279.1 34.8,277.8 35.0,276.3 35.2,275.2 35.4,274.2 35.6,273.1 35.8,272.0 36.0,270.9 36.2,269.4 36.3,267.8 36.5,266.0 36.7,264.3 36.9,262.8 37.1,261.4 37.4,260.3 37.8,259.5 38.1,258.9 38.5,258.3 38.9,258.0 39.3,257.7 39.6,257.5 40.0,257.3 40.4,257.1 40.8,257.0 41.1,256.9 41.5,256.5 41.9,255.4 42.2,254.3 42.4,253.1 42.7,251.9 43.0,250.6 43.3,249.3 43.6,248.2 43.9,246.9 44.3,245.7 44.7,244.6 45.1,243.7 45.5,243.2 45.8,242.8 46.2,242.5 46.6,242.4 47.0,242.2 47.3,242.1 47.7,241.7 48.1,241.3 48.5,240.5 48.8,239.5 49.2,238.5 49.6,237.5 50.0,236.6 50.3,235.6 50.7,234.9 51.1,234.2 51.5,233.8 51.8,233.5 52.2,233.0 52.6,232.4 53.0,231.8 53.3,231.2 53.7,230.4 54.1,229.6 54.5,228.6 54.8,227.7 55.2,226.8 55.6,225.9 56.0,225.0 56.3,224.3 56.7,223.5 57.1,223.0 57.5,222.7 57.8,222.3 58.2,221.9 58.6,221.5 59.0,221.1 59.3,220.8 59.7,220.4 60.1,220.0 60.5,219.6 60.8,219.3 61.2,218.9 61.6,218.5 62.0,218.2 62.3,217.9 62.7,217.6 63.1,217.3 63.5,217.1 63.8,216.9 64.2,216.7 64.6,216.5 65.0,216.2 65.3,216.0 65.7,215.7 66.1,215.4 66.5,215.1 66.8,214.8 67.2,214.6 67.6,214.3 68.0,214.0 68.3,213.7 68.7,213.6 69.1,213.3 69.5,213.2 69.8,213.0 70.2,212.8 70.6,212.7 71.0,212.5 71.3,212.4 71.7,212.3 72.1,212.1 72.5,211.9 72.8,211.8 73.2,211.6 73.6,211.5 74.0,211.4 74.4,211.3 74.7,211.2 75.1,211.1 75.5,211.0 75.9,210.8 76.2,210.7 76.6,210.6 77.0,210.4 77.4,210.3 77.7,210.2 78.1,210.1 78.5,210.0 78.9,209.9 79.2,209.8 79.6,209.8 80.0,209.7 80.4,209.6 80.7,209.5 81.1,209.3 81.5,209.2 81.9,209.1 82.2,209.0 82.6,208.9 83.0,208.8 83.4,208.6 83.7,208.5 84.1,208.4 84.5,208.3 84.9,208.2 85.2,208.2 85.6,208.1 86.0,208.0 86.4,208.0 86.7,207.9 87.1,207.9 87.5,207.8 87.9,207.8 88.2,207.7 88.6,207.7 89.0,207.7 89.4,207.5 89.7,207.4 90.1,207.3 90.5,207.1 90.9,207.0 91.2,207.0 91.6,206.9 92.0,206.8 92.4,206.7 92.7,206.6 93.1,206.5 93.5,206.4 93.9,206.3 94.2,206.2 94.6,206.1 95.0,206.0 95.4,205.9 95.7,205.9 96.1,205.8 96.5,205.7 96.9,205.6 97.2,205.5 97.6,205.4 98.0,205.4 98.4,205.3 98.7,205.2 99.1,205.1 99.5,205.0 99.9,204.9 100.2,204.9 100.6,204.8 101.0,204.7 101.4,204.6 101.7,204.5 102.1,204.5 102.5,204.4 102.9,204.4 103.2,204.3 103.6,204.2 104.0,204.1 104.4,204.0 104.8,204.0 105.1,203.9 105.5,203.8 105.9,203.7 106.3,203.6 106.6,203.6 107.0,203.5 107.4,203.5 107.8,203.4 108.1,203.3 108.5,203.3 108.9,203.2 109.3,203.2 109.6,203.2 110.0,203.1 110.4,203.0 110.8,203.0 111.1,202.9 111.5,202.8 111.9,202.7 112.3,202.7 112.6,202.6 113.0,202.5 113.4,202.5 113.8,202.4 114.1,202.4 114.5,202.4 114.9,202.3 115.3,202.3 115.6,202.2 116.0,202.2 116.4,202.1 116.8,202.0 117.1,202.0 117.5,201.9 117.9,201.8 118.3,201.7 118.6,201.7 119.0,201.7 119.4,201.6 119.8,201.5 120.1,201.5 120.5,201.5 120.9,201.5 121.3,201.4 121.6,201.3 122.0,201.3 122.4,201.2 122.8,201.2 123.1,201.1 123.5,201.1 123.9,201.0 124.3,201.0 124.6,200.9 125.0,200.8 125.4,200.9 125.8,200.8 126.1,200.8 126.5,200.7 126.9,200.7 127.3,200.6 127.6,200.6 128.0,200.5 128.4,200.4 128.8,200.4 129.1,200.4 129.5,200.3 129.9,200.2 130.3,200.2 130.6,200.2 131.0,200.1 131.4,200.1 131.8,200.1 132.1,200.1 132.5,200.0 132.9,200.0 133.3,199.9 133.7,199.8 134.0,199.7 134.4,199.7 134.8,199.7 135.2,199.6 135.5,199.6 135.9,199.6 136.3,199.5 136.7,199.6 137.0,199.5 137.4,199.5 137.8,199.5 138.2,199.4 138.5,199.4 138.9,199.3 139.3,199.3 139.7,199.2 140.0,199.2 140.4,199.2 140.8,199.1 141.2,199.1 141.5,199.0 141.9,199.0 142.3,199.0 142.7,198.9 143.0,198.9 143.4,198.9 143.8,198.9 144.2,198.8 144.5,198.8 144.9,198.8 145.3,198.7 145.7,198.6 146.0,198.6 146.4,198.6 146.8,198.6 147.2,198.5 147.5,198.5 147.9,198.4 148.3,198.5 148.7,198.4 149.0,198.4 149.4,198.4 149.8,198.3 150.2,198.3 150.5,198.3 150.9,198.3 151.3,198.2 151.7,198.2 152.0,198.2 152.4,198.1 152.8,198.1 153.2,198.1 153.5,198.1 153.9,198.1 154.3,198.0 154.7,198.1 155.0,198.0 155.4,198.0 155.8,197.9 156.2,197.9 156.5,197.9 156.9,197.8 157.3,197.8 157.7,197.8 158.0,197.8 158.4,197.8 158.8,197.8 159.2,197.7 159.5,197.7 159.9,197.7 160.3,197.7 160.7,197.6 161.0,197.7 161.4,197.6 161.8,197.6 162.2,197.6 162.6,197.5 162.9,197.5 163.3,197.5 163.7,197.5 164.1,197.5 164.4,197.5 164.8,197.5 165.2,197.4 165.6,197.4 165.9,197.4 166.3,197.3 166.7,197.3 167.1,197.3 167.4,197.2 167.8,197.2 168.2,197.2 168.6,197.1 168.9,197.1 169.3,197.1 169.7,197.1 170.1,197.0 170.4,197.0 170.8,197.0 171.2,197.0 171.6,197.0 171.9,196.9 172.3,196.9 172.7,196.9 173.1,196.8 173.4,196.8 173.8,196.8 174.2,196.8 174.6,196.7 174.9,196.7 175.3,196.7 175.7,196.6 176.1,196.7 176.4,196.6 176.8,196.6 177.2,196.6 177.6,196.6 177.9,196.5 178.3,196.6 178.7,196.5 179.1,196.5 179.4,196.5 179.8,196.5 180.2,196.4 180.6,196.4 180.9,196.4 181.3,196.4 181.7,196.4 182.1,196.4 182.4,196.3 182.8,196.3 183.2,196.3 183.6,196.3 183.9,196.3 184.3,196.2 184.7,196.2 185.1,196.2 185.4,196.2 185.8,196.1 186.2,196.1 186.6,196.1 186.9,196.1 187.3,196.1 187.7,196.0 188.1,196.0 188.4,196.0 188.8,196.0 189.2,196.0 189.6,195.9 189.9,195.9 190.3,195.9 190.7,195.9 191.1,195.8 191.5,195.8 191.8,195.9 192.2,195.8 192.6,195.8 193.0,195.8 193.3,195.8 193.7,195.8 194.1,195.8 194.5,195.7 194.8,195.7 195.2,195.7 195.6,195.7 196.0,195.7 196.3,195.6 196.7,195.7 197.1,195.6 197.5,195.6 197.8,195.6 198.2,195.6 198.6,195.6 199.0,195.5 199.3,195.5 199.7,195.5 200.1,195.5 200.5,195.5 200.8,195.4 201.2,195.4 201.6,195.4 202.0,195.4 202.3,195.4 202.7,195.4 203.1,195.3 203.5,195.3 203.8,195.3 204.2,195.3 204.6,195.3 205.0,195.3 205.3,195.3 205.7,195.2 206.1,195.2 206.5,195.2 206.8,195.1 207.2,195.2 207.6,195.1 208.0,195.1 208.3,195.1 208.7,195.1 209.1,195.1 209.5,195.0 209.8,195.1 210.2,195.1 210.6,195.0 211.0,195.1 211.3,195.0 211.7,195.0 212.1,195.0 212.5,195.0 212.8,194.9 213.2,194.9 213.6,194.9 214.0,194.9 214.3,194.9 214.7,194.8 215.1,194.8 215.5,194.8 215.8,194.8 216.2,194.8 216.6,194.8 217.0,194.8 217.3,194.8 217.7,194.7 218.1,194.8 218.5,194.7 218.8,194.7 219.2,194.7 219.6,194.7 220.0,194.6 220.4,194.6 220.7,194.7 221.1,194.6 221.5,194.7 221.9,194.6 222.2,194.6 222.6,194.6 223.0,194.6 223.4,194.5 223.7,194.5 224.1,194.5 224.5,194.5 224.9,194.4 225.2,194.5 225.6,194.4 226.0,194.4 226.4,194.4 226.7,194.4 227.1,194.4 227.5,194.4 227.9,194.4 228.2,194.4 228.6,194.3 229.0,194.3 229.4,194.3 229.7,194.3 230.1,194.3 230.5,194.3 230.9,194.3 231.2,194.3 231.6,194.2 232.0,194.2 232.4,194.2 232.7,194.2 233.1,194.2 233.5,194.1 233.9,194.2 234.2,194.2 234.6,194.2 235.0,194.2 235.4,194.1 235.7,194.1 236.1,194.1 236.5,194.1 236.9,194.1 237.2,194.1 237.6,194.1 238.0,194.1 238.4,194.1 238.7,194.0 239.1,194.1 239.5,194.0 239.9,194.0 240.2,194.0 240.6,194.0 241.0,194.1 241.4,194.0 241.7,194.0 242.1,194.0 242.5,194.0 242.9,194.0 243.2,194.0 243.6,193.9 244.0,194.0 244.4,193.9 244.7,193.9 245.1,194.0 245.5,194.0 245.9,194.0 246.2,193.9 246.6,193.9 247.0,193.9 247.4,193.9 247.7,193.9 248.1,193.8 248.5,193.9" fill="none" stroke="#111" stroke-width="1.6" stroke-linejoin="round" />
<polyline points="23.4,309.4 23.7,310.4 24.0,311.5 24.2,312.5 24.5,313.5 24.8,314.5 25.1,315.5 25.4,316.7 25.7,318.0 25.9,319.3 26.2,320.5 26.5,321.5 26.9,322.4 27.2,322.5 27.6,322.2 28.0,321.4 28.4,320.3 28.7,318.1 28.7,316.6 28.8,314.6 28.9,312.5 29.0,310.2 29.1,307.8 29.2,305.4 29.3,302.8 29.4,299.7 29.5,296.3 29.6,293.0 29.7,290.4 29.8,288.4 29.9,286.4 30.0,284.5 30.1,282.7 30.2,281.1 30.2,279.8 30.4,278.3 30.8,278.4 31.2,278.8 31.6,279.4 31.9,280.1 32.3,280.8 32.7,281.5 33.1,282.0 33.4,282.2 33.8,282.0 34.2,281.0 34.5,280.0 34.8,278.6 35.0,277.2 35.2,276.1 35.4,275.0 35.6,274.0 35.8,272.9 36.0,271.7 36.2,270.1 36.3,268.3 36.5,266.4 36.7,264.5 36.9,262.9 37.1,261.6 37.4,260.6 37.8,260.0 38.1,259.5 38.5,259.1 38.9,258.8 39.3,258.6 39.6,258.3 40.0,258.1 40.4,258.0 40.8,257.8 41.1,257.6 41.5,256.9 41.9,255.7 42.2,254.5 42.4,253.1 42.7,251.7 43.0,250.4 43.3,249.2 43.7,248.0 44.0,246.9 44.4,245.9 44.8,245.1 45.2,244.4 45.5,243.9 45.9,243.6 46.3,243.2 46.7,242.9 47.0,242.6 47.4,242.1 47.8,241.5 48.2,240.8 48.5,240.0 48.9,239.2 49.3,238.4 49.7,237.6 50.0,236.8 50.4,236.2 50.8,235.6 51.2,235.1 51.5,234.7 51.9,234.2 52.3,233.7 52.7,233.0 53.1,232.3 53.4,231.5 53.8,230.6 54.2,229.8 54.6,228.9 54.9,228.0 55.3,227.2 55.7,226.4 56.1,225.6 56.4,225.0 56.8,224.4 57.2,223.8 57.6,223.4 57.9,222.9 58.3,222.4 58.7,222.0 59.1,221.6 59.4,221.2 59.8,220.8 60.2,220.4 60.6,220.1 60.9,219.7 61.3,219.4 61.7,219.1 62.1,218.7 62.4,218.4 62.8,218.1 63.2,217.8 63.6,217.5 63.9,217.2 64.3,216.9 64.7,216.6 65.1,216.3 65.4,216.0 65.8,215.7 66.2,215.4 66.6,215.2 66.9,214.9 67.3,214.6 67.7,214.4 68.1,214.1 68.4,213.9 68.8,213.6 69.2,213.4 69.6,213.2 69.9,212.9 70.3,212.7 70.7,212.5 71.1,212.3 71.4,212.1 71.8,211.9 72.2,211.7 72.6,211.5 72.9,211.3 73.3,211.2 73.7,211.0 74.1,210.8 74.4,210.6 74.8,210.5 75.2,210.3 75.6,210.2 75.9,210.0 76.3,209.8 76.7,209.7 77.1,209.5 77.4,209.4 77.8,209.2 78.2,209.1 78.6,209.0 78.9,208.8 79.3,208.7 79.7,208.6 80.1,208.4 80.4,208.3 80.8,208.2 81.2,208.1 81.6,207.9 82.0,207.8 82.3,207.7 82.7,207.6 83.1,207.5 83.5,207.4 83.8,207.3 84.2,207.1 84.6,207.0 85.0,206.9 85.3,206.8 85.7,206.7 86.1,206.6 86.5,206.5 86.8,206.4 87.2,206.3 87.6,206.2 88.0,206.1 88.3,206.0 88.7,205.9 89.1,205.8 89.5,205.7 89.8,205.6 90.2,205.5 90.6,205.4 91.0,205.3 91.3,205.2 91.7,205.1 92.1,205.0 92.5,204.9 92.8,204.8 93.2,204.7 93.6,204.6 94.0,204.5 94.3,204.4 94.7,204.3 95.1,204.2 95.5,204.2 95.8,204.1 96.2,204.0 96.6,203.9 97.0,203.8 97.3,203.7 97.7,203.6 98.1,203.5 98.5,203.5 98.8,203.4 99.2,203.3 99.6,203.2 100.0,203.1 100.3,203.1 100.7,203.0 101.1,202.9 101.5,202.8 101.8,202.7 102.2,202.7 102.6,202.6 103.0,202.5 103.3,202.4 103.7,202.4 104.1,202.3 104.5,202.2 104.8,202.2 105.2,202.1 105.6,202.0 106.0,202.0 106.3,201.9 106.7,201.8 107.1,201.8 107.5,201.7 107.8,201.6 108.2,201.6 108.6,201.5 109.0,201.4 109.3,201.4 109.7,201.3 110.1,201.2 110.5,201.2 110.9,201.1 111.2,201.1 111.6,201.0 112.0,200.9 112.4,200.9 112.7,200.8 113.1,200.8 113.5,200.7 113.9,200.7 114.2,200.6 114.6,200.6 115.0,200.5 115.4,200.5 115.7,200.4 116.1,200.4 116.5,200.3 116.9,200.2 117.2,200.2 117.6,200.1 118.0,200.1 118.4,200.0 118.7,200.0 119.1,199.9 119.5,199.9 119.9,199.8 120.2,199.8 120.6,199.7 121.0,199.7 121.4,199.6 121.7,199.6 122.1,199.5 122.5,199.5 122.9,199.5 123.2,199.4 123.6,199.4 124.0,199.3 124.4,199.3 124.7,199.2 125.1,199.2 125.5,199.1 125.9,199.1 126.2,199.0 126.6,199.0 127.0,199.0 127.4,198.9 127.7,198.9 128.1,198.8 128.5,198.8 128.9,198.7 129.2,198.7 129.6,198.7 130.0,198.6 130.4,198.6 130.7,198.5 131.1,198.5 131.5,198.5 131.9,198.4 132.2,198.4 132.6,198.3 133.0,198.3 133.4,198.3 133.7,198.2 134.1,198.2 134.5,198.1 134.9,198.1 135.2,198.1 135.6,198.0 136.0,198.0 136.4,198.0 136.7,197.9 137.1,197.9 137.5,197.9 137.9,197.8 138.2,197.8 138.6,197.8 139.0,197.7 139.4,197.7 139.8,197.7 140.1,197.6 140.5,197.6 140.9,197.6 141.3,197.5 141.6,197.5 142.0,197.5 142.4,197.5 142.8,197.4 143.1,197.4 143.5,197.4 143.9,197.3 144.3,197.3 144.6,197.3 145.0,197.3 145.4,197.2 145.8,197.2 146.1,197.2 146.5,197.1 146.9,197.1 147.3,197.1 147.6,197.1 148.0,197.0 148.4,197.0 148.8,197.0 149.1,196.9 149.5,196.9 149.9,196.9 150.3,196.9 150.6,196.8 151.0,196.8 151.4,196.8 151.8,196.8 152.1,196.7 152.5,196.7 152.9,196.7 153.3,196.7 153.6,196.6 154.0,196.6 154.4,196.6 154.8,196.6 155.1,196.5 155.5,196.5 155.9,196.5 156.3,196.5 156.6,196.4 157.0,196.4 157.4,196.4 157.8,196.4 158.1,196.4 158.5,196.3 158.9,196.3 159.3,196.3 159.6,196.3 160.0,196.2 160.4,196.2 160.8,196.2 161.1,196.2 161.5,196.1 161.9,196.1 162.3,196.1 162.6,196.1 163.0,196.1 163.4,196.0 163.8,196.0 164.1,196.0 164.5,196.0 164.9,195.9 165.3,195.9 165.6,195.9 166.0,195.9 166.4,195.8 166.8,195.8 167.1,195.8 167.5,195.8 167.9,195.8 168.3,195.7 168.7,195.7 169.0,195.7 169.4,195.7 169.8,195.6 170.2,195.6 170.5,195.6 170.9,195.6 171.3,195.6 171.7,195.5 172.0,195.5 172.4,195.5 172.8,195.5 173.2,195.5 173.5,195.4 173.9,195.4 174.3,195.4 174.7,195.4 175.0,195.4 175.4,195.3 175.8,195.3 176.2,195.3 176.5,195.3 176.9,195.3 177.3,195.2 177.7,195.2 178.0,195.2 178.4,195.2 178.8,195.1 179.2,195.1 179.5,195.1 179.9,195.1 180.3,195.1 180.7,195.1 181.0,195.0 181.4,195.0 181.8,195.0 182.2,195.0 182.5,195.0 182.9,194.9 183.3,194.9 183.7,194.9 184.0,194.9 184.4,194.9 184.8,194.8 185.2,194.8 185.5,194.8 185.9,194.8 186.3,194.8 186.7,194.7 187.0,194.7 187.4,194.7 187.8,194.7 188.2,194.7 188.5,194.7 188.9,194.6 189.3,194.6 189.7,194.6 190.0,194.6 190.4,194.6 190.8,194.5 191.2,194.5 191.5,194.5 191.9,194.5 192.3,194.5 192.7,194.5 193.0,194.4 193.4,194.4 193.8,194.4 194.2,194.4 194.5,194.4 194.9,194.4 195.3,194.3 195.7,194.3 196.0,194.3 196.4,194.3 196.8,194.3 197.2,194.2 197.5,194.2 197.9,194.2 198.3,194.2 198.7,194.2 199.1,194.2 199.4,194.1 199.8,194.1 200.2,194.1 200.6,194.1 200.9,194.1 201.3,194.1 201.7,194.0 202.1,194.0 202.4,194.0 202.8,194.0 203.2,194.0 203.6,194.0 203.9,193.9 204.3,193.9 204.7,193.9 205.1,193.9 205.4,193.9 205.8,193.9 206.2,193.8 206.6,193.8 206.9,193.8 207.3,193.8 207.7,193.8 208.1,193.8 208.4,193.8 208.8,193.7 209.2,193.7 209.6,193.7 209.9,193.7 210.3,193.7 210.7,193.7 211.1,193.6 211.4,193.6 211.8,193.6 212.2,193.6 212.6,193.6 212.9,193.6 213.3,193.6 213.7,193.5 214.1,193.5 214.4,193.5 214.8,193.5 215.2,193.5 215.6,193.5 215.9,193.5 216.3,193.4 216.7,193.4 217.1,193.4 217.4,193.4 217.8,193.4 218.2,193.4 218.6,193.4 218.9,193.3 219.3,193.3 219.7,193.3 220.1,193.3 220.4,193.3 220.8,193.3 221.2,193.3 221.6,193.2 221.9,193.2 222.3,193.2 222.7,193.2 223.1,193.2 223.4,193.2 223.8,193.2 224.2,193.1 224.6,193.1 224.9,193.1 225.3,193.1 225.7,193.1 226.1,193.1 226.4,193.1 226.8,193.0 227.2,193.0 227.6,193.0 228.0,193.0 228.3,193.0 228.7,193.0 229.1,193.0 229.5,193.0 229.8,192.9 230.2,192.9 230.6,192.9 231.0,192.9 231.3,192.9 231.7,192.9 232.1,192.9 232.5,192.9 232.8,192.8 233.2,192.8 233.6,192.8 234.0,192.8 234.3,192.8 234.7,192.8 235.1,192.8 235.5,192.8 235.8,192.7 236.2,192.7 236.6,192.7 237.0,192.7 237.3,192.7 237.7,192.7 238.1,192.7 238.5,192.7 238.8,192.6 239.2,192.6 239.6,192.6 240.0,192.6 240.3,192.6 240.7,192.6 241.1,192.6 241.5,192.6 241.8,192.5 242.2,192.5 242.6,192.5 243.0,192.5 243.3,192.5 243.7,192.5 244.1,192.5 244.5,192.5 244.8,192.5 245.2,192.4 245.6,192.4 246.0,192.4 246.3,192.4 246.7,192.4 247.1,192.4 247.5,192.4 247.8,192.4 248.2,192.4" fill="none" stroke="#008000" stroke-width="1.1" stroke-linejoin="round" />
</g>
<rect x="23.4" y="186.8" width="225.10" height="144.70" fill="none" stroke="#444" stroke-width="0.9"/>
<line x1="23.40" y1="331.5" x2="23.40" y2="329.2" stroke="#444" stroke-width="0.7"/>
<line x1="23.40" y1="186.8" x2="23.40" y2="189.10000000000002" stroke="#444" stroke-width="0.7"/>
<text x="23.40" y="338.70" font-size="7.3" text-anchor="middle">0.0</text>
<line x1="51.54" y1="331.5" x2="51.54" y2="329.2" stroke="#444" stroke-width="0.7"/>
<line x1="51.54" y1="186.8" x2="51.54" y2="189.10000000000002" stroke="#444" stroke-width="0.7"/>
<text x="51.54" y="338.70" font-size="7.3" text-anchor="middle">2.5</text>
<line x1="79.67" y1="331.5" x2="79.67" y2="329.2" stroke="#444" stroke-width="0.7"/>
<line x1="79.67" y1="186.8" x2="79.67" y2="189.10000000000002" stroke="#444" stroke-width="0.7"/>
<text x="79.67" y="338.70" font-size="7.3" text-anchor="middle">5.0</text>
<line x1="107.81" y1="331.5" x2="107.81" y2="329.2" stroke="#444" stroke-width="0.7"/>
<line x1="107.81" y1="186.8" x2="107.81" y2="189.10000000000002" stroke="#444" stroke-width="0.7"/>
<text x="107.81" y="338.70" font-size="7.3" text-anchor="middle">7.5</text>
<line x1="135.95" y1="331.5" x2="135.95" y2="329.2" stroke="#444" stroke-width="0.7"/>
<line x1="135.95" y1="186.8" x2="135.95" y2="189.10000000000002" stroke="#444" stroke-width="0.7"/>
<text x="135.95" y="338.70" font-size="7.3" text-anchor="middle">10.0</text>
<line x1="164.09" y1="331.5" x2="164.09" y2="329.2" stroke="#444" stroke-width="0.7"/>
<line x1="164.09" y1="186.8" x2="164.09" y2="189.10000000000002" stroke="#444" stroke-width="0.7"/>
<text x="164.09" y="338.70" font-size="7.3" text-anchor="middle">12.5</text>
<line x1="192.22" y1="331.5" x2="192.22" y2="329.2" stroke="#444" stroke-width="0.7"/>
<line x1="192.22" y1="186.8" x2="192.22" y2="189.10000000000002" stroke="#444" stroke-width="0.7"/>
<text x="192.22" y="338.70" font-size="7.3" text-anchor="middle">15.0</text>
<line x1="220.36" y1="331.5" x2="220.36" y2="329.2" stroke="#444" stroke-width="0.7"/>
<line x1="220.36" y1="186.8" x2="220.36" y2="189.10000000000002" stroke="#444" stroke-width="0.7"/>
<text x="220.36" y="338.70" font-size="7.3" text-anchor="middle">17.5</text>
<line x1="248.50" y1="331.5" x2="248.50" y2="329.2" stroke="#444" stroke-width="0.7"/>
<line x1="248.50" y1="186.8" x2="248.50" y2="189.10000000000002" stroke="#444" stroke-width="0.7"/>
<text x="248.50" y="338.70" font-size="7.3" text-anchor="middle">20.0</text>
<line x1="23.4" y1="321.85" x2="25.7" y2="321.85" stroke="#444" stroke-width="0.7"/>
<line x1="248.5" y1="321.85" x2="246.2" y2="321.85" stroke="#444" stroke-width="0.7"/>
<text x="22.40" y="324.26" font-size="7.3" text-anchor="end">0.8</text>
<line x1="23.4" y1="302.56" x2="25.7" y2="302.56" stroke="#444" stroke-width="0.7"/>
<line x1="248.5" y1="302.56" x2="246.2" y2="302.56" stroke="#444" stroke-width="0.7"/>
<text x="22.40" y="304.97" font-size="7.3" text-anchor="end">1.0</text>
<line x1="23.4" y1="283.27" x2="25.7" y2="283.27" stroke="#444" stroke-width="0.7"/>
<line x1="248.5" y1="283.27" x2="246.2" y2="283.27" stroke="#444" stroke-width="0.7"/>
<text x="22.40" y="285.68" font-size="7.3" text-anchor="end">1.2</text>
<line x1="23.4" y1="263.97" x2="25.7" y2="263.97" stroke="#444" stroke-width="0.7"/>
<line x1="248.5" y1="263.97" x2="246.2" y2="263.97" stroke="#444" stroke-width="0.7"/>
<text x="22.40" y="266.38" font-size="7.3" text-anchor="end">1.4</text>
<line x1="23.4" y1="244.68" x2="25.7" y2="244.68" stroke="#444" stroke-width="0.7"/>
<line x1="248.5" y1="244.68" x2="246.2" y2="244.68" stroke="#444" stroke-width="0.7"/>
<text x="22.40" y="247.09" font-size="7.3" text-anchor="end">1.6</text>
<line x1="23.4" y1="225.39" x2="25.7" y2="225.39" stroke="#444" stroke-width="0.7"/>
<line x1="248.5" y1="225.39" x2="246.2" y2="225.39" stroke="#444" stroke-width="0.7"/>
<text x="22.40" y="227.80" font-size="7.3" text-anchor="end">1.8</text>
<line x1="23.4" y1="206.09" x2="25.7" y2="206.09" stroke="#444" stroke-width="0.7"/>
<line x1="248.5" y1="206.09" x2="246.2" y2="206.09" stroke="#444" stroke-width="0.7"/>
<text x="22.40" y="208.50" font-size="7.3" text-anchor="end">2.0</text>
<line x1="23.4" y1="186.80" x2="25.7" y2="186.80" stroke="#444" stroke-width="0.7"/>
<line x1="248.5" y1="186.80" x2="246.2" y2="186.80" stroke="#444" stroke-width="0.7"/>
<text x="22.40" y="189.21" font-size="7.3" text-anchor="end">2.2</text>
<rect x="99.2" y="233.4" width="141.30" height="82.10" fill="#fff" stroke="none"/>
<clipPath id="iBL"><rect x="99.2" y="233.4" width="141.30" height="82.10"/></clipPath>
<g clip-path="url(#iBL)">
<polyline points="98.1,313.3 98.2,313.1 98.3,313.0 98.4,312.8 98.5,313.0 98.6,313.0 98.7,312.7 98.7,312.5 98.8,312.4 98.9,312.4 99.0,312.1 99.1,312.0 99.2,312.1 99.3,312.2 99.4,312.0 99.5,311.9 99.6,311.9 99.7,311.5 99.8,311.3 99.9,311.4 100.0,311.4 100.1,311.5 100.2,311.3 100.3,311.3 100.4,311.0 100.5,310.9 100.6,311.2 100.7,310.9 100.8,310.9 100.9,310.9 101.0,310.8 101.1,310.6 101.2,310.5 101.3,310.2 101.4,310.1 101.5,310.0 101.6,309.8 101.7,309.9 101.8,309.8 101.9,309.8 102.0,309.8 102.1,309.6 102.2,309.2 102.3,309.3 102.4,309.3 102.5,309.0 102.6,308.8 102.7,308.5 102.8,308.6 102.9,308.7 103.0,308.5 103.1,308.6 103.2,308.4 103.3,308.1 103.4,307.8 103.5,307.8 103.6,307.7 103.7,307.5 103.8,307.3 103.9,307.3 104.0,307.1 104.0,306.8 104.1,306.7 104.2,306.6 104.3,306.7 104.4,307.0 104.5,306.9 104.6,306.4 104.7,306.1 104.8,306.1 104.9,306.3 105.0,306.3 105.1,306.0 105.2,306.0 105.3,305.9 105.4,305.7 105.5,305.7 105.6,305.7 105.7,305.5 105.8,305.2 105.9,305.1 106.0,305.2 106.1,305.3 106.2,305.1 106.3,304.9 106.4,304.6 106.5,304.5 106.6,304.7 106.7,304.6 106.8,304.6 106.9,304.7 107.0,304.6 107.1,304.4 107.2,304.5 107.3,304.1 107.4,304.0 107.5,304.1 107.6,304.0 107.7,304.0 107.8,303.7 107.9,303.7 108.0,303.6 108.1,303.6 108.2,303.3 108.3,303.1 108.4,303.1 108.5,303.2 108.6,303.0 108.7,303.0 108.8,302.9 108.9,302.6 109.0,302.3 109.1,302.4 109.2,302.3 109.3,302.2 109.4,301.9 109.4,301.9 109.5,301.8 109.6,301.7 109.7,301.6 109.8,301.8 109.9,301.6 110.0,301.3 110.1,301.3 110.2,301.3 110.3,300.9 110.4,300.9 110.5,301.0 110.6,300.8 110.7,300.8 110.8,300.8 110.9,300.7 111.0,300.5 111.1,300.5 111.2,300.1 111.3,300.0 111.4,300.0 111.5,300.2 111.6,300.2 111.7,300.1 111.8,299.9 111.9,300.0 112.0,299.8 112.1,299.6 112.2,299.5 112.3,299.6 112.4,299.6 112.5,299.4 112.6,299.2 112.7,299.5 112.8,299.2 112.9,299.2 113.0,299.0 113.1,298.7 113.2,298.8 113.3,298.7 113.4,298.5 113.5,298.2 113.6,298.6 113.7,298.5 113.8,298.4 113.9,298.3 114.0,298.1 114.1,298.0 114.2,297.9 114.3,297.8 114.4,297.8 114.5,297.6 114.6,297.3 114.7,297.1 114.7,297.1 114.8,297.1 114.9,296.9 115.0,297.0 115.1,296.8 115.2,296.4 115.3,296.5 115.4,296.5 115.5,296.5 115.6,296.4 115.7,296.4 115.8,296.3 115.9,296.0 116.0,295.9 116.1,295.7 116.2,296.0 116.3,295.8 116.4,295.4 116.5,295.3 116.6,295.8 116.7,295.5 116.8,295.1 116.9,295.2 117.0,295.1 117.1,295.2 117.2,295.0 117.3,295.1 117.4,294.9 117.5,294.7 117.6,294.5 117.7,294.7 117.8,294.6 117.9,294.5 118.0,294.4 118.1,294.5 118.2,294.2 118.3,294.0 118.4,294.2 118.5,294.4 118.6,294.2 118.7,294.3 118.8,294.2 118.9,293.8 119.0,293.6 119.1,293.5 119.2,293.6 119.3,293.3 119.4,293.3 119.5,293.4 119.6,293.4 119.7,293.1 119.8,293.2 119.9,293.0 120.0,292.9 120.1,292.9 120.1,292.7 120.2,292.3 120.3,292.4 120.4,292.3 120.5,292.3 120.6,292.3 120.7,291.9 120.8,291.9 120.9,292.1 121.0,292.0 121.1,291.9 121.2,291.7 121.3,291.7 121.4,291.5 121.5,291.5 121.6,291.4 121.7,291.4 121.8,291.3 121.9,291.1 122.0,290.9 122.1,290.9 122.2,290.8 122.3,290.9 122.4,290.7 122.5,290.7 122.6,290.8 122.7,290.6 122.8,290.6 122.9,290.5 123.0,290.4 123.1,290.3 123.2,290.6 123.3,290.4 123.4,290.5 123.5,290.5 123.6,290.2 123.7,290.1 123.8,289.9 123.9,290.0 124.0,289.7 124.1,290.1 124.2,290.1 124.3,289.8 124.4,289.6 124.5,289.9 124.6,289.9 124.7,289.7 124.8,289.5 124.9,289.5 125.0,289.4 125.1,289.2 125.2,289.3 125.3,289.6 125.4,289.4 125.4,289.1 125.5,288.7 125.6,288.8 125.7,288.7 125.8,288.8 125.9,288.7 126.0,288.6 126.1,288.5 126.2,288.4 126.3,288.4 126.4,288.4 126.5,288.1 126.6,288.2 126.7,287.8 126.8,287.6 126.9,287.6 127.0,287.5 127.1,287.6 127.2,287.2 127.3,287.3 127.4,287.4 127.5,287.4 127.6,287.3 127.7,287.2 127.8,287.0 127.9,287.0 128.0,287.2 128.1,286.8 128.2,286.8 128.3,286.8 128.4,286.6 128.5,286.6 128.6,286.6 128.7,286.6 128.8,286.6 128.9,286.4 129.0,286.2 129.1,286.2 129.2,286.3 129.3,286.4 129.4,286.1 129.5,285.9 129.6,286.1 129.7,286.3 129.8,285.9 129.9,285.9 130.0,285.6 130.1,285.7 130.2,285.9 130.3,285.9 130.4,285.7 130.5,285.6 130.6,285.3 130.7,285.6 130.8,285.6 130.8,285.5 130.9,285.5 131.0,285.2 131.1,285.2 131.2,285.0 131.3,284.9 131.4,284.8 131.5,284.9 131.6,284.8 131.7,284.6 131.8,284.7 131.9,284.7 132.0,284.8 132.1,284.5 132.2,284.1 132.3,284.1 132.4,284.2 132.5,284.2 132.6,283.7 132.7,284.0 132.8,283.8 132.9,283.6 133.0,283.7 133.1,283.4 133.2,283.3 133.3,283.5 133.4,283.6 133.5,283.5 133.6,283.5 133.7,283.3 133.8,282.9 133.9,282.8 134.0,282.9 134.1,283.3 134.2,283.0 134.3,283.2 134.4,283.0 134.5,282.8 134.6,282.8 134.7,282.8 134.8,282.7 134.9,282.5 135.0,282.6 135.1,282.5 135.2,282.2 135.3,282.1 135.4,282.4 135.5,282.4 135.6,282.2 135.7,282.2 135.8,282.2 135.9,282.0 136.0,282.2 136.1,282.1 136.1,282.1 136.2,281.9 136.3,282.1 136.4,281.9 136.5,282.0 136.6,282.1 136.7,282.0 136.8,281.9 136.9,281.7 137.0,281.6 137.1,281.6 137.2,281.2 137.3,281.5 137.4,281.2 137.5,281.1 137.6,281.4 137.7,281.2 137.8,281.0 137.9,281.0 138.0,281.1 138.1,280.8 138.2,280.7 138.3,281.1 138.4,280.9 138.5,280.5 138.6,280.5 138.7,280.6 138.8,280.5 138.9,280.3 139.0,280.2 139.1,280.3 139.2,280.0 139.3,279.9 139.4,280.2 139.5,280.2 139.6,280.2 139.7,280.1 139.8,280.3 139.9,280.0 140.0,279.8 140.1,279.8 140.2,279.9 140.3,279.6 140.4,279.7 140.5,279.6 140.6,279.8 140.7,279.8 140.8,279.5 140.9,279.4 141.0,279.6 141.1,279.6 141.2,279.5 141.3,279.4 141.4,279.6 141.5,279.5 141.5,279.3 141.6,279.3 141.7,279.3 141.8,279.2 141.9,279.2 142.0,279.1 142.1,279.0 142.2,279.3 142.3,279.3 142.4,279.1 142.5,278.9 142.6,278.9 142.7,278.9 142.8,278.8 142.9,279.0 143.0,278.8 143.1,278.6 143.2,278.5 143.3,278.5 143.4,278.6 143.5,278.4 143.6,278.4 143.7,278.3 143.8,278.2 143.9,278.1 144.0,278.1 144.1,277.9 144.2,277.9 144.3,277.8 144.4,277.9 144.5,278.1 144.6,277.8 144.7,277.6 144.8,277.7 144.9,277.8 145.0,277.6 145.1,277.7 145.2,278.0 145.3,277.5 145.4,277.4 145.5,277.3 145.6,277.3 145.7,277.3 145.8,277.3 145.9,277.2 146.0,277.3 146.1,277.3 146.2,277.2 146.3,277.2 146.4,277.0 146.5,277.0 146.6,277.2 146.7,277.3 146.8,276.9 146.8,276.8 146.9,277.0 147.0,276.9 147.1,276.9 147.2,276.9 147.3,276.9 147.4,276.6 147.5,276.7 147.6,276.8 147.7,276.9 147.8,276.9 147.9,276.9 148.0,276.6 148.1,276.8 148.2,276.5 148.3,276.2 148.4,276.4 148.5,276.2 148.6,276.2 148.7,276.4 148.8,276.3 148.9,276.4 149.0,276.3 149.1,276.4 149.2,276.2 149.3,276.3 149.4,276.2 149.5,276.4 149.6,276.2 149.7,276.0 149.8,275.9 149.9,275.6 150.0,275.6 150.1,275.7 150.2,275.9 150.3,275.8 150.4,275.7 150.5,275.6 150.6,275.4 150.7,275.8 150.8,275.6 150.9,275.4 151.0,275.2 151.1,275.4 151.2,275.4 151.3,275.2 151.4,275.1 151.5,275.2 151.6,275.4 151.7,275.2 151.8,275.0 151.9,274.8 152.0,275.1 152.1,274.8 152.2,275.0 152.2,275.2 152.3,274.8 152.4,274.7 152.5,274.9 152.6,274.6 152.7,274.7 152.8,274.7 152.9,274.9 153.0,274.5 153.1,274.4 153.2,274.5 153.3,274.5 153.4,274.4 153.5,274.2 153.6,274.2 153.7,274.3 153.8,274.3 153.9,274.3 154.0,274.1 154.1,274.3 154.2,274.1 154.3,273.8 154.4,274.0 154.5,273.9 154.6,273.8 154.7,273.8 154.8,273.9 154.9,273.9 155.0,273.8 155.1,273.5 155.2,273.6 155.3,273.7 155.4,273.4 155.5,273.2 155.6,273.2 155.7,273.0 155.8,273.0 155.9,273.0 156.0,272.8 156.1,273.0 156.2,273.0 156.3,273.0 156.4,272.7 156.5,272.7 156.6,272.6 156.7,272.6 156.8,272.6 156.9,272.4 157.0,272.2 157.1,272.3 157.2,272.1 157.3,272.0 157.4,272.0 157.5,272.1 157.5,272.1 157.6,272.1 157.7,272.0 157.8,272.0 157.9,271.9 158.0,271.9 158.1,271.9 158.2,271.9 158.3,271.7 158.4,271.7 158.5,271.6 158.6,271.4 158.7,271.5 158.8,271.5 158.9,271.5 159.0,271.5 159.1,271.3 159.2,271.5 159.3,271.5 159.4,271.3 159.5,271.2 159.6,271.4 159.7,271.1 159.8,271.0 159.9,271.0 160.0,271.1 160.1,270.7 160.2,270.5 160.3,270.8 160.4,270.6 160.5,270.4 160.6,270.6 160.7,270.7 160.8,270.6 160.9,270.7 161.0,270.2 161.1,270.1 161.2,270.4 161.3,270.5 161.4,270.3 161.5,270.1 161.6,270.1 161.7,270.0 161.8,270.1 161.9,270.2 162.0,269.9 162.1,269.6 162.2,269.7 162.3,269.7 162.4,269.7 162.5,269.5 162.6,269.5 162.7,269.7 162.8,269.6 162.9,269.6 162.9,269.5 163.0,269.3 163.1,269.5 163.2,269.4 163.3,269.2 163.4,269.1 163.5,269.2 163.6,269.0 163.7,269.0 163.8,269.1 163.9,269.1 164.0,268.9 164.1,268.9 164.2,268.8 164.3,268.3 164.4,268.7 164.5,268.8 164.6,269.0 164.7,269.1 164.8,268.8 164.9,268.7 165.0,269.0 165.1,268.7 165.2,268.6 165.3,268.7 165.4,268.8 165.5,268.6 165.6,268.4 165.7,268.6 165.8,268.6 165.9,268.6 166.0,268.6 166.1,268.3 166.2,268.3 166.3,268.5 166.4,268.4 166.5,268.1 166.6,268.2 166.7,267.8 166.8,268.0 166.9,268.4 167.0,268.1 167.1,268.1 167.2,268.0 167.3,267.8 167.4,268.0 167.5,267.9 167.6,268.0 167.7,267.9 167.8,267.8 167.9,267.6 168.0,267.5 168.1,267.9 168.2,267.5 168.2,267.5 168.3,267.3 168.4,267.4 168.5,267.4 168.6,267.4 168.7,267.4 168.8,267.3 168.9,267.1 169.0,267.1 169.1,267.2 169.2,267.0 169.3,266.9 169.4,266.8 169.5,266.7 169.6,266.9 169.7,266.9 169.8,266.9 169.9,266.8 170.0,266.8 170.1,266.7 170.2,266.8 170.3,266.6 170.4,266.7 170.5,266.5 170.6,266.6 170.7,266.8 170.8,266.6 170.9,266.4 171.0,266.6 171.1,266.6 171.2,266.5 171.3,266.6 171.4,266.3 171.5,266.1 171.6,266.6 171.7,266.4 171.8,266.3 171.9,266.1 172.0,266.3 172.1,266.3 172.2,266.1 172.3,266.1 172.4,266.2 172.5,265.9 172.6,266.1 172.7,266.2 172.8,266.1 172.9,265.9 173.0,265.9 173.1,266.0 173.2,265.8 173.3,265.6 173.4,265.5 173.5,265.5 173.6,265.7 173.6,265.5 173.7,265.6 173.8,265.4 173.9,265.4 174.0,265.6 174.1,265.5 174.2,265.5 174.3,265.1 174.4,264.9 174.5,265.3 174.6,265.4 174.7,265.0 174.8,265.1 174.9,265.1 175.0,265.2 175.1,265.2 175.2,264.9 175.3,265.1 175.4,265.2 175.5,264.7 175.6,264.7 175.7,264.5 175.8,264.4 175.9,264.6 176.0,264.4 176.1,264.5 176.2,264.6 176.3,264.2 176.4,264.4 176.5,264.4 176.6,264.7 176.7,264.9 176.8,264.7 176.9,264.3 177.0,264.1 177.1,264.4 177.2,264.3 177.3,264.3 177.4,264.3 177.5,264.3 177.6,264.2 177.7,264.3 177.8,264.5 177.9,264.2 178.0,263.9 178.1,263.9 178.2,263.9 178.3,263.8 178.4,263.6 178.5,263.9 178.6,264.0 178.7,263.9 178.8,263.7 178.9,263.5 178.9,263.5 179.0,263.6 179.1,263.6 179.2,263.6 179.3,263.5 179.4,263.4 179.5,263.1 179.6,263.4 179.7,263.2 179.8,263.2 179.9,263.3 180.0,263.1 180.1,263.3 180.2,263.2 180.3,262.9 180.4,262.9 180.5,262.9 180.6,263.2 180.7,262.9 180.8,262.8 180.9,262.7 181.0,262.6 181.1,262.7 181.2,262.9 181.3,262.8 181.4,262.5 181.5,262.5 181.6,262.6 181.7,262.3 181.8,262.5 181.9,262.3 182.0,262.5 182.1,262.4 182.2,262.5 182.3,262.5 182.4,262.3 182.5,262.4 182.6,262.2 182.7,262.5 182.8,262.8 182.9,262.6 183.0,262.5 183.1,262.3 183.2,262.3 183.3,262.3 183.4,262.0 183.5,262.2 183.6,262.3 183.7,262.4 183.8,262.4 183.9,262.2 184.0,262.1 184.1,262.1 184.2,262.0 184.3,262.2 184.3,261.8 184.4,261.6 184.5,261.7 184.6,262.1 184.7,261.9 184.8,261.8 184.9,261.7 185.0,261.4 185.1,261.8 185.2,261.6 185.3,261.6 185.4,261.7 185.5,261.7 185.6,261.3 185.7,261.2 185.8,261.4 185.9,261.4 186.0,261.5 186.1,261.2 186.2,261.2 186.3,261.5 186.4,261.3 186.5,261.3 186.6,261.1 186.7,261.0 186.8,261.0 186.9,261.1 187.0,260.8 187.1,260.8 187.2,261.0 187.3,261.0 187.4,260.7 187.5,260.8 187.6,260.8 187.7,260.8 187.8,260.8 187.9,260.7 188.0,260.6 188.1,260.6 188.2,260.4 188.3,260.8 188.4,260.6 188.5,260.4 188.6,260.3 188.7,260.1 188.8,260.5 188.9,260.5 189.0,260.6 189.1,260.4 189.2,260.2 189.3,260.4 189.4,260.2 189.5,260.1 189.6,260.4 189.7,260.4 189.7,260.3 189.8,260.0 189.9,260.0 190.0,259.9 190.1,260.1 190.2,259.9 190.3,259.9 190.4,259.9 190.5,259.9 190.6,259.9 190.7,259.6 190.8,259.5 190.9,259.6 191.0,259.5 191.1,259.5 191.2,259.6 191.3,259.8 191.4,259.7 191.5,259.6 191.6,259.2 191.7,259.5 191.8,259.4 191.9,258.8 192.0,259.1 192.1,259.1 192.2,259.5 192.3,259.3 192.4,259.0 192.5,259.1 192.6,259.5 192.7,259.2 192.8,259.1 192.9,258.9 193.0,259.0 193.1,259.0 193.2,258.9 193.3,258.9 193.4,258.9 193.5,259.0 193.6,259.0 193.7,259.0 193.8,258.8 193.9,258.6 194.0,258.7 194.1,259.0 194.2,259.0 194.3,258.6 194.4,258.7 194.5,258.7 194.6,258.7 194.7,258.8 194.8,258.7 194.9,258.8 195.0,258.7 195.0,258.3 195.1,258.7 195.2,258.8 195.3,258.8 195.4,258.6 195.5,258.7 195.6,258.4 195.7,258.4 195.8,258.4 195.9,258.3 196.0,258.5 196.1,258.3 196.2,258.2 196.3,258.4 196.4,258.4 196.5,258.3 196.6,258.5 196.7,258.2 196.8,257.7 196.9,257.7 197.0,257.8 197.1,257.8 197.2,257.7 197.3,257.7 197.4,257.6 197.5,257.6 197.6,257.8 197.7,257.5 197.8,257.6 197.9,257.8 198.0,257.8 198.1,257.6 198.2,257.4 198.3,257.5 198.4,257.2 198.5,257.1 198.6,257.0 198.7,257.1 198.8,257.5 198.9,257.6 199.0,257.3 199.1,257.4 199.2,257.3 199.3,257.1 199.4,257.1 199.5,257.1 199.6,257.0 199.7,256.9 199.8,257.1 199.9,257.0 200.0,256.9 200.1,257.1 200.2,257.0 200.3,256.9 200.4,256.9 200.4,257.2 200.5,257.2 200.6,256.9 200.7,257.0 200.8,256.9 200.9,256.9 201.0,257.0 201.1,256.8 201.2,257.0 201.3,256.7 201.4,256.8 201.5,256.7 201.6,256.4 201.7,256.8 201.8,256.8 201.9,256.6 202.0,256.6 202.1,256.6 202.2,256.3 202.3,256.4 202.4,256.3 202.5,256.0 202.6,256.4 202.7,256.5 202.8,256.2 202.9,256.4 203.0,256.4 203.1,255.8 203.2,256.1 203.3,255.9 203.4,255.7 203.5,256.2 203.6,256.0 203.7,255.6 203.8,255.8 203.9,255.6 204.0,255.7 204.1,255.8 204.2,255.7 204.3,255.5 204.4,255.6 204.5,255.8 204.6,255.8 204.7,255.8 204.8,255.5 204.9,255.7 205.0,255.5 205.1,255.5 205.2,255.3 205.3,255.5 205.4,255.4 205.5,255.4 205.6,255.2 205.7,255.3 205.7,255.2 205.8,255.0 205.9,255.4 206.0,255.6 206.1,255.4 206.2,255.1 206.3,255.3 206.4,255.3 206.5,255.2 206.6,255.3 206.7,255.2 206.8,255.1 206.9,255.4 207.0,255.3 207.1,255.3 207.2,255.0 207.3,254.9 207.4,254.9 207.5,255.3 207.6,255.0 207.7,254.8 207.8,254.7 207.9,254.7 208.0,255.0 208.1,255.1 208.2,254.7 208.3,254.7 208.4,254.9 208.5,254.9 208.6,254.7 208.7,254.9 208.8,254.5 208.9,254.5 209.0,254.5 209.1,254.5 209.2,254.4 209.3,254.4 209.4,254.3 209.5,254.1 209.6,254.2 209.7,254.3 209.8,254.3 209.9,254.1 210.0,254.1 210.1,254.3 210.2,254.2 210.3,254.2 210.4,254.2 210.5,253.9 210.6,254.0 210.7,253.9 210.8,254.1 210.9,254.2 211.0,253.8 211.1,253.9 211.1,253.7 211.2,253.7 211.3,253.8 211.4,254.0 211.5,253.8 211.6,253.7 211.7,253.6 211.8,253.7 211.9,253.5 212.0,253.8 212.1,253.7 212.2,254.0 212.3,253.7 212.4,253.6 212.5,253.7 212.6,253.6 212.7,253.6 212.8,253.7 212.9,253.4 213.0,253.3 213.1,253.4 213.2,253.6 213.3,253.7 213.4,253.6 213.5,253.4 213.6,253.5 213.7,253.6 213.8,253.3 213.9,253.2 214.0,253.0 214.1,252.9 214.2,253.2 214.3,253.2 214.4,253.0 214.5,252.9 214.6,252.9 214.7,253.1 214.8,253.0 214.9,252.9 215.0,253.0 215.1,252.6 215.2,252.6 215.3,252.7 215.4,252.7 215.5,252.6 215.6,252.7 215.7,252.7 215.8,252.4 215.9,252.6 216.0,252.6 216.1,252.3 216.2,252.5 216.3,252.4 216.4,252.2 216.4,252.2 216.5,252.5 216.6,252.5 216.7,252.2 216.8,252.5 216.9,252.3 217.0,252.2 217.1,252.1 217.2,251.9 217.3,252.1 217.4,252.0 217.5,252.4 217.6,252.4 217.7,252.2 217.8,251.9 217.9,251.8 218.0,252.1 218.1,252.2 218.2,252.4 218.3,252.1 218.4,251.8 218.5,251.8 218.6,251.8 218.7,251.8 218.8,252.1 218.9,252.1 219.0,251.7 219.1,251.7 219.2,251.8 219.3,252.0 219.4,252.0 219.5,252.0 219.6,251.6 219.7,251.7 219.8,251.8 219.9,251.4 220.0,251.3 220.1,251.4 220.2,251.5 220.3,251.7 220.4,251.6 220.5,251.5 220.6,251.7 220.7,251.9 220.8,251.7 220.9,251.6 221.0,251.3 221.1,251.3 221.2,251.1 221.3,251.2 221.4,251.1 221.5,251.0 221.6,251.4 221.7,251.5 221.8,251.4 221.8,251.4 221.9,251.2 222.0,251.4 222.1,251.0 222.2,250.5 222.3,251.0 222.4,251.2 222.5,251.0 222.6,250.8 222.7,250.8 222.8,250.8 222.9,250.6 223.0,251.0 223.1,250.9 223.2,250.8 223.3,250.8 223.4,250.7 223.5,250.8 223.6,250.6 223.7,250.8 223.8,250.5 223.9,250.5 224.0,250.7 224.1,250.6 224.2,250.5 224.3,250.6 224.4,250.4 224.5,250.4 224.6,250.5 224.7,250.6 224.8,250.2 224.9,250.2 225.0,250.6 225.1,250.6 225.2,250.9 225.3,250.5 225.4,250.4 225.5,250.6 225.6,250.5 225.7,250.4 225.8,250.5 225.9,250.4 226.0,250.3 226.1,250.4 226.2,250.2 226.3,249.9 226.4,250.4 226.5,250.1 226.6,250.2 226.7,250.0 226.8,250.2 226.9,250.0 227.0,250.2 227.1,250.3 227.1,250.0 227.2,250.1 227.3,250.0 227.4,250.3 227.5,250.2 227.6,250.1 227.7,250.1 227.8,250.0 227.9,250.0 228.0,250.0 228.1,249.8 228.2,249.9 228.3,249.8 228.4,249.6 228.5,249.8 228.6,249.9 228.7,249.9 228.8,249.6 228.9,249.7 229.0,249.9 229.1,249.6 229.2,249.4 229.3,249.5 229.4,249.8 229.5,249.7 229.6,249.6 229.7,249.4 229.8,249.5 229.9,249.5 230.0,249.9 230.1,250.1 230.2,249.6 230.3,249.3 230.4,249.5 230.5,249.8 230.6,249.4 230.7,249.5 230.8,249.6 230.9,249.4 231.0,249.2 231.1,249.4 231.2,249.6 231.3,249.4 231.4,249.0 231.5,249.2 231.6,249.2 231.7,249.3 231.8,249.2 231.9,249.2 232.0,249.1 232.1,249.3 232.2,249.4 232.3,249.5 232.4,249.6 232.5,249.4 232.5,249.5 232.6,249.6 232.7,249.4 232.8,249.3 232.9,249.3 233.0,249.2 233.1,249.6 233.2,249.2 233.3,248.7 233.4,249.0 233.5,249.1 233.6,249.0 233.7,249.1 233.8,248.9 233.9,249.0 234.0,249.2 234.1,248.9 234.2,248.8 234.3,248.7 234.4,248.9 234.5,248.9 234.6,248.9 234.7,248.9 234.8,248.9 234.9,248.9 235.0,249.1 235.1,249.0 235.2,249.0 235.3,248.8 235.4,248.5 235.5,248.7 235.6,249.0 235.7,249.1 235.8,248.9 235.9,248.7 236.0,249.0 236.1,248.6 236.2,248.3 236.3,248.7 236.4,248.7 236.5,248.4 236.6,248.7 236.7,248.7 236.8,248.7 236.9,248.5 237.0,248.8 237.1,248.8 237.2,248.6 237.3,248.9 237.4,248.8 237.5,248.6 237.6,248.9 237.7,248.9 237.8,249.0 237.8,248.7 237.9,248.5 238.0,248.5 238.1,248.7 238.2,248.5 238.3,248.5 238.4,248.8 238.5,248.5 238.6,248.5 238.7,248.6 238.8,248.6 238.9,248.6 239.0,248.7 239.1,248.5 239.2,248.1 239.3,248.3 239.4,248.1 239.5,248.3 239.6,248.4 239.7,248.1 239.8,248.0 239.9,248.2 240.0,248.1 240.1,248.0 240.2,248.0 240.3,248.1 240.4,248.1 240.5,248.2" fill="none" stroke="#000" stroke-width="1.6" stroke-linejoin="round" />
<polyline points="98.1,300.4 98.2,300.3 98.3,300.2 98.4,300.1 98.5,300.0 98.6,299.8 98.7,299.7 98.7,299.6 98.8,299.5 98.9,299.4 99.0,299.3 99.1,299.2 99.2,299.1 99.3,299.0 99.4,298.9 99.5,298.8 99.6,298.7 99.7,298.6 99.8,298.5 99.9,298.4 100.0,298.3 100.1,298.2 100.2,298.1 100.3,298.0 100.4,297.9 100.5,297.8 100.6,297.7 100.7,297.6 100.8,297.5 100.9,297.4 101.0,297.3 101.1,297.2 101.2,297.1 101.3,297.0 101.4,296.9 101.5,296.8 101.6,296.7 101.7,296.7 101.8,296.6 101.9,296.5 102.0,296.4 102.1,296.3 102.2,296.2 102.3,296.1 102.4,296.0 102.5,295.9 102.6,295.8 102.7,295.7 102.8,295.6 102.9,295.5 103.0,295.4 103.1,295.3 103.2,295.2 103.3,295.1 103.4,295.0 103.5,294.9 103.6,294.8 103.7,294.7 103.8,294.6 103.9,294.5 104.0,294.4 104.0,294.3 104.1,294.2 104.2,294.2 104.3,294.1 104.4,294.0 104.5,293.9 104.6,293.8 104.7,293.7 104.8,293.6 104.9,293.5 105.0,293.4 105.1,293.3 105.2,293.2 105.3,293.1 105.4,293.0 105.5,292.9 105.6,292.8 105.7,292.7 105.8,292.7 105.9,292.6 106.0,292.5 106.1,292.4 106.2,292.3 106.3,292.2 106.4,292.1 106.5,292.0 106.6,291.9 106.7,291.8 106.8,291.7 106.9,291.6 107.0,291.6 107.1,291.5 107.2,291.4 107.3,291.3 107.4,291.2 107.5,291.1 107.6,291.0 107.7,290.9 107.8,290.8 107.9,290.7 108.0,290.7 108.1,290.6 108.2,290.5 108.3,290.4 108.4,290.3 108.5,290.2 108.6,290.1 108.7,290.0 108.8,289.9 108.9,289.9 109.0,289.8 109.1,289.7 109.2,289.6 109.3,289.5 109.4,289.4 109.4,289.3 109.5,289.2 109.6,289.2 109.7,289.1 109.8,289.0 109.9,288.9 110.0,288.8 110.1,288.7 110.2,288.6 110.3,288.6 110.4,288.5 110.5,288.4 110.6,288.3 110.7,288.2 110.8,288.1 110.9,288.0 111.0,288.0 111.1,287.9 111.2,287.8 111.3,287.7 111.4,287.6 111.5,287.5 111.6,287.4 111.7,287.4 111.8,287.3 111.9,287.2 112.0,287.1 112.1,287.0 112.2,286.9 112.3,286.9 112.4,286.8 112.5,286.7 112.6,286.6 112.7,286.5 112.8,286.5 112.9,286.4 113.0,286.3 113.1,286.2 113.2,286.1 113.3,286.0 113.4,286.0 113.5,285.9 113.6,285.8 113.7,285.7 113.8,285.6 113.9,285.6 114.0,285.5 114.1,285.4 114.2,285.3 114.3,285.2 114.4,285.2 114.5,285.1 114.6,285.0 114.7,284.9 114.7,284.8 114.8,284.8 114.9,284.7 115.0,284.6 115.1,284.5 115.2,284.4 115.3,284.4 115.4,284.3 115.5,284.2 115.6,284.1 115.7,284.1 115.8,284.0 115.9,283.9 116.0,283.8 116.1,283.7 116.2,283.7 116.3,283.6 116.4,283.5 116.5,283.4 116.6,283.4 116.7,283.3 116.8,283.2 116.9,283.1 117.0,283.1 117.1,283.0 117.2,282.9 117.3,282.8 117.4,282.8 117.5,282.7 117.6,282.6 117.7,282.5 117.8,282.5 117.9,282.4 118.0,282.3 118.1,282.2 118.2,282.2 118.3,282.1 118.4,282.0 118.5,282.0 118.6,281.9 118.7,281.8 118.8,281.7 118.9,281.7 119.0,281.6 119.1,281.5 119.2,281.4 119.3,281.4 119.4,281.3 119.5,281.2 119.6,281.2 119.7,281.1 119.8,281.0 119.9,280.9 120.0,280.9 120.1,280.8 120.1,280.7 120.2,280.7 120.3,280.6 120.4,280.5 120.5,280.5 120.6,280.4 120.7,280.3 120.8,280.3 120.9,280.2 121.0,280.1 121.1,280.0 121.2,280.0 121.3,279.9 121.4,279.8 121.5,279.8 121.6,279.7 121.7,279.6 121.8,279.6 121.9,279.5 122.0,279.4 122.1,279.4 122.2,279.3 122.3,279.2 122.4,279.2 122.5,279.1 122.6,279.0 122.7,279.0 122.8,278.9 122.9,278.8 123.0,278.8 123.1,278.7 123.2,278.7 123.3,278.6 123.4,278.5 123.5,278.5 123.6,278.4 123.7,278.3 123.8,278.3 123.9,278.2 124.0,278.1 124.1,278.1 124.2,278.0 124.3,278.0 124.4,277.9 124.5,277.8 124.6,277.8 124.7,277.7 124.8,277.6 124.9,277.6 125.0,277.5 125.1,277.5 125.2,277.4 125.3,277.3 125.4,277.3 125.4,277.2 125.5,277.2 125.6,277.1 125.7,277.0 125.8,277.0 125.9,276.9 126.0,276.9 126.1,276.8 126.2,276.7 126.3,276.7 126.4,276.6 126.5,276.6 126.6,276.5 126.7,276.4 126.8,276.4 126.9,276.3 127.0,276.3 127.1,276.2 127.2,276.1 127.3,276.1 127.4,276.0 127.5,276.0 127.6,275.9 127.7,275.9 127.8,275.8 127.9,275.7 128.0,275.7 128.1,275.6 128.2,275.6 128.3,275.5 128.4,275.5 128.5,275.4 128.6,275.3 128.7,275.3 128.8,275.2 128.9,275.2 129.0,275.1 129.1,275.1 129.2,275.0 129.3,274.9 129.4,274.9 129.5,274.8 129.6,274.8 129.7,274.7 129.8,274.7 129.9,274.6 130.0,274.6 130.1,274.5 130.2,274.4 130.3,274.4 130.4,274.3 130.5,274.3 130.6,274.2 130.7,274.2 130.8,274.1 130.8,274.1 130.9,274.0 131.0,273.9 131.1,273.9 131.2,273.8 131.3,273.8 131.4,273.7 131.5,273.7 131.6,273.6 131.7,273.6 131.8,273.5 131.9,273.5 132.0,273.4 132.1,273.4 132.2,273.3 132.3,273.3 132.4,273.2 132.5,273.1 132.6,273.1 132.7,273.0 132.8,273.0 132.9,272.9 133.0,272.9 133.1,272.8 133.2,272.8 133.3,272.7 133.4,272.7 133.5,272.6 133.6,272.6 133.7,272.5 133.8,272.5 133.9,272.4 134.0,272.4 134.1,272.3 134.2,272.3 134.3,272.2 134.4,272.2 134.5,272.1 134.6,272.1 134.7,272.0 134.8,272.0 134.9,271.9 135.0,271.9 135.1,271.8 135.2,271.8 135.3,271.7 135.4,271.7 135.5,271.6 135.6,271.6 135.7,271.5 135.8,271.5 135.9,271.4 136.0,271.4 136.1,271.3 136.1,271.3 136.2,271.2 136.3,271.2 136.4,271.1 136.5,271.1 136.6,271.0 136.7,271.0 136.8,270.9 136.9,270.9 137.0,270.8 137.1,270.8 137.2,270.7 137.3,270.7 137.4,270.6 137.5,270.6 137.6,270.5 137.7,270.5 137.8,270.4 137.9,270.4 138.0,270.3 138.1,270.3 138.2,270.2 138.3,270.2 138.4,270.1 138.5,270.1 138.6,270.0 138.7,270.0 138.8,269.9 138.9,269.9 139.0,269.9 139.1,269.8 139.2,269.8 139.3,269.7 139.4,269.7 139.5,269.6 139.6,269.6 139.7,269.5 139.8,269.5 139.9,269.4 140.0,269.4 140.1,269.3 140.2,269.3 140.3,269.2 140.4,269.2 140.5,269.1 140.6,269.1 140.7,269.1 140.8,269.0 140.9,269.0 141.0,268.9 141.1,268.9 141.2,268.8 141.3,268.8 141.4,268.7 141.5,268.7 141.5,268.6 141.6,268.6 141.7,268.6 141.8,268.5 141.9,268.5 142.0,268.4 142.1,268.4 142.2,268.3 142.3,268.3 142.4,268.2 142.5,268.2 142.6,268.1 142.7,268.1 142.8,268.1 142.9,268.0 143.0,268.0 143.1,267.9 143.2,267.9 143.3,267.8 143.4,267.8 143.5,267.7 143.6,267.7 143.7,267.6 143.8,267.6 143.9,267.6 144.0,267.5 144.1,267.5 144.2,267.4 144.3,267.4 144.4,267.3 144.5,267.3 144.6,267.2 144.7,267.2 144.8,267.2 144.9,267.1 145.0,267.1 145.1,267.0 145.2,267.0 145.3,266.9 145.4,266.9 145.5,266.8 145.6,266.8 145.7,266.8 145.8,266.7 145.9,266.7 146.0,266.6 146.1,266.6 146.2,266.5 146.3,266.5 146.4,266.5 146.5,266.4 146.6,266.4 146.7,266.3 146.8,266.3 146.8,266.2 146.9,266.2 147.0,266.1 147.1,266.1 147.2,266.1 147.3,266.0 147.4,266.0 147.5,265.9 147.6,265.9 147.7,265.8 147.8,265.8 147.9,265.8 148.0,265.7 148.1,265.7 148.2,265.6 148.3,265.6 148.4,265.5 148.5,265.5 148.6,265.5 148.7,265.4 148.8,265.4 148.9,265.3 149.0,265.3 149.1,265.2 149.2,265.2 149.3,265.2 149.4,265.1 149.5,265.1 149.6,265.0 149.7,265.0 149.8,264.9 149.9,264.9 150.0,264.9 150.1,264.8 150.2,264.8 150.3,264.7 150.4,264.7 150.5,264.6 150.6,264.6 150.7,264.6 150.8,264.5 150.9,264.5 151.0,264.4 151.1,264.4 151.2,264.3 151.3,264.3 151.4,264.3 151.5,264.2 151.6,264.2 151.7,264.1 151.8,264.1 151.9,264.0 152.0,264.0 152.1,264.0 152.2,263.9 152.2,263.9 152.3,263.8 152.4,263.8 152.5,263.8 152.6,263.7 152.7,263.7 152.8,263.6 152.9,263.6 153.0,263.5 153.1,263.5 153.2,263.5 153.3,263.4 153.4,263.4 153.5,263.3 153.6,263.3 153.7,263.2 153.8,263.2 153.9,263.2 154.0,263.1 154.1,263.1 154.2,263.0 154.3,263.0 154.4,263.0 154.5,262.9 154.6,262.9 154.7,262.8 154.8,262.8 154.9,262.7 155.0,262.7 155.1,262.7 155.2,262.6 155.3,262.6 155.4,262.5 155.5,262.5 155.6,262.5 155.7,262.4 155.8,262.4 155.9,262.3 156.0,262.3 156.1,262.2 156.2,262.2 156.3,262.2 156.4,262.1 156.5,262.1 156.6,262.0 156.7,262.0 156.8,262.0 156.9,261.9 157.0,261.9 157.1,261.8 157.2,261.8 157.3,261.8 157.4,261.7 157.5,261.7 157.5,261.6 157.6,261.6 157.7,261.6 157.8,261.5 157.9,261.5 158.0,261.4 158.1,261.4 158.2,261.4 158.3,261.3 158.4,261.3 158.5,261.2 158.6,261.2 158.7,261.2 158.8,261.1 158.9,261.1 159.0,261.0 159.1,261.0 159.2,261.0 159.3,260.9 159.4,260.9 159.5,260.8 159.6,260.8 159.7,260.8 159.8,260.7 159.9,260.7 160.0,260.6 160.1,260.6 160.2,260.6 160.3,260.5 160.4,260.5 160.5,260.4 160.6,260.4 160.7,260.4 160.8,260.3 160.9,260.3 161.0,260.2 161.1,260.2 161.2,260.2 161.3,260.1 161.4,260.1 161.5,260.0 161.6,260.0 161.7,260.0 161.8,259.9 161.9,259.9 162.0,259.8 162.1,259.8 162.2,259.8 162.3,259.7 162.4,259.7 162.5,259.7 162.6,259.6 162.7,259.6 162.8,259.5 162.9,259.5 162.9,259.5 163.0,259.4 163.1,259.4 163.2,259.3 163.3,259.3 163.4,259.3 163.5,259.2 163.6,259.2 163.7,259.2 163.8,259.1 163.9,259.1 164.0,259.0 164.1,259.0 164.2,259.0 164.3,258.9 164.4,258.9 164.5,258.9 164.6,258.8 164.7,258.8 164.8,258.7 164.9,258.7 165.0,258.7 165.1,258.6 165.2,258.6 165.3,258.5 165.4,258.5 165.5,258.5 165.6,258.4 165.7,258.4 165.8,258.4 165.9,258.3 166.0,258.3 166.1,258.2 166.2,258.2 166.3,258.2 166.4,258.1 166.5,258.1 166.6,258.1 166.7,258.0 166.8,258.0 166.9,257.9 167.0,257.9 167.1,257.9 167.2,257.8 167.3,257.8 167.4,257.8 167.5,257.7 167.6,257.7 167.7,257.7 167.8,257.6 167.9,257.6 168.0,257.5 168.1,257.5 168.2,257.5 168.2,257.4 168.3,257.4 168.4,257.4 168.5,257.3 168.6,257.3 168.7,257.2 168.8,257.2 168.9,257.2 169.0,257.1 169.1,257.1 169.2,257.1 169.3,257.0 169.4,257.0 169.5,257.0 169.6,256.9 169.7,256.9 169.8,256.8 169.9,256.8 170.0,256.8 170.1,256.7 170.2,256.7 170.3,256.7 170.4,256.6 170.5,256.6 170.6,256.6 170.7,256.5 170.8,256.5 170.9,256.5 171.0,256.4 171.1,256.4 171.2,256.3 171.3,256.3 171.4,256.3 171.5,256.2 171.6,256.2 171.7,256.2 171.8,256.1 171.9,256.1 172.0,256.1 172.1,256.0 172.2,256.0 172.3,256.0 172.4,255.9 172.5,255.9 172.6,255.8 172.7,255.8 172.8,255.8 172.9,255.7 173.0,255.7 173.1,255.7 173.2,255.6 173.3,255.6 173.4,255.6 173.5,255.5 173.6,255.5 173.6,255.5 173.7,255.4 173.8,255.4 173.9,255.4 174.0,255.3 174.1,255.3 174.2,255.2 174.3,255.2 174.4,255.2 174.5,255.1 174.6,255.1 174.7,255.1 174.8,255.0 174.9,255.0 175.0,255.0 175.1,254.9 175.2,254.9 175.3,254.9 175.4,254.8 175.5,254.8 175.6,254.8 175.7,254.7 175.8,254.7 175.9,254.7 176.0,254.6 176.1,254.6 176.2,254.6 176.3,254.5 176.4,254.5 176.5,254.5 176.6,254.4 176.7,254.4 176.8,254.3 176.9,254.3 177.0,254.3 177.1,254.2 177.2,254.2 177.3,254.2 177.4,254.1 177.5,254.1 177.6,254.1 177.7,254.0 177.8,254.0 177.9,254.0 178.0,253.9 178.1,253.9 178.2,253.9 178.3,253.8 178.4,253.8 178.5,253.8 178.6,253.7 178.7,253.7 178.8,253.7 178.9,253.6 178.9,253.6 179.0,253.6 179.1,253.5 179.2,253.5 179.3,253.5 179.4,253.4 179.5,253.4 179.6,253.4 179.7,253.3 179.8,253.3 179.9,253.3 180.0,253.2 180.1,253.2 180.2,253.2 180.3,253.1 180.4,253.1 180.5,253.1 180.6,253.0 180.7,253.0 180.8,253.0 180.9,252.9 181.0,252.9 181.1,252.9 181.2,252.8 181.3,252.8 181.4,252.8 181.5,252.7 181.6,252.7 181.7,252.7 181.8,252.6 181.9,252.6 182.0,252.6 182.1,252.5 182.2,252.5 182.3,252.5 182.4,252.4 182.5,252.4 182.6,252.4 182.7,252.3 182.8,252.3 182.9,252.3 183.0,252.2 183.1,252.2 183.2,252.2 183.3,252.1 183.4,252.1 183.5,252.1 183.6,252.0 183.7,252.0 183.8,252.0 183.9,251.9 184.0,251.9 184.1,251.9 184.2,251.8 184.3,251.8 184.3,251.8 184.4,251.7 184.5,251.7 184.6,251.7 184.7,251.7 184.8,251.6 184.9,251.6 185.0,251.6 185.1,251.5 185.2,251.5 185.3,251.5 185.4,251.4 185.5,251.4 185.6,251.4 185.7,251.3 185.8,251.3 185.9,251.3 186.0,251.2 186.1,251.2 186.2,251.2 186.3,251.1 186.4,251.1 186.5,251.1 186.6,251.0 186.7,251.0 186.8,251.0 186.9,250.9 187.0,250.9 187.1,250.9 187.2,250.9 187.3,250.8 187.4,250.8 187.5,250.8 187.6,250.7 187.7,250.7 187.8,250.7 187.9,250.6 188.0,250.6 188.1,250.6 188.2,250.5 188.3,250.5 188.4,250.5 188.5,250.4 188.6,250.4 188.7,250.4 188.8,250.3 188.9,250.3 189.0,250.3 189.1,250.3 189.2,250.2 189.3,250.2 189.4,250.2 189.5,250.1 189.6,250.1 189.7,250.1 189.7,250.0 189.8,250.0 189.9,250.0 190.0,249.9 190.1,249.9 190.2,249.9 190.3,249.8 190.4,249.8 190.5,249.8 190.6,249.8 190.7,249.7 190.8,249.7 190.9,249.7 191.0,249.6 191.1,249.6 191.2,249.6 191.3,249.5 191.4,249.5 191.5,249.5 191.6,249.4 191.7,249.4 191.8,249.4 191.9,249.4 192.0,249.3 192.1,249.3 192.2,249.3 192.3,249.2 192.4,249.2 192.5,249.2 192.6,249.1 192.7,249.1 192.8,249.1 192.9,249.0 193.0,249.0 193.1,249.0 193.2,249.0 193.3,248.9 193.4,248.9 193.5,248.9 193.6,248.8 193.7,248.8 193.8,248.8 193.9,248.7 194.0,248.7 194.1,248.7 194.2,248.7 194.3,248.6 194.4,248.6 194.5,248.6 194.6,248.5 194.7,248.5 194.8,248.5 194.9,248.4 195.0,248.4 195.0,248.4 195.1,248.3 195.2,248.3 195.3,248.3 195.4,248.3 195.5,248.2 195.6,248.2 195.7,248.2 195.8,248.1 195.9,248.1 196.0,248.1 196.1,248.1 196.2,248.0 196.3,248.0 196.4,248.0 196.5,247.9 196.6,247.9 196.7,247.9 196.8,247.8 196.9,247.8 197.0,247.8 197.1,247.8 197.2,247.7 197.3,247.7 197.4,247.7 197.5,247.6 197.6,247.6 197.7,247.6 197.8,247.6 197.9,247.5 198.0,247.5 198.1,247.5 198.2,247.4 198.3,247.4 198.4,247.4 198.5,247.3 198.6,247.3 198.7,247.3 198.8,247.3 198.9,247.2 199.0,247.2 199.1,247.2 199.2,247.1 199.3,247.1 199.4,247.1 199.5,247.1 199.6,247.0 199.7,247.0 199.8,247.0 199.9,246.9 200.0,246.9 200.1,246.9 200.2,246.9 200.3,246.8 200.4,246.8 200.4,246.8 200.5,246.7 200.6,246.7 200.7,246.7 200.8,246.7 200.9,246.6 201.0,246.6 201.1,246.6 201.2,246.5 201.3,246.5 201.4,246.5 201.5,246.5 201.6,246.4 201.7,246.4 201.8,246.4 201.9,246.3 202.0,246.3 202.1,246.3 202.2,246.3 202.3,246.2 202.4,246.2 202.5,246.2 202.6,246.1 202.7,246.1 202.8,246.1 202.9,246.1 203.0,246.0 203.1,246.0 203.2,246.0 203.3,245.9 203.4,245.9 203.5,245.9 203.6,245.9 203.7,245.8 203.8,245.8 203.9,245.8 204.0,245.8 204.1,245.7 204.2,245.7 204.3,245.7 204.4,245.6 204.5,245.6 204.6,245.6 204.7,245.6 204.8,245.5 204.9,245.5 205.0,245.5 205.1,245.5 205.2,245.4 205.3,245.4 205.4,245.4 205.5,245.3 205.6,245.3 205.7,245.3 205.7,245.3 205.8,245.2 205.9,245.2 206.0,245.2 206.1,245.2 206.2,245.1 206.3,245.1 206.4,245.1 206.5,245.0 206.6,245.0 206.7,245.0 206.8,245.0 206.9,244.9 207.0,244.9 207.1,244.9 207.2,244.9 207.3,244.8 207.4,244.8 207.5,244.8 207.6,244.7 207.7,244.7 207.8,244.7 207.9,244.7 208.0,244.6 208.1,244.6 208.2,244.6 208.3,244.6 208.4,244.5 208.5,244.5 208.6,244.5 208.7,244.5 208.8,244.4 208.9,244.4 209.0,244.4 209.1,244.3 209.2,244.3 209.3,244.3 209.4,244.3 209.5,244.2 209.6,244.2 209.7,244.2 209.8,244.2 209.9,244.1 210.0,244.1 210.1,244.1 210.2,244.1 210.3,244.0 210.4,244.0 210.5,244.0 210.6,244.0 210.7,243.9 210.8,243.9 210.9,243.9 211.0,243.8 211.1,243.8 211.1,243.8 211.2,243.8 211.3,243.7 211.4,243.7 211.5,243.7 211.6,243.7 211.7,243.6 211.8,243.6 211.9,243.6 212.0,243.6 212.1,243.5 212.2,243.5 212.3,243.5 212.4,243.5 212.5,243.4 212.6,243.4 212.7,243.4 212.8,243.4 212.9,243.3 213.0,243.3 213.1,243.3 213.2,243.3 213.3,243.2 213.4,243.2 213.5,243.2 213.6,243.2 213.7,243.1 213.8,243.1 213.9,243.1 214.0,243.0 214.1,243.0 214.2,243.0 214.3,243.0 214.4,242.9 214.5,242.9 214.6,242.9 214.7,242.9 214.8,242.8 214.9,242.8 215.0,242.8 215.1,242.8 215.2,242.7 215.3,242.7 215.4,242.7 215.5,242.7 215.6,242.6 215.7,242.6 215.8,242.6 215.9,242.6 216.0,242.5 216.1,242.5 216.2,242.5 216.3,242.5 216.4,242.4 216.4,242.4 216.5,242.4 216.6,242.4 216.7,242.3 216.8,242.3 216.9,242.3 217.0,242.3 217.1,242.2 217.2,242.2 217.3,242.2 217.4,242.2 217.5,242.1 217.6,242.1 217.7,242.1 217.8,242.1 217.9,242.0 218.0,242.0 218.1,242.0 218.2,242.0 218.3,241.9 218.4,241.9 218.5,241.9 218.6,241.9 218.7,241.8 218.8,241.8 218.9,241.8 219.0,241.8 219.1,241.7 219.2,241.7 219.3,241.7 219.4,241.7 219.5,241.6 219.6,241.6 219.7,241.6 219.8,241.6 219.9,241.5 220.0,241.5 220.1,241.5 220.2,241.5 220.3,241.4 220.4,241.4 220.5,241.4 220.6,241.4 220.7,241.4 220.8,241.3 220.9,241.3 221.0,241.3 221.1,241.3 221.2,241.2 221.3,241.2 221.4,241.2 221.5,241.2 221.6,241.1 221.7,241.1 221.8,241.1 221.8,241.1 221.9,241.0 222.0,241.0 222.1,241.0 222.2,241.0 222.3,240.9 222.4,240.9 222.5,240.9 222.6,240.9 222.7,240.8 222.8,240.8 222.9,240.8 223.0,240.8 223.1,240.7 223.2,240.7 223.3,240.7 223.4,240.7 223.5,240.7 223.6,240.6 223.7,240.6 223.8,240.6 223.9,240.6 224.0,240.5 224.1,240.5 224.2,240.5 224.3,240.5 224.4,240.4 224.5,240.4 224.6,240.4 224.7,240.4 224.8,240.3 224.9,240.3 225.0,240.3 225.1,240.3 225.2,240.3 225.3,240.2 225.4,240.2 225.5,240.2 225.6,240.2 225.7,240.1 225.8,240.1 225.9,240.1 226.0,240.1 226.1,240.0 226.2,240.0 226.3,240.0 226.4,240.0 226.5,239.9 226.6,239.9 226.7,239.9 226.8,239.9 226.9,239.9 227.0,239.8 227.1,239.8 227.1,239.8 227.2,239.8 227.3,239.7 227.4,239.7 227.5,239.7 227.6,239.7 227.7,239.6 227.8,239.6 227.9,239.6 228.0,239.6 228.1,239.6 228.2,239.5 228.3,239.5 228.4,239.5 228.5,239.5 228.6,239.4 228.7,239.4 228.8,239.4 228.9,239.4 229.0,239.4 229.1,239.3 229.2,239.3 229.3,239.3 229.4,239.3 229.5,239.2 229.6,239.2 229.7,239.2 229.8,239.2 229.9,239.1 230.0,239.1 230.1,239.1 230.2,239.1 230.3,239.1 230.4,239.0 230.5,239.0 230.6,239.0 230.7,239.0 230.8,238.9 230.9,238.9 231.0,238.9 231.1,238.9 231.2,238.9 231.3,238.8 231.4,238.8 231.5,238.8 231.6,238.8 231.7,238.7 231.8,238.7 231.9,238.7 232.0,238.7 232.1,238.7 232.2,238.6 232.3,238.6 232.4,238.6 232.5,238.6 232.5,238.5 232.6,238.5 232.7,238.5 232.8,238.5 232.9,238.5 233.0,238.4 233.1,238.4 233.2,238.4 233.3,238.4 233.4,238.4 233.5,238.3 233.6,238.3 233.7,238.3 233.8,238.3 233.9,238.2 234.0,238.2 234.1,238.2 234.2,238.2 234.3,238.2 234.4,238.1 234.5,238.1 234.6,238.1 234.7,238.1 234.8,238.1 234.9,238.0 235.0,238.0 235.1,238.0 235.2,238.0 235.3,237.9 235.4,237.9 235.5,237.9 235.6,237.9 235.7,237.9 235.8,237.8 235.9,237.8 236.0,237.8 236.1,237.8 236.2,237.8 236.3,237.7 236.4,237.7 236.5,237.7 236.6,237.7 236.7,237.6 236.8,237.6 236.9,237.6 237.0,237.6 237.1,237.6 237.2,237.5 237.3,237.5 237.4,237.5 237.5,237.5 237.6,237.5 237.7,237.4 237.8,237.4 237.8,237.4 237.9,237.4 238.0,237.4 238.1,237.3 238.2,237.3 238.3,237.3 238.4,237.3 238.5,237.3 238.6,237.2 238.7,237.2 238.8,237.2 238.9,237.2 239.0,237.2 239.1,237.1 239.2,237.1 239.3,237.1 239.4,237.1 239.5,237.1 239.6,237.0 239.7,237.0 239.8,237.0 239.9,237.0 240.0,236.9 240.1,236.9 240.2,236.9 240.3,236.9 240.4,236.9 240.5,236.8" fill="none" stroke="#008000" stroke-width="1.35" stroke-linejoin="round" />
</g>
<rect x="99.2" y="233.4" width="141.30" height="82.10" fill="none" stroke="#444" stroke-width="0.9"/>
<line x1="122.75" y1="315.5" x2="122.75" y2="313.5" stroke="#444" stroke-width="0.7"/>
<line x1="122.75" y1="233.4" x2="122.75" y2="235.4" stroke="#444" stroke-width="0.7"/>
<text x="122.75" y="322.90" font-size="7.1" text-anchor="middle">10.0</text>
<line x1="152.19" y1="315.5" x2="152.19" y2="313.5" stroke="#444" stroke-width="0.7"/>
<line x1="152.19" y1="233.4" x2="152.19" y2="235.4" stroke="#444" stroke-width="0.7"/>
<text x="152.19" y="322.90" font-size="7.1" text-anchor="middle">12.5</text>
<line x1="181.62" y1="315.5" x2="181.62" y2="313.5" stroke="#444" stroke-width="0.7"/>
<line x1="181.62" y1="233.4" x2="181.62" y2="235.4" stroke="#444" stroke-width="0.7"/>
<text x="181.62" y="322.90" font-size="7.1" text-anchor="middle">15.0</text>
<line x1="211.06" y1="315.5" x2="211.06" y2="313.5" stroke="#444" stroke-width="0.7"/>
<line x1="211.06" y1="233.4" x2="211.06" y2="235.4" stroke="#444" stroke-width="0.7"/>
<text x="211.06" y="322.90" font-size="7.1" text-anchor="middle">17.5</text>
<line x1="240.50" y1="315.5" x2="240.50" y2="313.5" stroke="#444" stroke-width="0.7"/>
<line x1="240.50" y1="233.4" x2="240.50" y2="235.4" stroke="#444" stroke-width="0.7"/>
<text x="240.50" y="322.90" font-size="7.1" text-anchor="middle">20.0</text>
<line x1="99.2" y1="303.19" x2="101.2" y2="303.19" stroke="#444" stroke-width="0.7"/>
<line x1="240.5" y1="303.19" x2="238.5" y2="303.19" stroke="#444" stroke-width="0.7"/>
<text x="98.00" y="305.53" font-size="7.1" text-anchor="end">2.050</text>
<line x1="99.2" y1="285.26" x2="101.2" y2="285.26" stroke="#444" stroke-width="0.7"/>
<line x1="240.5" y1="285.26" x2="238.5" y2="285.26" stroke="#444" stroke-width="0.7"/>
<text x="98.00" y="287.60" font-size="7.1" text-anchor="end">2.075</text>
<line x1="99.2" y1="267.33" x2="101.2" y2="267.33" stroke="#444" stroke-width="0.7"/>
<line x1="240.5" y1="267.33" x2="238.5" y2="267.33" stroke="#444" stroke-width="0.7"/>
<text x="98.00" y="269.67" font-size="7.1" text-anchor="end">2.100</text>
<line x1="99.2" y1="249.40" x2="101.2" y2="249.40" stroke="#444" stroke-width="0.7"/>
<line x1="240.5" y1="249.40" x2="238.5" y2="249.40" stroke="#444" stroke-width="0.7"/>
<text x="98.00" y="251.74" font-size="7.1" text-anchor="end">2.125</text>
<rect x="186.4" y="283.6" width="51.10" height="29.40" fill="#fff" stroke="#444" stroke-width="0.8"/>
<text x="212.4" y="291.5" class="lg" font-size="7" text-anchor="middle"><tspan font-style="italic">T</tspan> = 16.00</text>
<line x1="189.3" y1="298.3" x2="202.8" y2="298.3" stroke="#111" stroke-width="1.5"/>
<line x1="189.3" y1="307.4" x2="202.8" y2="307.4" stroke="#008000" stroke-width="1.4"/>
<text x="206.8" y="300.6" class="lg" font-size="7">Exp. data</text>
<text x="206.8" y="309.7" class="lg" font-size="7">Sim. data</text>
<text x="135.9" y="347.1" font-size="9" text-anchor="middle"><tspan font-style="italic">t</tspan> − <tspan font-style="italic">t</tspan><tspan font-size="6.3" dy="1.4">0</tspan><tspan dy="-1.4"> (</tspan><tspan font-style="italic">μs</tspan>)</text>
<text transform="translate(6.8,259.8) rotate(-90)" font-size="8" text-anchor="middle"><tspan font-style="italic">u</tspan> (mm/<tspan font-style="italic">μs</tspan>)</text>
<clipPath id="cBR"><rect x="287.5" y="188.2" width="225.70" height="144.50"/></clipPath>
<g clip-path="url(#cBR)">
<polyline points="287.5,361.6 287.8,361.6 288.2,361.6 288.5,361.6 288.9,361.6 289.2,361.6 289.5,361.6 289.9,361.6 290.2,361.6 290.5,361.6 290.7,360.5 290.8,317.7 290.8,273.9 290.9,231.2 290.9,267.3 291.0,303.8 291.1,340.0 291.1,361.6 291.5,361.6 291.8,361.6 292.1,361.6 292.5,361.6 292.8,361.6 293.1,361.6 293.5,361.6 293.8,361.6 294.2,361.6 294.5,361.6 294.8,361.6 295.2,361.6 295.5,361.6 295.9,361.6 296.2,361.6 296.4,355.1 296.4,347.1 296.5,339.9 296.5,331.7 296.6,323.0 296.6,314.6 296.7,306.3 296.8,298.2 296.8,290.4 296.9,282.6 296.9,274.2 297.0,265.6 297.0,257.1 297.1,249.0 297.2,250.7 297.3,252.1 297.3,253.4 297.4,254.9 297.4,256.3 297.5,257.6 297.5,258.7 297.7,260.6 297.7,262.1 297.8,263.6 297.9,266.0 297.9,267.4 298.0,268.4 298.1,269.5 298.1,270.5 298.2,272.1 298.2,273.7 298.3,274.7 298.4,276.3 298.4,278.1 298.5,279.4 298.6,281.0 298.7,282.5 298.7,283.5 298.8,284.7 298.8,286.4 299.0,287.6 299.0,288.9 299.1,290.2 299.1,291.3 299.2,292.7 299.2,294.1 299.3,295.3 299.4,296.5 299.5,294.3 299.6,292.8 299.6,290.8 299.7,288.8 299.8,287.7 299.9,286.7 300.0,284.7 300.1,283.5 300.1,282.1 300.2,280.9 300.3,279.4 300.4,278.4 300.4,276.6 300.5,274.3 300.7,275.7 300.7,277.0 300.8,278.0 301.1,280.3 301.3,281.3 301.6,282.5 301.7,283.7 301.9,285.2 302.0,286.4 302.2,287.9 302.3,289.1 302.5,288.0 302.6,286.6 302.7,284.8 302.9,283.1 303.0,281.4 303.0,280.4 303.1,279.0 303.2,277.4 303.3,276.3 303.4,275.0 303.6,273.3 303.6,271.6 303.8,270.0 303.9,268.5 304.0,267.3 304.1,265.2 304.3,263.6 304.4,262.4 304.5,261.1 304.5,259.0 304.6,257.5 304.8,256.4 304.9,255.4 305.0,253.7 305.1,252.4 305.2,251.3 305.2,249.9 305.3,248.5 305.5,246.5 305.8,248.0 305.9,250.3 306.2,251.1 306.4,253.0 306.6,254.9 306.7,256.6 306.8,257.7 306.9,259.2 307.0,260.2 307.3,261.6 307.4,263.0 307.4,264.4 307.6,263.4 307.7,264.9 307.8,267.1 308.0,268.7 308.1,269.8 308.2,270.8 308.6,270.2 308.7,269.2 308.8,267.3 309.0,266.2 309.2,265.1 309.3,264.0 309.5,262.3 309.7,260.6 309.8,258.6 309.9,257.6 310.2,256.0 310.4,254.9 310.5,253.3 310.6,251.2 310.8,250.1 311.0,248.2 311.3,246.7 311.5,244.9 311.7,242.6 311.8,241.3 312.1,239.5 312.4,239.3 312.7,237.9 313.0,238.0 313.1,236.7 313.3,238.0 313.5,236.4 313.7,238.1 313.9,236.4 314.2,235.9 314.4,237.2 314.8,237.5 315.0,236.3 315.3,235.0 315.7,234.8 316.0,234.2 316.3,233.6 316.7,232.8 317.0,231.1 317.1,232.3 317.3,231.1 317.4,230.0 317.8,228.9 318.1,228.0 318.3,226.2 318.6,225.4 318.9,224.3 319.3,224.2 319.6,223.4 319.7,221.8 320.1,222.1 320.2,220.8 320.6,220.6 320.9,222.2 321.0,220.8 321.3,220.7 321.6,222.0 321.6,220.9 322.0,221.5 322.3,223.6 322.7,223.2 322.8,222.1 323.1,222.1 323.3,221.1 323.6,221.1 323.7,219.7 324.0,221.1 324.2,219.4 324.2,218.2 324.4,219.6 324.5,221.0 324.6,219.1 324.9,218.7 325.0,219.9 325.3,219.9 325.5,220.9 325.9,220.2 326.1,218.8 326.2,220.1 326.4,219.0 326.7,217.9 326.9,216.9 327.2,217.7 327.6,218.2 327.9,217.2 328.1,218.3 328.5,217.5 328.8,219.1 328.9,217.8 329.0,219.6 329.3,219.4 329.7,218.7 330.0,218.6 330.3,218.5 330.7,218.9 330.8,217.5 331.1,215.7 331.1,214.5 331.2,213.4 331.4,211.5 331.5,210.4 331.6,211.5 331.8,214.0 331.9,215.5 332.0,218.8 332.1,220.3 332.2,218.7 332.5,219.6 332.7,217.4 332.9,218.7 333.2,218.4 333.6,217.6 333.7,218.8 333.8,216.7 334.2,217.7 334.5,216.7 334.9,216.1 335.2,216.6 335.4,217.7 335.6,218.7 336.0,217.9 336.1,216.8 336.3,217.9 336.6,218.2 336.9,217.9 337.2,219.0 337.5,218.7 337.8,220.4 338.0,219.0 338.2,217.9 338.5,219.4 338.9,219.1 339.2,219.5 339.4,220.5 339.5,219.1 339.7,220.6 339.8,219.4 340.0,218.0 340.2,219.1 340.5,218.6 340.8,219.3 341.1,218.1 341.5,218.1 341.8,218.2 342.0,219.2 342.2,218.1 342.5,219.3 342.9,220.4 343.0,218.7 343.1,220.5 343.3,219.4 343.7,219.2 343.8,218.1 343.9,219.4 344.3,218.9 344.4,220.9 344.5,218.5 344.7,220.4 345.0,218.6 345.3,220.0 345.4,218.8 345.7,217.8 345.9,218.9 345.9,219.9 346.1,218.2 346.2,219.2 346.5,218.0 346.9,219.5 347.0,217.8 347.3,218.9 347.4,217.9 347.8,216.9 348.1,218.5 348.3,217.4 348.3,218.5 348.5,217.1 348.7,218.1 348.8,219.1 349.2,217.5 349.4,219.3 349.7,218.2 349.8,219.7 350.1,218.6 350.3,219.8 350.4,218.3 350.6,219.4 350.7,218.3 350.9,219.5 351.0,218.3 351.1,219.4 351.2,220.9 351.2,219.8 351.3,218.0 351.4,216.7 351.6,217.7 352.0,217.9 352.3,218.6 352.4,220.0 352.7,221.8 352.8,223.0 352.9,224.4 353.0,226.0 353.1,224.5 353.2,222.1 353.3,221.0 353.4,219.8 353.6,217.5 353.6,216.4 353.8,214.4 353.8,213.3 353.9,211.8 354.0,210.7 354.1,209.6 354.3,213.0 354.3,215.9 354.4,217.5 354.5,216.3 354.6,217.7 354.7,219.0 355.1,219.5 355.4,218.8 355.5,217.6 355.6,219.6 355.7,220.6 355.8,219.2 356.2,218.2 356.5,218.1 356.6,219.4 356.9,218.3 357.0,219.7 357.1,217.9 357.1,216.0 357.3,218.0 357.6,217.7 357.7,218.8 357.9,217.6 358.2,217.3 358.3,215.9 358.4,217.1 358.7,217.8 359.0,218.8 359.3,217.4 359.6,218.5 359.9,217.0 360.0,218.5 360.1,217.4 360.3,219.0 360.6,218.4 360.8,220.1 361.0,218.0 361.0,219.1 361.2,218.1 361.5,219.3 361.6,217.7 361.8,219.0 361.9,220.3 362.0,219.2 362.2,217.9 362.3,219.3 362.5,218.1 362.8,219.1 363.1,218.1 363.3,216.6 363.5,218.8 363.5,219.9 363.6,218.0 363.6,216.2 363.7,217.5 363.9,218.8 364.0,217.6 364.4,216.8 364.7,218.1 365.0,217.1 365.2,215.8 365.3,216.9 365.4,218.0 365.6,219.2 366.0,218.5 366.2,217.4 366.3,218.6 366.7,219.0 366.8,217.5 366.9,218.6 367.2,218.0 367.4,219.6 367.6,217.4 367.9,218.5 368.1,216.4 368.4,217.8 368.5,216.4 368.6,217.7 368.7,219.0 368.7,217.9 369.0,216.8 369.3,216.9 369.7,217.9 369.8,216.2 370.0,217.4 370.1,215.9 370.3,217.3 370.6,217.0 370.7,215.2 370.9,217.9 371.1,216.8 371.4,216.8 371.5,218.0 371.5,219.1 371.8,217.5 372.1,217.9 372.4,217.1 372.7,218.2 373.1,217.0 373.4,216.8 373.5,215.4 373.6,216.4 373.7,218.1 373.9,217.0 374.2,218.4 374.5,217.7 374.9,216.4 375.2,215.5 375.4,216.9 375.8,216.8 376.1,217.0 376.4,217.2 376.6,215.6 376.7,216.6 377.0,216.6 377.2,218.1 377.4,215.9 377.5,218.1 377.7,216.2 377.9,217.6 378.2,217.7 378.3,216.6 378.6,216.1 379.0,216.9 379.0,218.3 379.2,216.4 379.5,216.7 379.8,217.2 380.2,216.7 380.3,215.2 380.4,216.3 380.5,217.5 380.6,215.5 381.0,216.8 381.3,216.4 381.6,217.2 381.7,218.3 381.8,216.2 381.9,217.5 382.3,217.2 382.5,216.2 382.8,217.8 383.1,216.6 383.2,218.2 383.3,216.3 383.4,217.6 383.6,215.8 383.7,217.1 383.8,215.7 384.1,216.8 384.2,217.9 384.5,217.2 384.7,215.2 384.9,216.5 385.2,216.6 385.5,216.2 385.9,216.4 386.2,216.7 386.3,215.3 386.5,216.4 386.8,217.7 386.9,215.2 387.2,216.7 387.3,214.6 387.6,216.5 387.9,215.3 388.2,215.7 388.5,214.4 388.6,216.3 388.7,214.9 388.8,216.4 389.1,215.5 389.2,216.7 389.5,215.6 389.7,217.6 389.7,218.7 389.8,217.6 389.9,215.5 390.3,216.2 390.5,215.0 390.8,216.1 391.2,215.9 391.5,216.0 391.9,215.2 392.2,214.5 392.5,214.0 392.6,215.0 392.8,213.9 393.1,214.7 393.4,214.5 393.7,212.8 393.8,211.5 393.8,209.8 394.1,208.0 394.2,210.0 394.4,211.3 394.6,213.1 394.7,214.3 394.9,215.4 395.2,216.6 395.4,214.3 395.6,215.7 395.8,217.5 395.9,215.9 395.9,217.1 396.1,215.4 396.1,213.8 396.3,216.6 396.4,215.6 396.8,215.0 397.0,213.7 397.1,215.2 397.2,214.1 397.6,214.5 397.8,213.1 397.9,214.2 398.1,212.1 398.2,213.9 398.6,214.7 398.8,213.6 398.9,215.2 399.0,214.1 399.2,215.9 399.4,214.2 399.7,215.0 400.0,215.4 400.2,213.7 400.4,214.9 400.7,216.1 400.8,214.7 400.9,216.7 401.1,215.1 401.4,214.3 401.7,215.1 402.0,214.1 402.2,216.2 402.4,215.2 402.5,213.9 402.8,214.6 403.1,214.1 403.5,213.7 403.7,214.8 404.0,213.4 404.2,214.8 404.3,213.6 404.6,214.1 404.9,214.3 405.1,215.5 405.2,213.5 405.4,214.7 405.7,215.3 405.9,214.1 406.0,215.2 406.1,214.0 406.5,215.3 406.8,214.1 407.1,212.9 407.3,214.4 407.5,213.2 407.8,214.2 408.1,214.0 408.3,215.1 408.4,213.6 408.6,212.4 408.7,213.8 409.0,212.7 409.4,212.3 409.7,213.0 410.0,212.3 410.3,213.3 410.5,211.7 410.6,213.0 410.8,211.8 410.9,214.1 411.0,215.2 411.1,213.7 411.4,214.0 411.8,214.4 412.1,213.9 412.5,213.4 412.7,214.6 412.9,216.3 413.0,213.7 413.4,212.6 413.7,213.6 414.0,212.5 414.3,214.0 414.3,215.0 414.4,213.4 414.6,212.2 414.7,211.1 414.8,212.7 415.2,213.0 415.3,210.9 415.4,209.8 415.5,211.6 415.8,212.6 416.1,212.9 416.4,211.9 416.5,212.9 416.5,214.2 416.7,212.9 416.9,214.2 417.1,212.0 417.3,213.6 417.4,211.2 417.5,212.8 417.6,214.0 417.8,212.9 417.9,214.4 418.2,213.6 418.3,212.2 418.4,213.6 418.7,212.9 419.0,213.9 419.1,212.8 419.3,211.7 419.5,214.2 419.7,213.0 419.9,214.1 420.1,212.6 420.1,211.5 420.2,212.7 420.4,211.1 420.5,212.6 420.5,214.2 420.6,212.7 420.8,211.0 420.9,212.4 421.0,213.6 421.1,212.5 421.5,211.5 421.7,212.6 422.0,212.5 422.3,210.9 422.4,212.7 422.5,211.0 422.6,212.3 423.0,212.2 423.3,213.0 423.6,214.3 423.7,212.2 424.1,213.4 424.4,213.2 424.6,212.0 425.0,213.0 425.2,211.4 425.5,212.6 425.7,214.7 425.8,212.1 425.9,213.2 426.1,211.3 426.4,211.6 426.6,212.7 426.8,211.4 427.0,209.8 427.1,211.0 427.2,212.3 427.4,211.2 427.7,211.7 427.8,213.1 427.9,214.7 428.0,212.8 428.1,211.8 428.2,210.6 428.3,211.7 428.4,212.8 428.5,211.2 428.7,212.6 428.9,211.6 429.0,210.5 429.1,213.2 429.2,211.9 429.6,211.7 429.7,213.7 429.8,212.7 429.8,210.7 430.0,211.8 430.3,210.3 430.4,211.6 430.6,208.8 430.7,211.2 431.0,212.6 431.2,210.8 431.3,208.7 431.4,206.5 431.5,208.0 431.5,209.9 431.7,210.9 431.8,212.2 431.9,210.8 431.9,207.9 432.0,206.1 432.0,207.8 432.1,210.0 432.2,212.0 432.3,211.0 432.4,209.8 432.7,210.7 432.8,209.3 432.9,211.0 433.1,208.6 433.1,206.8 433.2,209.4 433.2,212.5 433.6,213.1 433.7,212.1 433.7,211.0 433.8,209.6 433.9,211.5 434.2,207.9 434.5,210.6 434.8,212.3 434.9,211.1 435.3,211.2 435.4,209.9 435.5,211.0 435.6,210.0 435.7,209.0 436.0,210.8 436.1,208.9 436.3,207.8 436.4,210.6 436.5,208.8 436.6,206.3 436.7,208.1 437.0,211.1 437.1,213.4 437.1,212.2 437.2,209.4 437.3,212.3 437.5,210.8 437.5,205.7 437.6,203.6 437.6,207.3 437.9,209.1 438.0,207.8 438.1,209.4 438.3,207.2 438.5,209.5 438.8,206.8 438.9,207.8 439.1,206.7 439.2,209.0 439.3,210.3 439.4,207.9 439.5,206.2 439.7,208.3 439.7,209.4 440.1,207.7 440.3,208.9 440.5,207.4 440.6,205.3 440.6,207.5 440.7,204.6 440.8,202.2 440.8,203.6 440.9,206.3 441.0,208.8 441.1,206.0 441.1,207.5 441.2,209.5 441.5,209.2 441.7,208.1 441.9,209.5 442.1,208.4 442.3,207.1 442.4,205.9 442.5,207.1 442.6,204.0 442.7,200.9 442.8,203.1 442.8,205.5 442.9,206.8 442.9,205.1 443.0,203.4 443.1,204.7 443.2,208.2 443.2,210.1 443.3,208.4 443.5,206.9 443.6,208.1 443.7,206.7 444.0,208.1 444.1,209.8 444.2,211.0 444.3,209.5 444.3,208.0 444.5,209.0 444.6,207.4 444.6,204.8 444.7,202.8 444.7,204.0 444.8,206.5 444.9,204.7 445.0,207.7 445.0,209.7 445.4,209.1 445.7,211.1 445.9,209.6 446.0,211.0 446.2,209.6 446.3,211.4 446.4,212.8 446.4,210.9 446.5,208.4 446.5,206.5 446.7,209.1 447.0,204.4 447.1,198.7 447.1,197.2 447.2,199.7 447.2,203.4 447.3,206.0 447.3,203.9 447.4,205.9 447.5,207.0 447.6,205.4 447.6,206.8 447.7,209.5 447.7,206.9 447.8,201.3 447.8,200.2 447.9,201.6 448.0,200.4 448.0,199.1 448.1,202.4 448.1,206.3 448.2,207.9 448.4,209.0 448.6,206.8 448.9,208.5 448.9,210.1 449.0,212.5 449.1,211.2 449.1,206.7 449.3,207.9 449.4,206.6 449.8,207.9 449.9,209.2 450.1,207.6 450.2,209.6 450.4,207.7 450.4,206.4 450.6,209.1 450.7,206.5 450.9,208.6 450.9,207.5 451.0,206.5 451.3,207.5 451.5,209.0 451.5,207.8 451.9,209.5 451.9,210.9 452.0,209.5 452.0,208.1 452.1,209.7 452.2,206.0 452.2,205.0 452.3,206.0 452.4,207.5 452.6,209.0 452.6,210.6 452.8,207.6 453.1,209.5 453.3,207.3 453.6,207.6 453.9,208.0 454.3,206.6 454.3,204.7 454.4,205.8 454.4,207.6 454.6,206.5 454.6,205.5 454.8,209.4 454.9,211.6 455.0,209.5 455.2,207.8 455.2,209.4 455.3,208.1 455.5,205.9 455.6,202.0 455.6,200.7 455.7,202.2 455.7,204.2 455.8,207.1 455.9,208.2 456.1,207.1 456.3,208.5 456.4,207.5 456.5,206.0 456.6,204.5 456.6,203.2 456.7,204.4 456.8,206.7 457.0,208.5 457.1,206.3 457.2,208.4 457.4,209.9 457.4,208.7 457.6,206.7 457.6,204.6 457.7,206.7 457.8,209.0 457.9,207.9 458.2,205.7 458.2,207.5 458.3,208.7 458.5,210.5 458.6,209.2 458.7,210.3 458.8,209.1 459.0,210.3 459.1,207.9 459.2,209.8 459.3,207.6 459.4,208.9 459.5,207.8 459.7,208.8 459.9,207.2 459.9,208.7 460.0,210.1 460.1,206.9 460.3,208.5 460.6,207.5 460.7,209.2 460.9,206.2 461.1,207.5 461.2,209.2 461.4,207.9 461.6,209.6 461.7,208.3 462.0,205.8 462.1,208.4 462.1,209.8 462.2,207.7 462.3,205.8 462.4,207.2 462.5,208.6 462.8,207.0 463.1,209.7 463.1,207.5 463.2,202.4 463.3,201.1 463.3,205.1 463.4,208.3 463.4,210.3 463.5,208.6 463.5,207.2 463.8,208.3 463.8,206.3 463.9,204.9 464.1,207.0 464.2,204.9 464.3,201.2 464.3,202.2 464.4,205.1 464.4,207.4 464.5,205.6 464.5,204.5 464.7,206.1 464.8,207.1 465.0,208.2 465.2,207.2 465.5,207.0 465.6,205.9 465.7,208.6 465.8,207.1 465.9,205.6 466.0,207.4 466.0,208.5 466.1,207.4 466.1,209.0 466.2,210.6 466.2,208.1 466.3,205.7 466.4,203.3 466.5,200.2 466.5,197.4 466.6,199.7 466.6,205.1 466.7,209.6 466.8,206.7 466.8,202.9 466.9,201.4 466.9,203.7 467.0,205.9 467.0,208.2 467.4,207.3 467.5,208.7 467.6,209.7 467.7,211.1 467.8,209.8 467.8,206.5 467.9,205.3 468.0,206.9 468.4,208.0 468.6,206.9 468.8,204.5 469.0,207.1 469.1,209.8 469.2,205.5 469.3,207.7 469.4,209.8 469.5,208.5 469.7,206.0 469.8,207.8 469.9,210.2 470.0,207.5 470.3,208.8 470.4,210.0 470.4,208.9 470.5,210.4 470.6,212.0 470.6,209.9 470.7,205.5 470.8,204.0 470.8,206.8 470.9,208.2 470.9,207.2 471.1,208.3 471.2,206.5 471.3,205.1 471.6,205.2 471.8,207.0 472.1,208.9 472.1,207.9 472.2,205.2 472.3,206.6 472.3,207.7 472.4,209.5 472.5,211.4 472.6,209.6 472.7,207.2 472.8,208.4 473.0,206.7 473.0,205.2 473.1,208.2 473.2,206.7 473.4,202.5 473.4,201.0 473.5,203.5 473.5,205.7 473.7,207.4 473.8,209.3 473.9,211.2 473.9,210.0 474.0,208.7 474.3,208.2 474.5,209.6 474.7,208.4 474.7,209.8 474.8,206.2 474.8,198.9 474.9,196.2 474.9,198.7 475.0,201.9 475.0,204.6 475.2,200.4 475.2,197.6 475.3,200.8 475.3,204.8 475.4,207.4 475.7,208.7 475.8,207.0 476.0,204.9 476.1,206.1 476.2,207.5 476.3,205.7 476.5,207.1 476.6,208.3 476.8,206.5 476.9,210.1 477.0,212.6 477.0,210.5 477.1,206.8 477.3,207.8 477.4,210.5 477.4,211.9 477.5,210.5 477.5,207.9 477.6,206.3 477.6,203.9 477.7,202.3 477.8,200.8 477.9,202.9 478.0,204.4 478.0,207.1 478.1,209.1 478.2,205.6 478.2,201.1 478.3,197.7 478.3,198.9 478.4,203.8 478.4,208.3 478.5,206.8 478.6,207.8 478.7,209.1 478.7,210.3 478.8,207.9 478.9,206.8 479.1,208.3 479.2,207.0 479.6,207.3 479.9,207.7 480.0,209.0 480.2,206.3 480.2,207.8 480.3,210.4 480.4,209.3 480.5,208.0 480.5,209.3 480.6,207.5 481.0,211.1 481.1,209.7 481.1,208.1 481.3,206.2 481.4,202.2 481.5,205.1 481.5,207.3 481.6,208.8 481.7,207.1 482.0,208.6 482.0,209.8 482.2,208.2 482.3,209.6 482.4,208.5 482.5,206.7 482.7,205.6 482.8,204.5 482.9,205.7 483.1,206.9 483.2,208.0 483.3,210.8 483.3,209.6 483.4,206.6 483.5,205.3 483.6,208.1 483.6,210.4 483.7,208.9 483.9,207.5 484.0,205.9 484.1,208.5 484.2,206.6 484.4,208.1 484.4,209.5 484.5,210.7 484.6,208.2 484.8,209.3 484.9,206.4 484.9,204.7 485.0,207.4 485.1,209.0 485.2,206.9 485.4,209.3 485.5,207.7 485.5,205.8 485.7,207.0 485.8,208.8 485.9,210.7 486.0,207.5 486.1,206.4 486.3,207.5 486.4,208.5 486.4,209.8 486.6,208.7 486.8,204.4 486.8,197.1 486.9,193.3 487.0,196.2 487.0,202.1 487.1,208.2 487.1,209.6 487.2,208.3 487.2,206.1 487.4,207.8 487.5,206.7 487.6,209.0 487.7,207.1 488.0,206.9 488.1,208.8 488.2,207.6 488.3,206.6 488.4,207.9 488.6,206.0 488.7,207.7 488.9,208.9 488.9,210.6 489.0,208.4 489.1,206.4 489.2,204.1 489.3,206.0 489.3,208.2 489.4,206.5 489.5,207.6 489.6,208.8 489.7,210.1 489.8,208.3 489.9,209.6 490.0,207.1 490.1,205.9 490.2,207.7 490.3,206.6 490.3,204.8 490.5,206.5 490.6,207.8 490.7,206.3 490.9,205.0 491.0,207.4 491.3,205.5 491.5,207.8 491.8,207.2 491.9,205.5 492.0,208.6 492.1,206.9 492.3,205.7 492.5,209.8 492.5,208.8 492.6,206.5 492.7,207.5 492.7,209.0 492.8,210.2 492.8,211.2 492.9,210.2 492.9,208.4 493.1,207.2 493.2,209.2 493.3,205.7 493.4,203.3 493.5,205.0 493.7,203.2 494.0,204.7 494.0,206.8 494.2,205.5 494.5,207.0 494.6,209.3 494.6,206.0 494.7,200.9 494.7,199.5 494.8,202.2 494.9,203.7 494.9,205.1 495.1,207.0 495.4,205.7 495.5,206.8 495.6,205.7 495.8,204.0 495.9,202.7 495.9,201.6 496.0,203.1 496.0,207.4 496.1,210.0 496.2,208.5 496.3,209.5 496.4,208.0 496.4,206.0 496.6,208.3 496.7,206.0 496.7,204.5 496.8,203.3 496.8,200.7 497.0,203.3 497.1,207.2 497.1,208.4 497.2,206.8 497.3,208.9 497.4,206.7 497.5,208.5 497.6,206.4 497.8,208.3 497.9,209.8 498.0,206.7 498.0,204.2 498.1,206.1 498.2,207.5 498.2,206.0 498.5,207.5 498.5,206.4 498.6,204.9 498.7,207.7 498.9,206.3 499.0,204.9 499.1,206.0 499.4,207.0 499.5,201.7 499.5,197.5 499.7,198.9 499.7,204.3 499.8,209.2 499.8,206.7 499.9,204.7 499.9,206.1 500.1,207.6 500.3,205.6 500.4,207.0 500.6,208.6 500.7,206.6 500.8,204.8 500.8,201.5 501.0,202.5 501.0,203.6 501.1,204.7 501.1,205.9 501.3,204.3 501.3,200.2 501.4,197.7 501.5,201.7 501.5,205.2 501.8,206.5 502.0,204.9 502.0,203.7 502.2,199.8 502.4,201.3 502.4,204.2 502.5,208.5 502.5,209.5 502.6,208.3 502.8,205.6 503.0,207.2 503.0,209.1 503.1,202.3 503.2,195.1 503.2,192.2 503.3,194.7 503.3,200.8 503.4,208.1 503.4,209.6 503.5,206.9 503.6,204.9 503.8,207.6 504.0,206.4 504.1,202.6 504.1,201.5 504.2,203.3 504.3,206.1 504.4,207.4 504.5,205.1 504.8,204.9 505.0,206.9 505.1,205.3 505.1,203.5 505.2,205.3 505.4,206.5 505.4,208.9 505.6,207.8 505.6,206.4 505.7,204.4 505.8,203.4 505.8,205.0 505.9,207.5 506.0,209.7 506.1,207.2 506.3,204.8 506.4,206.3 506.6,204.6 506.7,206.3 506.9,205.3 507.0,206.4 507.1,207.8 507.2,206.7 507.3,203.9 507.4,205.7 507.6,203.9 507.7,206.3 508.1,203.9 508.4,204.6 508.5,205.9 508.5,207.7 508.6,205.7 508.7,206.9 508.9,208.8 509.0,207.8 509.0,206.4 509.1,204.1 509.2,201.1 509.3,199.2 509.4,201.1 509.5,203.2 509.6,201.0 509.7,203.9 509.9,204.9 509.9,207.1 510.0,203.6 510.1,201.5 510.2,203.4 510.2,207.3 510.3,208.6 510.3,205.4 510.4,202.6 510.5,204.7 510.6,207.0 510.7,204.3 510.8,205.5 510.9,204.2 511.1,205.3 511.4,206.0 511.5,203.0 511.7,204.9 511.7,206.0 512.1,206.0 512.2,207.3 512.3,204.8 512.4,200.6 512.4,196.3 512.5,198.5 512.6,202.9 512.6,205.4 513.0,205.9 513.1,207.9" fill="none" stroke="#f00000" stroke-width="1.25" stroke-linejoin="round" />
<polyline points="287.5,361.6 287.8,361.6 287.9,343.3 288.0,296.8 288.0,333.1 288.1,361.6 288.4,361.6 288.7,361.6 289.0,324.3 289.1,286.9 289.1,318.6 289.2,349.9 289.2,361.6 289.6,361.6 289.9,361.6 290.3,361.6 290.3,341.9 290.4,309.3 290.4,277.7 290.5,305.6 290.5,332.7 290.6,359.9 290.7,361.6 291.0,361.6 291.3,361.6 291.7,361.6 292.0,361.6 292.4,361.6 292.7,361.6 293.0,361.6 293.4,361.6 293.7,361.6 294.0,361.6 294.4,361.6 294.7,361.6 295.1,361.6 295.4,361.6 295.7,361.6 296.0,354.4 296.0,346.8 296.1,339.2 296.1,331.3 296.2,324.0 296.2,316.9 296.3,308.7 296.4,300.6 296.4,293.4 296.5,285.8 296.5,278.1 296.6,270.7 296.6,262.9 296.7,254.6 296.8,246.5 296.8,239.1 296.9,232.3 296.9,234.1 297.0,235.3 297.0,237.0 297.1,238.9 297.2,240.9 297.2,242.8 297.3,245.3 297.3,247.9 297.4,250.1 297.4,252.7 297.5,255.6 297.5,256.7 297.7,260.4 297.7,263.4 297.8,265.3 297.9,267.5 297.9,269.8 298.0,272.0 298.1,273.8 298.1,275.2 298.2,277.3 298.2,279.6 298.3,281.3 298.3,283.3 298.4,285.8 298.4,287.9 298.5,290.1 298.6,292.1 298.6,293.8 298.7,296.1 298.7,298.9 298.8,301.5 298.8,302.9 298.9,304.0 299.0,306.3 299.0,308.2 299.1,306.5 299.1,304.8 299.2,303.4 299.3,300.9 299.4,299.1 299.4,297.6 299.5,296.2 299.5,294.7 299.6,292.6 299.6,290.7 299.7,288.8 299.8,287.2 299.9,285.5 299.9,283.5 300.0,281.8 300.1,280.0 300.1,278.8 300.2,277.3 300.3,275.3 300.3,273.1 300.4,271.9 300.4,270.6 300.5,268.8 300.5,267.8 300.6,266.0 300.7,264.0 300.7,262.9 300.8,260.6 300.9,258.9 300.9,257.7 301.0,255.3 301.1,253.2 301.2,251.1 301.3,249.3 301.3,247.2 301.4,244.9 301.4,243.1 301.6,242.1 301.6,240.4 301.7,238.4 301.7,236.0 301.8,234.0 301.8,232.5 301.9,230.6 301.9,229.2 302.1,227.9 302.1,226.6 302.2,225.0 302.2,222.9 302.3,220.9 302.3,219.3 302.5,217.8 302.5,215.5 302.6,213.0 302.6,211.8 302.7,210.5 302.8,212.1 302.9,214.3 302.9,216.4 303.0,217.8 303.1,220.4 303.1,223.1 303.2,224.5 303.2,225.6 303.3,226.7 303.4,228.3 303.4,230.5 303.5,232.6 303.5,234.7 303.6,237.1 303.6,238.6 303.8,241.2 303.8,243.2 303.9,245.2 303.9,247.2 304.0,249.3 304.0,251.4 304.1,252.7 304.1,253.8 304.2,255.3 304.3,257.0 304.3,258.7 304.4,260.8 304.4,263.5 304.5,265.9 304.6,267.6 304.7,269.4 304.7,271.5 304.8,273.7 304.8,275.3 304.9,277.9 305.0,279.5 305.3,278.3 305.4,275.2 305.4,273.9 305.6,272.5 305.7,270.9 305.9,269.8 306.0,268.6 306.0,267.4 306.1,266.2 306.2,264.3 306.4,262.9 306.6,261.1 306.6,259.8 306.8,257.7 306.9,255.7 307.1,254.1 307.2,252.9 307.3,250.5 307.5,248.9 307.5,247.5 307.6,246.2 307.8,245.0 307.9,243.7 308.1,241.7 308.2,240.3 308.2,239.1 308.3,237.7 308.6,238.8 308.7,240.1 308.7,241.3 308.8,242.8 308.9,243.9 308.9,245.0 309.0,246.1 309.3,248.5 309.3,249.7 309.5,251.1 309.5,252.2 309.7,253.5 309.8,255.1 310.0,256.3 310.0,257.4 310.2,258.7 310.3,260.0 310.4,261.6 310.4,263.0 310.5,264.3 310.6,265.6 310.8,266.7 310.8,267.7 311.0,269.9 311.1,271.3 311.5,271.8 311.6,270.5 311.9,269.3 312.1,267.9 312.2,269.2 312.2,268.2 312.3,266.9 312.4,267.9 312.5,266.8 312.7,267.9 312.9,266.7 313.0,264.6 313.3,263.0 313.7,262.8 313.9,261.6 313.9,260.6 314.2,259.1 314.3,257.9 314.4,256.3 314.8,254.2 315.0,253.1 315.1,251.8 315.4,249.8 315.7,248.2 315.8,246.8 316.1,245.6 316.2,244.0 316.5,243.0 316.6,241.6 316.8,239.7 316.9,238.5 317.2,239.9 317.6,241.5 317.8,243.3 318.0,244.8 318.2,243.1 318.4,244.7 318.6,245.8 318.7,247.2 318.9,248.3 319.3,250.3 319.6,251.4 319.8,252.9 320.1,252.8 320.2,251.5 320.5,250.5 320.6,249.4 320.8,248.3 320.9,247.1 321.1,244.9 321.4,243.6 321.5,242.3 321.6,241.2 321.9,239.8 322.1,238.0 322.3,236.3 322.7,237.4 322.9,238.5 323.1,239.8 323.2,238.7 323.5,239.8 323.7,237.7 324.1,237.4 324.4,235.4 324.7,233.6 325.0,232.3 325.3,231.2 325.4,229.4 325.7,229.2 325.9,230.5 326.0,229.3 326.2,230.6 326.6,230.5 326.8,231.5 326.9,232.5 327.0,233.7 327.1,232.4 327.5,234.1 327.8,233.6 327.9,232.2 328.2,231.5 328.3,229.6 328.6,229.8 328.9,227.8 329.0,226.7 329.0,227.9 329.2,226.3 329.5,225.9 329.8,224.9 330.0,223.4 330.1,225.5 330.5,226.4 330.8,226.0 330.9,227.1 331.0,225.7 331.1,227.5 331.5,227.5 331.6,228.9 332.0,228.0 332.3,228.0 332.5,226.4 332.8,225.9 333.0,223.6 333.2,224.8 333.3,223.4 333.6,222.8 333.8,221.2 334.2,221.3 334.2,220.2 334.3,219.1 334.6,218.3 334.7,216.7 335.0,218.3 335.1,217.0 335.4,218.3 335.8,219.7 336.0,221.7 336.1,219.6 336.4,221.2 336.5,219.7 336.7,220.8 336.7,222.1 337.1,222.1 337.2,223.6 337.3,221.6 337.7,221.7 338.0,221.8 338.4,220.5 338.7,221.3 338.8,219.2 339.1,219.8 339.2,218.7 339.5,217.6 339.9,216.9 340.0,219.3 340.3,217.6 340.4,219.1 340.8,218.7 340.9,219.8 341.2,220.2 341.3,219.2 341.7,219.8 341.8,218.8 342.0,220.9 342.1,222.0 342.2,221.0 342.3,222.2 342.4,221.0 342.4,219.8 342.7,220.8 342.9,218.8 343.1,220.0 343.3,218.8 343.5,219.9 343.5,218.9 343.7,220.5 343.8,218.3 344.1,218.7 344.4,218.3 344.8,218.1 345.0,216.5 345.1,218.0 345.2,219.0 345.5,216.7 345.6,218.1 345.7,219.2 345.9,220.3 346.0,218.4 346.1,219.9 346.3,218.5 346.6,218.8 346.7,216.7 346.8,218.1 347.0,216.9 347.2,219.0 347.3,217.1 347.6,218.9 347.7,217.3 347.8,218.4 348.0,216.6 348.1,218.6 348.2,216.8 348.6,216.7 348.7,219.1 348.8,220.7 349.0,218.6 349.0,217.6 349.2,215.1 349.2,216.8 349.3,218.7 349.6,217.8 349.8,219.2 349.8,220.2 350.0,218.9 350.2,217.2 350.3,218.3 350.7,218.7 350.7,219.8 350.8,221.4 350.9,219.9 351.0,218.3 351.3,220.0 351.6,218.8 351.7,220.7 352.0,218.9 352.1,217.6 352.1,218.8 352.5,220.0 352.6,218.4 352.7,217.3 353.0,218.4 353.3,219.7 353.4,218.3 353.7,220.2 353.8,217.6 353.9,216.3 354.1,219.3 354.2,217.9 354.3,219.2 354.5,218.0 354.8,219.0 354.9,220.0 355.0,218.6 355.2,219.7 355.5,219.2 355.6,217.5 355.8,219.1 355.9,217.8 356.1,218.9 356.3,220.0 356.4,217.9 356.5,219.3 356.6,220.7 356.8,219.5 356.9,217.7 357.2,219.3 357.3,218.2 357.7,219.4 357.7,217.9 357.8,219.4 358.0,217.2 358.3,218.7 358.5,219.7 358.6,217.7 359.0,217.0 359.0,218.4 359.2,216.7 359.6,216.8 359.7,218.2 359.9,217.2 359.9,218.7 360.1,217.3 360.1,218.4 360.5,217.4 360.6,218.5 360.8,217.2 360.9,218.8 361.1,220.1 361.3,219.0 361.4,220.5 361.5,218.9 361.8,218.9 361.9,217.7 362.2,217.8 362.3,214.5 362.4,211.4 362.5,209.0 362.6,210.8 362.7,212.3 362.8,214.3 362.8,216.5 363.1,218.4 363.2,217.1 363.5,218.5 363.6,217.3 363.7,219.0 364.1,218.9 364.3,217.6 364.4,219.0 364.5,220.1 364.5,218.7 364.8,217.3 364.8,219.1 365.0,221.0 365.0,219.5 365.1,217.3 365.3,218.4 365.3,217.4 365.4,216.0 365.5,217.6 365.6,218.7 365.8,220.4 365.8,219.2 365.9,217.3 366.0,218.7 366.3,220.6 366.5,219.1 366.5,217.2 366.7,218.3 366.8,220.1 366.9,221.6 367.0,219.8 367.3,218.8 367.6,220.0 368.0,218.1 368.2,219.4 368.4,217.8 368.5,219.2 368.8,220.2 369.2,219.8 369.3,218.2 369.4,219.8 369.7,219.2 369.8,217.3 370.0,218.3 370.2,217.3 370.4,216.0 370.5,218.3 370.5,220.5 370.6,219.1 370.6,216.7 370.7,218.2 371.1,216.8 371.2,218.3 371.4,220.1 371.5,218.8 371.7,217.8 371.8,218.9 372.1,218.9 372.2,217.5 372.3,219.5 372.3,220.6 372.5,219.6 372.6,218.0 372.7,219.1 372.8,220.3 372.9,219.1 373.1,218.0 373.2,220.1 373.3,221.1 373.5,218.6 373.5,217.5 373.7,219.4 373.7,220.6 374.0,218.8 374.2,217.1 374.3,218.3 374.4,219.3 374.5,220.5 374.6,219.4 374.8,217.8 374.9,219.9 375.1,218.4 375.3,219.6 375.4,217.9 375.4,216.4 375.5,218.2 375.8,217.0 376.1,218.3 376.4,218.7 376.6,217.2 376.8,218.8 377.1,219.9 377.4,217.9 377.6,219.3 377.7,218.0 377.9,220.5 378.0,219.0 378.2,217.9 378.5,218.8 378.6,217.7 378.7,219.8 378.8,221.6 378.8,220.3 378.9,218.4 379.0,219.4 379.0,220.4 379.1,218.9 379.2,217.9 379.4,218.9 379.5,219.9 379.7,218.8 379.8,220.6 379.9,221.6 379.9,219.9 380.0,217.6 380.1,219.1 380.1,220.6 380.2,219.4 380.6,218.8 380.7,217.2 380.9,219.0 381.1,217.8 381.1,216.3 381.2,218.0 381.5,219.1 381.5,217.8 381.6,218.9 381.7,220.2 381.8,218.8 381.8,217.4 382.1,219.0 382.3,218.0 382.5,219.3 382.6,218.1 382.7,219.2 382.8,220.3 383.2,219.3 383.5,219.0 383.6,217.7 383.7,219.3 384.1,219.6 384.1,220.7 384.3,218.6 384.5,220.0 384.8,218.8 385.0,221.7 385.1,220.0 385.2,221.1 385.5,219.7 385.8,218.2 385.9,219.2 386.3,220.9 386.4,219.9 386.6,218.2 386.7,219.7 387.0,219.5 387.1,218.2 387.3,216.9 387.4,218.3 387.6,216.3 387.7,218.4 387.9,220.2 388.1,219.0 388.4,217.8 388.5,219.2 388.6,220.2 388.7,218.5 388.8,219.5 389.0,218.3 389.1,219.7 389.3,220.7 389.4,219.7 389.4,218.7 389.7,220.6 389.9,219.5 389.9,218.1 390.0,221.1 390.2,220.1 390.4,221.4 390.6,220.0 390.7,218.7 390.8,220.7 391.1,222.0 391.3,220.4 391.3,218.9 391.5,217.2 391.6,219.8 391.6,221.2 391.7,219.7 391.7,218.5 391.9,219.5 392.0,217.8 392.3,219.5 392.3,221.0 392.4,219.5 392.4,218.2 392.7,219.3 392.9,220.6 393.0,219.5 393.2,218.3 393.4,220.7 393.5,219.1 393.7,220.7 393.8,218.9 394.0,220.2 394.2,221.7 394.3,219.7 394.5,218.5 394.6,220.5 394.8,222.5 394.9,220.7 395.0,219.7 395.1,220.9 395.4,219.0 395.7,221.0 395.8,222.8 395.8,221.5 395.9,218.3 396.0,220.2 396.0,222.0 396.4,221.3 396.5,222.7 396.6,221.5 396.9,220.3 397.1,218.2 397.4,219.2 397.6,217.9 397.6,219.2 397.7,220.7 397.8,219.6 398.0,218.5 398.1,220.3 398.5,218.8 398.7,220.1 398.7,218.9 398.9,221.2 399.2,220.0 399.5,219.0 399.6,220.2 399.9,220.5 400.2,219.2 400.3,220.5 400.3,222.4 400.4,221.0 400.5,222.9 400.6,221.8 400.7,220.2 400.8,222.7 401.1,220.5 401.4,220.6 401.7,220.2 401.8,221.3 402.1,220.0 402.2,221.5 402.4,220.5 402.7,220.2 402.9,219.1 403.0,220.7 403.1,219.7 403.4,220.7 403.5,219.5 403.8,221.3 403.9,219.0 403.9,218.0 404.0,219.2 404.0,221.3 404.2,219.4 404.6,219.4 404.8,217.4 404.9,219.9 405.1,221.2 405.5,221.3 405.7,222.7 405.8,221.4 406.1,220.4 406.5,220.7 406.8,221.9 406.9,220.6 407.0,222.0 407.2,220.7 407.3,222.8 407.4,221.7 407.5,220.4 407.6,222.4 407.8,220.2 407.9,221.4 407.9,222.7 408.0,221.5 408.1,219.6 408.4,218.8 408.4,220.7 408.6,219.2 408.7,221.3 408.9,222.4 409.0,221.2 409.4,220.1 409.6,218.4 409.7,219.6 410.1,219.9 410.4,221.2 410.7,220.1 410.8,221.7 410.9,220.4 411.2,221.9 411.3,220.3 411.3,219.2 411.4,221.5 411.6,220.1 411.8,221.5 412.2,221.3 412.4,219.1 412.6,220.9 412.7,222.4 412.9,220.9 413.2,221.4 413.5,221.2 413.6,222.8 413.8,221.4 414.1,220.3 414.2,219.3 414.3,220.4 414.3,221.7 414.4,219.6 414.7,221.6 414.8,220.2 414.9,221.5 414.9,220.2 415.0,218.9 415.3,220.9 415.7,219.8 415.7,221.1 415.8,223.2 415.9,220.9 416.2,221.3 416.6,222.0 416.8,220.6 416.9,219.6 417.1,220.6 417.4,220.9 417.6,223.4 417.7,222.2 418.0,221.0 418.2,222.0 418.5,219.9 418.6,221.5 418.8,223.2 418.9,221.6 419.1,220.0 419.3,221.5 419.4,219.7 419.5,221.5 419.8,221.7 420.0,220.2 420.1,222.2 420.2,221.1 420.3,219.8 420.5,221.0 420.8,221.3 421.0,219.9 421.1,221.5 421.3,220.0 421.4,221.7 421.8,220.8 421.9,223.1 421.9,221.9 422.0,220.9 422.3,222.8 422.4,221.7 422.4,220.7 422.8,221.8 423.0,220.8 423.1,222.3 423.5,220.3 423.6,222.0 423.7,223.1 423.8,220.8 423.9,221.9 424.0,223.5 424.1,222.2 424.1,220.8 424.3,222.3 424.3,223.5 424.5,222.3 424.6,219.7 424.8,221.7 424.9,220.6 425.0,222.8 425.3,221.3 425.4,223.2 425.6,221.8 425.7,220.5 425.8,222.0 426.0,223.6 426.1,225.6 426.1,227.1 426.3,228.3 426.5,226.1 426.6,224.3 426.6,222.3 426.7,220.8 426.8,221.8 427.2,221.6 427.4,219.6 427.8,221.8 428.1,222.3 428.4,221.6 428.6,220.4 428.7,221.5 428.8,220.2 428.9,221.9 429.0,223.3 429.4,223.3 429.6,221.4 430.0,221.2 430.2,222.3 430.6,222.2 430.6,221.1 431.0,221.3 431.1,223.5 431.5,221.8 431.7,219.2 431.8,221.8 431.9,220.1 432.2,221.2 432.2,223.1 432.4,220.6 432.7,222.5 432.7,223.5 432.9,222.0 432.9,220.1 433.1,221.6 433.2,223.1 433.3,222.1 433.5,220.4 433.6,223.1 433.7,221.6 433.9,220.4 434.0,219.2 434.1,221.6 434.1,222.9 434.4,221.8 434.5,223.3 434.6,222.0 434.7,223.6 434.9,221.9 435.2,221.4 435.3,222.6 435.6,221.2 435.7,220.0 435.8,222.1 436.0,224.0 436.1,220.6 436.4,221.8 436.7,220.2 436.8,221.8 436.8,223.8 437.0,221.7 437.1,220.2 437.5,221.8 437.5,220.7 437.7,222.7 437.8,221.5 437.9,219.7 438.1,221.7 438.4,223.0 438.5,221.3 438.6,220.1 438.9,222.4 439.3,221.9 439.4,220.6 439.5,221.9 439.7,223.4 439.9,221.8 440.0,223.6 440.1,222.3 440.1,221.3 440.2,223.6 440.3,222.4 440.7,222.7 441.0,223.8 441.1,222.3 441.4,223.1 441.7,222.0 442.0,220.5 442.1,221.7 442.5,220.6 442.6,223.7 442.8,222.3 442.8,220.4 443.2,219.8 443.3,220.8 443.6,221.9 443.7,220.2 444.0,218.9 444.1,220.5 444.1,222.7 444.5,222.9 444.5,221.7 444.7,220.1 444.9,222.4 445.1,224.0 445.2,222.6 445.4,220.9 445.5,222.5 445.9,222.6 446.0,221.5 446.1,222.7 446.2,221.3 446.4,223.8 446.5,225.3 446.7,223.9 446.8,222.6 447.0,223.7 447.1,222.4 447.2,221.0 447.2,222.7 447.3,224.4 447.4,222.0 447.6,223.2 447.7,224.5 447.8,221.4 447.9,219.9 448.1,222.8 448.1,224.1 448.2,222.9 448.4,221.9 448.7,221.8 449.1,220.6 449.1,219.4 449.2,220.4 449.3,222.0 449.3,223.2 449.5,221.9 449.6,220.6 449.9,222.0 450.3,223.4 450.3,222.3 450.6,221.1 450.7,222.5 450.9,221.5 451.1,222.5 451.3,224.3 451.4,222.2 451.7,221.1 451.7,222.4 452.0,224.4 452.1,222.1 452.2,223.8 452.4,222.2 452.5,221.2 452.6,222.3 452.6,223.6 452.8,221.3 452.9,223.7 453.1,222.4 453.2,221.4 453.5,222.3 453.6,220.7 453.9,222.6 454.0,221.2 454.1,220.1 454.4,220.5 454.5,221.8 454.7,223.3 454.8,221.6 455.1,220.1 455.3,222.1 455.7,222.5 455.8,220.9 455.9,222.8 456.0,221.4 456.1,222.9 456.3,220.6 456.4,221.8 456.5,223.0 456.6,221.6 456.8,223.6 456.9,222.4 457.0,223.6 457.0,224.8 457.1,222.5 457.2,218.8 457.3,221.3 457.3,222.4 457.4,223.8 457.4,222.4 457.5,220.5 457.6,222.2 457.6,224.2 457.8,223.1 457.9,224.3 458.2,222.9 458.2,221.6 458.4,223.3 458.5,220.5 458.7,221.9 459.0,220.8 459.1,222.9 459.2,221.1 459.4,222.7 459.7,221.1 459.8,218.9 459.9,220.9 460.0,222.3 460.1,220.8 460.2,219.6 460.4,221.4 460.7,220.9 460.8,218.8 460.9,220.4 461.1,218.4 461.1,219.5 461.2,221.9 461.2,223.4 461.5,220.9 461.8,220.6 462.0,222.0 462.1,221.0 462.2,223.5 462.3,221.8 462.5,223.0 462.5,221.7 462.7,223.2 462.9,221.8 463.2,220.9 463.3,221.9 463.4,223.4 463.5,221.0 463.6,223.0 463.8,221.9 463.9,220.7 464.2,222.4 464.5,221.2 464.6,222.7 464.9,221.3 465.0,220.3 465.2,222.9 465.3,220.5 465.5,222.0 465.7,220.8 465.7,219.3 465.9,221.8 466.0,224.0 466.1,222.7 466.1,221.3 466.3,219.9 466.4,221.6 466.5,219.4 466.6,218.1 466.7,219.2 466.8,221.1 467.1,221.2 467.4,223.4 467.5,221.2 467.7,222.9 467.8,221.5 467.9,220.4 468.2,222.1 468.6,222.4 468.6,220.4 468.7,222.6 469.0,220.7 469.1,222.6 469.2,221.5 469.3,220.1 469.6,221.2 469.8,219.2 470.0,220.3 470.2,219.3 470.4,220.8 470.5,219.8 470.7,221.2 470.8,220.2 471.2,220.1 471.2,221.2 471.4,219.3 471.5,218.0 471.5,219.9 471.6,222.1 471.8,220.0 471.8,218.7 472.1,220.4 472.2,218.8 472.3,220.0 472.4,221.6 472.6,219.5 472.6,220.7 472.7,222.3 472.8,219.8 472.8,221.1 472.9,222.2 473.0,221.0 473.1,222.4 473.3,220.1 473.4,218.9 473.4,221.0 473.5,223.3 473.6,220.4 473.6,218.6 473.8,220.2 473.9,221.2 474.2,220.2 474.4,218.8 474.5,220.5 474.7,222.0 474.8,220.8 474.9,219.7 475.2,219.0 475.3,221.5 475.4,219.4 475.5,221.0 475.6,222.3 475.7,220.0 475.7,218.5 476.1,218.7 476.3,219.8 476.5,221.3 476.7,219.6 476.7,218.0 477.1,218.4 477.2,219.9 477.3,217.4 477.4,218.4 477.5,220.4 477.5,221.4 477.8,219.4 477.9,220.4 477.9,219.0 478.0,220.3 478.1,221.4 478.3,219.9 478.7,218.5 478.8,220.6 478.9,218.9 479.1,219.9 479.2,221.7 479.3,220.7 479.4,218.6 479.6,220.5 479.6,222.0 479.7,220.3 479.7,218.9 479.8,221.0 480.0,219.0 480.0,216.8 480.1,218.1 480.1,220.5 480.5,220.2 480.6,222.4 480.8,223.4 480.9,221.7 480.9,218.9 481.3,218.4 481.3,220.0 481.4,221.1 481.6,219.7 481.7,218.0 481.8,219.8 482.0,218.2 482.3,217.0 482.6,218.8 482.6,217.3 482.7,220.2 482.9,218.4 483.1,220.2 483.3,218.9 483.5,217.3 483.7,219.7 484.0,217.9 484.1,219.4 484.1,220.4 484.2,217.7 484.3,218.8 484.6,218.9 485.0,217.2 485.1,218.4 485.2,217.3 485.3,219.2 485.5,220.5 485.8,218.9 486.0,217.4 486.1,218.8 486.1,220.4 486.2,219.0 486.4,221.8 486.4,220.8 486.5,218.2 486.6,220.7 486.7,219.6 486.9,217.9 487.0,219.2 487.2,220.3 487.4,218.5 487.5,217.3 487.6,214.9 487.7,216.7 487.8,215.4 487.9,217.1 487.9,219.3 488.3,220.2 488.4,219.1 488.4,217.4 488.6,216.0 488.7,218.0 488.8,219.0 489.0,217.5 489.2,215.3 489.3,217.3 489.6,218.5 489.9,221.3 490.1,219.4 490.1,217.7 490.2,218.8 490.5,217.8 490.6,216.4 490.7,218.0 490.9,219.7 491.0,217.3 491.4,217.5 491.4,218.7 491.6,217.3 491.6,218.5 491.8,217.1 491.9,219.2 492.3,217.5 492.4,216.3 492.4,217.7 492.5,219.6 492.5,217.9 492.6,216.5 492.9,217.6 493.1,216.0 493.3,214.8 493.4,216.1 493.5,217.9 493.6,219.0 493.7,216.3 493.8,215.2 493.9,216.7 494.0,219.8 494.1,217.8 494.2,215.6 494.4,217.3 494.5,215.2 494.6,216.4 494.6,217.8 494.8,216.7 494.9,218.0 495.0,216.9 495.1,215.7 495.4,214.7 495.5,216.6 495.6,215.5 495.7,217.1 495.8,215.7 495.9,217.1 496.2,219.0 496.2,220.2 496.4,218.7 496.6,217.6 496.8,218.8 496.9,217.8 496.9,216.6 497.0,215.5 497.1,217.0 497.2,218.0 497.3,219.5 497.4,217.5 497.5,220.0 497.7,217.7 498.1,216.8 498.1,215.6 498.4,217.3 498.6,215.1 498.6,216.5 498.7,218.4 498.8,216.9 499.0,215.4 499.4,216.4 499.7,215.1 499.9,216.2 500.0,214.5 500.2,217.1 500.3,216.1 500.3,214.2 500.4,216.4 500.6,214.7 500.8,216.2 501.0,217.2 501.0,216.1 501.2,213.7 501.3,214.8 501.3,216.5 501.6,217.6 501.7,216.5 501.8,217.6 502.1,217.9 502.4,216.5 502.5,215.2 502.6,217.7 502.8,216.6 502.9,217.7 502.9,219.8 503.0,216.9 503.1,214.9 503.3,216.9 503.3,219.0 503.4,216.2 503.5,213.1 503.5,214.2 503.6,216.9 503.7,218.0 503.8,216.9 504.1,215.7 504.3,217.3 504.4,214.8 504.5,217.0 504.8,216.3 504.9,215.0 505.2,213.6 505.3,215.3 505.6,215.4 505.7,217.2 505.8,215.2 505.9,213.7 505.9,214.8 506.0,216.2 506.1,215.1 506.5,214.9 506.6,215.9 506.7,217.9 506.9,216.3 506.9,215.1 507.2,216.5 507.4,217.5 507.6,218.7 507.7,217.6 507.8,214.4 507.9,213.3 508.0,215.0 508.0,216.9 508.1,214.9 508.3,213.5 508.4,216.5 508.5,217.8 508.5,219.2 508.6,217.3 508.7,216.0 509.0,216.9 509.1,214.6 509.2,216.3 509.3,213.5 509.4,214.9 509.5,216.4 509.5,217.9 509.6,215.3 509.8,214.0 510.0,212.1 510.0,214.2 510.1,215.2 510.3,213.9 510.4,215.2 510.4,218.1 510.6,216.9 510.8,214.5 510.9,213.2 511.0,214.8 511.3,216.0 511.4,214.6 511.6,213.0 511.6,211.2 511.7,212.9 511.7,214.8 512.0,213.5 512.1,214.6 512.2,213.5 512.4,215.3 512.4,216.9 512.5,214.5 512.5,212.6 512.6,213.7 512.9,215.8 513.0,214.7 513.0,213.6 513.1,215.0 513.2,213.1" fill="none" stroke="#0000f0" stroke-width="1.25" stroke-linejoin="round" />
<polyline points="287.5,361.6 287.8,361.6 288.2,361.6 288.5,361.6 288.6,339.4 288.6,303.5 288.7,339.5 288.7,361.6 289.1,361.6 289.4,361.6 289.8,361.6 290.1,361.6 290.4,361.6 290.8,361.6 291.1,361.6 291.5,361.6 291.8,361.6 292.1,361.6 292.5,361.6 292.8,361.6 293.1,361.6 293.5,361.6 293.8,337.2 293.9,309.9 293.9,282.6 294.0,255.8 294.0,229.8 294.1,234.4 294.2,238.9 294.2,244.0 294.3,249.4 294.3,253.7 294.4,258.0 294.4,263.2 294.5,268.3 294.6,273.2 294.6,278.5 294.7,283.6 294.7,288.6 294.8,293.7 294.8,298.5 294.9,302.4 294.9,307.2 295.0,312.7 295.1,318.0 295.1,322.9 295.2,327.5 295.2,332.4 295.3,337.6 295.3,342.7 295.4,346.8 295.5,344.3 295.5,342.5 295.6,340.5 295.6,338.3 295.7,336.0 295.7,333.9 295.8,332.2 295.9,330.3 295.9,328.1 296.0,326.0 296.0,324.0 296.1,321.7 296.1,319.6 296.2,317.8 296.2,315.2 296.3,312.3 296.4,310.5 296.4,308.5 296.5,306.2 296.5,305.1 296.6,304.0 296.6,302.0 296.7,299.4 296.8,296.6 296.8,298.3 296.9,300.4 296.9,301.8 297.0,303.5 297.0,305.0 297.1,306.4 297.2,308.1 297.2,309.9 297.3,311.8 297.3,313.6 297.4,314.9 297.4,316.1 297.5,317.4 297.5,318.8 297.6,320.7 297.7,322.6 297.7,324.3 297.8,326.5 297.8,329.1 297.9,330.8 298.0,332.8 298.1,334.7 298.1,336.6 298.2,338.0 298.2,339.1 298.3,337.5 298.3,336.1 298.4,333.7 298.4,331.3 298.5,330.0 298.6,328.8 298.6,326.7 298.7,323.9 298.7,321.0 298.8,319.0 298.8,317.4 298.9,315.4 299.0,313.1 299.0,310.9 299.1,308.9 299.1,306.8 299.2,304.4 299.2,302.3 299.3,300.8 299.4,298.7 299.4,296.3 299.5,294.0 299.5,291.9 299.6,289.7 299.6,287.5 299.7,285.4 299.7,283.5 299.8,281.7 299.9,279.4 299.9,277.2 300.0,274.9 300.0,272.4 300.1,270.1 300.1,268.6 300.3,265.5 300.3,262.8 300.4,261.0 300.4,258.6 300.5,255.9 300.5,254.1 300.6,252.5 300.7,250.2 300.7,247.9 300.8,246.0 300.8,244.1 300.9,242.2 300.9,240.4 301.0,238.2 301.0,236.2 301.2,238.3 301.2,239.7 301.3,241.8 301.4,243.1 301.4,244.3 301.5,245.7 301.6,247.0 301.6,248.1 301.7,250.6 301.8,252.4 301.8,253.8 301.9,255.0 302.0,256.6 302.1,257.6 302.1,258.6 302.2,260.5 302.2,262.6 302.4,264.3 302.5,266.3 302.5,267.7 302.6,270.3 302.7,271.5 302.8,273.8 302.9,275.3 303.0,277.1 303.0,278.7 303.1,280.3 303.2,282.1 303.2,283.5 303.3,284.8 303.4,287.2 303.5,288.6 303.6,290.6 303.6,292.1 303.7,293.8 303.8,295.3 304.0,293.6 304.0,292.1 304.1,290.4 304.1,289.0 304.3,287.3 304.3,286.2 304.4,283.7 304.5,282.1 304.5,280.7 304.6,279.1 304.7,277.3 304.8,275.9 304.8,274.4 304.9,272.8 304.9,271.4 305.0,270.2 305.1,268.4 305.1,266.9 305.2,265.8 305.3,264.0 305.3,262.4 305.4,260.9 305.5,258.9 305.6,257.1 305.6,255.1 305.7,253.7 305.8,252.1 305.8,251.0 305.9,249.0 306.0,247.1 306.1,245.5 306.1,244.0 306.2,242.9 306.3,240.4 306.4,238.4 306.4,236.7 306.5,235.6 306.5,234.5 306.6,233.0 306.6,231.8 306.7,229.6 306.8,227.9 306.9,226.1 306.9,224.5 307.0,223.4 307.0,221.9 307.1,220.6 307.2,221.8 307.3,223.6 307.3,224.6 307.4,225.6 307.4,227.0 307.5,228.4 307.5,229.8 307.6,231.2 307.6,233.0 307.7,234.6 307.8,235.9 307.8,237.0 307.9,238.3 307.9,240.1 308.0,241.8 308.0,243.1 308.1,244.2 308.2,245.5 308.2,247.4 308.3,249.6 308.3,251.2 308.4,252.8 308.5,254.5 308.6,256.7 308.6,258.4 308.7,260.0 308.7,261.3 308.8,263.3 308.9,265.1 308.9,266.8 309.0,267.8 309.1,269.9 309.2,272.3 309.2,274.1 309.3,276.0 309.4,277.3 309.5,278.9 309.5,280.9 309.6,282.5 309.6,284.1 309.7,285.7 309.7,286.8 309.8,284.9 309.8,282.6 309.9,281.4 310.0,278.9 310.1,276.8 310.1,275.5 310.2,274.0 310.2,272.2 310.3,270.6 310.4,269.3 310.4,268.3 310.5,266.0 310.6,264.0 310.6,262.2 310.7,260.8 310.8,259.5 310.8,257.7 310.9,255.6 310.9,254.6 311.0,252.1 311.1,250.2 311.1,248.8 311.2,247.8 311.3,246.0 311.3,244.3 311.4,242.6 311.4,240.6 311.5,239.2 311.5,238.2 311.6,236.3 311.7,234.1 311.7,232.5 311.8,231.4 311.8,230.2 311.9,228.6 311.9,227.3 312.1,224.9 312.1,222.9 312.2,221.0 312.2,219.5 312.3,218.1 312.3,216.8 312.4,218.5 312.5,219.6 312.6,221.2 312.6,222.3 312.7,223.6 312.8,225.9 312.9,227.2 313.1,228.3 313.1,230.1 313.2,231.2 313.3,233.2 313.4,235.1 313.5,236.3 313.6,237.8 313.7,239.8 313.8,241.8 313.9,242.9 314.1,245.0 314.1,246.3 314.2,247.6 314.3,249.4 314.4,250.8 314.5,252.2 314.5,254.2 314.7,256.1 314.8,257.3 314.9,259.0 315.0,260.3 315.0,261.7 315.1,263.3 315.2,264.3 315.3,262.5 315.4,261.0 315.6,259.6 315.7,258.3 315.9,256.9 315.9,255.5 316.2,254.0 316.4,252.5 316.6,251.4 316.7,250.4 317.0,249.1 317.1,247.3 317.2,246.1 317.4,244.7 317.6,243.1 317.8,242.1 317.9,241.0 318.3,240.8 318.4,242.3 318.6,243.5 318.8,242.5 319.0,243.9 319.3,245.0 319.6,246.0 319.8,247.6 320.2,248.7 320.3,247.7 320.5,249.0 320.6,250.5 321.0,250.5 321.3,251.0 321.4,249.7 321.6,248.6 321.9,247.0 322.2,245.5 322.3,244.5 322.4,242.6 322.7,241.7 322.9,240.5 323.1,239.3 323.3,237.7 323.3,236.7 323.7,236.2 324.0,236.8 324.2,238.0 324.5,239.2 324.8,240.3 325.1,241.1 325.5,241.2 325.6,242.3 325.9,242.6 326.0,243.7 326.2,245.1 326.6,245.3 326.9,244.7 327.2,243.4 327.4,242.3 327.5,240.8 327.7,239.3 327.9,238.1 328.1,236.4 328.3,235.3 328.5,233.9 328.6,232.5 328.8,231.4 329.0,229.9 329.2,228.7 329.4,229.7 329.7,230.1 330.1,231.0 330.4,231.7 330.6,232.9 330.8,231.7 330.8,232.9 331.2,233.6 331.4,234.9 331.6,233.8 331.9,234.8 332.0,236.1 332.4,236.6 332.5,237.7 332.7,236.6 332.9,235.4 333.2,234.0 333.3,235.0 333.5,233.0 333.8,232.6 334.2,231.4 334.5,231.0 334.6,229.8 334.9,228.7 335.2,228.3 335.5,226.6 335.8,225.9 336.2,225.8 336.5,226.3 336.7,227.7 336.9,226.4 337.2,225.2 337.3,226.8 337.6,227.1 337.9,225.4 338.2,224.5 338.4,223.1 338.6,221.8 338.9,220.2 339.1,218.9 339.4,217.3 339.8,218.2 340.1,218.3 340.2,216.9 340.4,218.4 340.8,219.4 341.1,219.4 341.5,220.5 341.8,219.5 342.1,218.3 342.3,217.0 342.6,217.1 342.8,216.0 343.1,214.8 343.5,215.2 343.6,214.2 343.8,213.1 344.2,212.7 344.5,212.5 344.8,211.9 345.2,212.0 345.5,212.2 345.9,211.7 346.2,211.4 346.5,212.5 346.9,212.7 347.2,213.0 347.6,213.7 347.9,213.8 348.0,212.8 348.3,214.8 348.5,213.8 348.8,214.4 349.0,213.2 349.4,213.0 349.5,211.7 349.8,211.8 350.1,211.2 350.5,210.7 350.8,209.5 351.2,209.4 351.3,207.8 351.6,209.0 351.8,208.0 352.0,206.3 352.1,207.5 352.2,205.7 352.5,204.3 352.8,203.1 353.0,201.7 353.1,200.5 353.3,199.3 353.4,200.7 353.6,202.0 353.8,203.1 353.9,204.2 354.0,202.5 354.2,204.2 354.3,205.6 354.5,207.0 354.8,207.6 355.2,207.5 355.5,206.7 355.8,206.3 356.2,204.7 356.5,205.2 356.8,203.8 357.1,203.5 357.3,202.4 357.4,203.5 357.7,203.3 358.0,204.2 358.4,205.1 358.7,204.7 359.1,206.1 359.2,204.9 359.3,206.5 359.6,205.7 360.0,206.0 360.1,204.8 360.3,206.0 360.6,206.2 360.9,205.9 361.2,204.9 361.5,204.7 361.7,205.7 361.8,204.7 362.1,204.7 362.2,203.5 362.5,203.9 362.8,202.6 363.0,203.7 363.1,204.8 363.4,203.5 363.7,204.4 364.0,203.4 364.1,202.2 364.1,204.0 364.2,205.5 364.3,204.3 364.4,205.6 364.5,204.4 364.7,206.6 364.8,204.9 365.1,205.4 365.4,206.7 365.7,205.4 366.0,206.3 366.1,207.4 366.4,206.2 366.7,205.2 367.1,204.7 367.2,203.3 367.3,204.7 367.6,203.7 367.9,203.7 368.3,204.1 368.6,203.0 368.7,204.3 369.0,202.9 369.3,203.0 369.4,204.2 369.5,205.6 369.6,204.1 369.8,205.6 369.9,203.7 370.0,205.5 370.4,204.7 370.4,205.8 370.5,207.0 370.6,205.6 370.9,206.9 371.0,205.8 371.1,206.8 371.4,204.6 371.7,206.3 372.0,204.5 372.2,205.7 372.2,206.7 372.3,204.9 372.5,206.3 372.7,205.1 373.1,206.1 373.2,204.5 373.6,204.0 373.9,203.4 374.0,201.8 374.1,202.9 374.5,203.0 374.8,204.7 374.9,203.0 375.3,203.5 375.3,204.8 375.7,204.5 375.7,205.7 376.0,204.5 376.2,206.1 376.2,207.6 376.3,205.6 376.7,206.5 376.9,207.8 377.0,206.5 377.1,205.5 377.3,206.7 377.5,205.7 377.6,207.5 377.8,206.2 377.9,204.9 378.0,205.9 378.1,204.5 378.3,206.2 378.6,204.9 378.9,205.1 379.1,203.4 379.4,203.1 379.8,204.8 380.1,204.5 380.4,203.4 380.6,205.4 380.7,204.2 381.0,205.2 381.1,206.3 381.2,204.6 381.5,203.5 381.6,204.9 381.8,206.5 382.1,206.8 382.4,208.1 382.7,206.9 382.8,205.5 382.9,204.3 383.0,207.2 383.1,208.4 383.2,206.8 383.3,205.6 383.6,205.9 384.0,205.4 384.1,206.6 384.4,205.1 384.6,206.6 384.9,205.2 385.2,203.9 385.3,205.0 385.4,203.3 385.5,205.8 385.7,204.7 385.9,203.7 386.0,205.4 386.3,204.4 386.4,205.4 386.7,204.1 386.8,205.2 387.1,206.9 387.2,205.7 387.5,206.9 387.8,207.3 388.0,205.9 388.1,207.7 388.3,206.1 388.4,207.5 388.6,206.2 389.0,206.3 389.3,207.7 389.3,208.7 389.4,207.5 389.5,206.5 389.7,205.3 389.8,206.4 389.9,204.8 390.1,205.9 390.4,204.8 390.6,205.9 390.7,204.6 391.0,205.7 391.3,205.8 391.4,207.0 391.5,205.9 391.6,204.0 391.7,205.1 392.0,205.7 392.4,206.2 392.5,207.8 392.8,206.7 393.1,208.4 393.3,207.1 393.7,206.1 393.8,208.3 394.1,207.2 394.1,206.1 394.2,207.9 394.3,209.1 394.3,210.4 394.4,208.6 394.5,205.5 394.6,207.1 394.6,208.6 394.7,207.4 395.1,207.2 395.4,208.4 395.5,206.8 395.9,206.3 396.0,207.4 396.2,205.2 396.5,204.0 396.6,206.3 396.8,208.3 396.9,206.4 397.0,207.7 397.2,206.3 397.6,206.4 397.9,207.8 398.0,208.8 398.1,207.7 398.4,209.2 398.6,207.5 398.9,208.3 399.2,208.6 399.6,209.2 399.9,208.9 400.3,208.5 400.6,209.0 400.8,207.0 400.9,208.1 401.0,205.8 401.1,208.1 401.5,208.1 401.5,209.3 401.6,206.6 401.7,205.3 401.8,207.3 402.0,205.7 402.2,206.9 402.6,207.4 402.7,206.0 402.7,204.9 402.9,206.4 403.0,207.8 403.3,207.3 403.7,207.6 404.0,208.4 404.2,209.4 404.2,210.6 404.5,208.6 404.6,210.9 404.8,209.5 404.9,208.3 405.1,209.3 405.3,208.0 405.5,210.1 405.8,210.0 405.9,209.0 406.2,209.4 406.6,207.8 406.7,208.9 407.0,206.8 407.0,208.0 407.1,209.0 407.4,207.9 407.8,209.3 407.9,208.0 408.2,207.2 408.3,208.6 408.6,209.7 408.7,208.5 409.1,208.5 409.2,207.4 409.4,209.4 409.4,210.5 409.6,209.5 409.7,208.2 409.7,209.7 409.8,211.4 409.9,210.2 409.9,208.8 410.0,210.5 410.3,212.1 410.4,210.7 410.5,209.5 410.9,211.0 410.9,212.0 411.2,210.9 411.2,209.1 411.3,210.4 411.4,209.1 411.6,210.3 411.9,210.2 412.2,211.6 412.4,210.4 412.5,209.4 412.8,209.5 413.1,209.3 413.5,209.4 413.6,208.3 413.9,209.1 414.2,211.4 414.3,208.9 414.4,211.2 414.5,209.7 414.6,208.4 414.7,209.8 415.1,210.5 415.1,211.5 415.2,209.7 415.3,208.1 415.4,210.4 415.4,211.6 415.6,210.4 415.8,212.1 416.2,213.3 416.2,211.9 416.3,210.9 416.6,209.7 416.7,208.7 416.7,210.1 416.8,211.4 417.0,210.0 417.1,211.3 417.4,210.0 417.6,211.1 417.8,209.7 418.2,209.0 418.5,209.4 418.8,210.0 419.0,208.9 419.1,207.7 419.2,208.9 419.6,209.6 419.7,208.3 419.8,209.5 420.0,210.8 420.1,209.8 420.4,210.1 420.8,210.6 420.9,211.6 421.1,209.8 421.3,211.6 421.5,209.9 421.7,211.0 421.8,209.6 421.8,208.1 421.9,210.6 422.3,210.8 422.6,209.6 423.0,210.8 423.2,208.8 423.3,210.5 423.4,211.6 423.5,209.8 423.9,209.5 424.0,210.9 424.1,209.4 424.3,208.1 424.6,209.8 424.6,208.5 424.8,209.5 424.8,210.8 425.2,210.3 425.2,209.3 425.6,208.8 425.8,207.7 426.2,209.1 426.3,210.7 426.6,209.1 427.0,210.6 427.1,208.3 427.3,209.6 427.4,210.9 427.5,209.4 427.7,210.5 427.9,209.2 428.2,210.9 428.3,208.9 428.4,210.4 428.5,208.6 428.6,207.5 428.7,209.9 428.9,208.8 429.0,210.4 429.2,208.6 429.4,209.8 429.6,208.7 429.8,209.8 430.1,208.6 430.4,207.8 430.5,209.2 430.6,210.6 430.7,208.7 431.0,208.2 431.4,209.6 431.5,208.1 431.6,209.5 431.7,210.6 432.0,210.2 432.2,211.2 432.3,210.1 432.6,211.3 432.7,210.1 432.8,211.3 432.9,210.0 433.1,211.4 433.1,212.4 433.2,211.0 433.3,212.3 433.6,211.3 434.0,210.1 434.3,210.2 434.6,210.2 434.7,211.4 434.9,210.2 435.2,210.6 435.3,209.3 435.5,210.8 435.7,209.0 435.8,210.5 436.2,212.0 436.3,210.8 436.4,212.2 436.6,211.1 436.7,209.9 436.8,211.1 436.9,209.6 437.0,210.7 437.0,212.6 437.2,211.0 437.3,209.9 437.4,211.1 437.7,210.7 438.0,212.5 438.3,211.5 438.4,212.9 438.5,211.1 438.9,211.1 439.2,211.7 439.4,212.8 439.4,211.7 439.5,212.9 439.7,211.7 439.9,212.8 440.2,214.8 440.3,212.9 440.3,211.8 440.5,210.1 440.7,211.9 440.8,210.9 440.8,209.6 441.0,211.5 441.2,210.2 441.4,211.9 441.5,210.6 441.9,211.1 442.0,210.1 442.3,211.7 442.5,213.2 442.5,211.7 442.6,209.6 442.8,210.7 443.0,211.9 443.1,210.4 443.4,210.5 443.6,212.4 443.7,209.5 443.8,211.5 444.1,212.7 444.2,210.9 444.5,211.2 444.6,212.2 444.8,211.1 444.9,212.4 445.2,212.2 445.6,212.0 445.9,212.4 446.3,209.8 446.4,211.0 446.5,212.0 446.6,210.3 446.9,210.8 447.0,212.7 447.1,210.7 447.2,209.3 447.3,210.6 447.6,209.9 447.7,211.2 447.9,210.1 448.0,211.1 448.0,212.1 448.1,211.1 448.1,209.5 448.4,210.8 448.7,210.9 448.8,212.3 449.0,210.8 449.4,211.7 449.5,210.5 449.8,213.9 449.9,212.1 450.0,211.0 450.0,209.9 450.2,212.1 450.4,210.5 450.7,212.2 450.7,210.8 450.8,209.0 450.8,210.0 450.9,212.1 451.2,213.6 451.3,211.8 451.4,213.0 451.5,212.0 451.7,213.6 451.8,212.1 452.0,210.0 452.0,208.9 452.2,210.3 452.2,212.0 452.3,213.0 452.4,211.0 452.8,210.4 453.0,208.9 453.2,210.7 453.3,212.0 453.6,212.2 453.7,210.9 453.8,209.8 454.1,211.5 454.4,210.8 454.7,212.4 454.8,210.9 455.0,212.3 455.2,211.0 455.2,212.3 455.3,210.8 455.5,212.4 455.8,210.6 455.9,212.1 456.3,213.3 456.3,211.8 456.4,210.7 456.5,211.9 456.6,213.3 456.7,212.2 456.8,213.7 456.9,212.3 457.3,212.0 457.3,210.9 457.4,212.3 457.6,211.0 457.7,212.3 457.8,211.0 457.8,209.5 458.2,211.1 458.5,212.2 458.6,210.2 458.7,208.9 458.9,210.3 459.2,210.0 459.4,212.6 459.6,210.3 459.7,208.7 459.8,210.5 459.8,211.8 460.0,212.8 460.1,210.5 460.3,212.0 460.4,210.8 460.6,212.3 460.9,210.0 461.1,211.7 461.2,210.0 461.3,211.1 461.7,212.5 461.8,210.7 461.9,212.3 462.1,210.4 462.3,212.2 462.6,211.2 462.9,211.0 463.0,212.8 463.1,211.7 463.1,209.8 463.3,211.0 463.4,212.1 463.5,213.4 463.6,211.2 463.8,209.5 463.9,210.8 464.0,211.8 464.1,209.8 464.2,211.9 464.3,210.6 464.4,209.2 464.6,210.7 464.8,212.0 464.9,210.3 465.1,211.5 465.4,210.6 465.5,212.5 465.8,212.3 466.0,211.1 466.1,209.9 466.3,211.4 466.4,213.1 466.4,212.1 466.5,210.5 466.6,213.6 466.6,214.9 466.7,213.2 466.9,211.4 466.9,210.3 467.0,211.3 467.1,212.5 467.3,209.9 467.4,211.6 467.6,212.9 467.7,211.8 468.0,211.3 468.3,210.9 468.4,212.2 468.7,211.1 468.7,209.7 468.8,211.6 469.2,210.9 469.3,209.8 469.4,210.9 469.5,209.7 469.6,211.2 469.6,212.7 469.7,211.1 469.7,210.1 469.9,208.9 470.2,210.6 470.5,210.9 470.6,209.2 470.7,211.5 470.8,210.0 471.2,208.2 471.3,211.0 471.3,212.6 471.7,211.7 471.9,212.8 472.1,210.7 472.2,212.4 472.3,210.6 472.6,211.7 472.6,212.7 472.7,211.4 472.8,213.0 473.1,214.3 473.1,212.9 473.2,211.0 473.2,209.7 473.4,211.4 473.7,211.7 474.1,212.2 474.1,210.8 474.5,210.7 474.8,209.5 475.0,210.8 475.3,209.5 475.4,210.7 475.6,209.1 475.6,210.2 476.0,212.0 476.0,210.9 476.1,208.9 476.2,210.8 476.5,211.8 476.6,210.6 476.7,212.2 476.9,209.7 477.1,211.4 477.2,209.4 477.3,211.4 477.4,213.3 477.4,211.5 477.5,210.5 477.5,212.2 477.6,213.3 477.7,210.9 477.8,209.0 477.8,210.3 477.9,213.0 478.0,211.8 478.1,213.0 478.3,211.4 478.4,212.8 478.7,210.7 478.9,212.1 479.1,210.4 479.2,212.2 479.4,211.0 479.7,212.3 479.8,211.1 479.9,212.5 480.0,214.1 480.0,213.0 480.1,210.7 480.2,209.6 480.3,211.3 480.6,210.8 481.0,210.4 481.0,209.1 481.3,210.4 481.4,211.4 481.6,208.6 481.7,211.4 482.0,210.4 482.1,208.4 482.2,211.4 482.4,209.9 482.8,210.9 482.8,212.4 482.9,210.9 483.3,211.3 483.5,212.7 483.6,211.5 484.0,211.5 484.3,210.4 484.4,212.3 484.7,210.8 484.8,209.8 484.9,212.3 485.2,212.4 485.3,210.7 485.5,211.8 485.8,212.4 485.9,211.3 486.1,210.1 486.1,209.1 486.2,210.3 486.3,211.4 486.4,210.4 486.7,211.2 487.0,210.1 487.2,208.8 487.3,210.0 487.5,208.7 487.6,210.4 487.7,211.6 487.9,212.6 488.0,210.7 488.3,211.6 488.4,210.5 488.8,211.1 488.8,212.4 489.1,211.3 489.4,212.1 489.7,210.6 489.7,212.2 490.1,213.0 490.2,211.5 490.3,210.4 490.4,212.4 490.5,210.8 490.7,212.3 490.7,211.2 490.9,213.2 491.0,211.7 491.2,209.5 491.4,211.5 491.5,212.8 491.6,211.1 491.8,209.1 491.9,210.3 492.0,212.2 492.3,211.6 492.4,209.4 492.5,211.2 492.6,212.3 492.8,210.6 493.1,209.5 493.2,211.9 493.3,210.5 493.4,211.6 493.4,212.9 493.7,211.4 493.8,210.3 494.0,211.9 494.1,210.2 494.2,208.7 494.3,209.9 494.5,211.4 494.7,212.9 494.7,211.9 494.9,212.9 495.0,210.7 495.1,209.4 495.4,210.5 495.5,209.1 495.6,210.7 495.6,213.5 495.8,210.7 496.0,211.8 496.3,213.1 496.4,210.8 496.8,211.8 497.1,210.9 497.2,212.7 497.3,211.4 497.7,211.4 498.0,210.5 498.1,212.3 498.2,213.5 498.2,212.4 498.3,210.4 498.5,208.7 498.6,209.9 498.9,210.0 499.3,210.8 499.5,213.0 499.6,211.4 499.7,209.6 499.7,211.2 500.0,210.5 500.1,211.7 500.2,210.2 500.3,209.2 500.4,211.5 500.7,209.4 501.0,210.0 501.3,211.5 501.4,210.3 501.6,211.6 501.7,210.3 502.0,211.9 502.1,210.0 502.3,211.5 502.6,209.3 502.7,210.9 502.9,212.2 503.0,211.0 503.1,209.7 503.2,208.3 503.3,210.4 503.4,211.9 503.5,209.6 503.7,211.5 503.8,209.6 504.0,211.4 504.2,210.3 504.3,208.9 504.3,210.0 504.4,211.9 504.7,210.6 505.1,210.6 505.2,209.0 505.6,208.6 505.7,207.4 505.8,208.4 505.8,209.6 506.1,207.0 506.3,210.5 506.3,212.5 506.4,210.1 506.5,209.0 506.6,210.7 506.7,209.2 506.8,210.4 507.0,208.8 507.1,210.9 507.4,210.2 507.8,210.2 507.9,208.8 508.2,210.7 508.5,209.6 508.5,208.6 508.7,209.8 508.9,208.6 509.0,210.6 509.0,212.3 509.1,210.2 509.2,208.9 509.3,211.6 509.4,209.5 509.8,210.2 509.8,208.2 510.0,209.6 510.1,207.7 510.3,209.2 510.4,207.3 510.7,208.3 510.7,209.8 510.9,208.0 511.1,209.2 511.2,208.0 511.2,207.0 511.3,209.5 511.5,208.2 511.8,207.1 511.9,209.0 512.0,210.4 512.1,209.3 512.3,208.3 512.4,209.4 512.5,210.6 512.6,209.3 512.9,210.4 513.0,209.3" fill="none" stroke="#008000" stroke-width="1.25" stroke-linejoin="round" />
<line x1="287.5" y1="231.55" x2="513.2" y2="231.55" stroke="#000" stroke-width="1.35" stroke-linecap="round" stroke-dasharray="0.9,2.56" stroke-dashoffset="1.01"/>
</g>
<rect x="287.5" y="188.2" width="225.70" height="144.50" fill="none" stroke="#444" stroke-width="0.9"/>
<line x1="287.50" y1="332.7" x2="287.50" y2="330.4" stroke="#444" stroke-width="0.7"/>
<line x1="287.50" y1="188.2" x2="287.50" y2="190.5" stroke="#444" stroke-width="0.7"/>
<text x="287.50" y="339.90" font-size="7.3" text-anchor="middle">0.0</text>
<line x1="315.71" y1="332.7" x2="315.71" y2="330.4" stroke="#444" stroke-width="0.7"/>
<line x1="315.71" y1="188.2" x2="315.71" y2="190.5" stroke="#444" stroke-width="0.7"/>
<text x="315.71" y="339.90" font-size="7.3" text-anchor="middle">2.5</text>
<line x1="343.93" y1="332.7" x2="343.93" y2="330.4" stroke="#444" stroke-width="0.7"/>
<line x1="343.93" y1="188.2" x2="343.93" y2="190.5" stroke="#444" stroke-width="0.7"/>
<text x="343.93" y="339.90" font-size="7.3" text-anchor="middle">5.0</text>
<line x1="372.14" y1="332.7" x2="372.14" y2="330.4" stroke="#444" stroke-width="0.7"/>
<line x1="372.14" y1="188.2" x2="372.14" y2="190.5" stroke="#444" stroke-width="0.7"/>
<text x="372.14" y="339.90" font-size="7.3" text-anchor="middle">7.5</text>
<line x1="400.35" y1="332.7" x2="400.35" y2="330.4" stroke="#444" stroke-width="0.7"/>
<line x1="400.35" y1="188.2" x2="400.35" y2="190.5" stroke="#444" stroke-width="0.7"/>
<text x="400.35" y="339.90" font-size="7.3" text-anchor="middle">10.0</text>
<line x1="428.56" y1="332.7" x2="428.56" y2="330.4" stroke="#444" stroke-width="0.7"/>
<line x1="428.56" y1="188.2" x2="428.56" y2="190.5" stroke="#444" stroke-width="0.7"/>
<text x="428.56" y="339.90" font-size="7.3" text-anchor="middle">12.5</text>
<line x1="456.78" y1="332.7" x2="456.78" y2="330.4" stroke="#444" stroke-width="0.7"/>
<line x1="456.78" y1="188.2" x2="456.78" y2="190.5" stroke="#444" stroke-width="0.7"/>
<text x="456.78" y="339.90" font-size="7.3" text-anchor="middle">15.0</text>
<line x1="484.99" y1="332.7" x2="484.99" y2="330.4" stroke="#444" stroke-width="0.7"/>
<line x1="484.99" y1="188.2" x2="484.99" y2="190.5" stroke="#444" stroke-width="0.7"/>
<text x="484.99" y="339.90" font-size="7.3" text-anchor="middle">17.5</text>
<line x1="513.20" y1="332.7" x2="513.20" y2="330.4" stroke="#444" stroke-width="0.7"/>
<line x1="513.20" y1="188.2" x2="513.20" y2="190.5" stroke="#444" stroke-width="0.7"/>
<text x="513.20" y="339.90" font-size="7.3" text-anchor="middle">20.0</text>
<line x1="287.5" y1="318.25" x2="289.8" y2="318.25" stroke="#444" stroke-width="0.7"/>
<line x1="513.2" y1="318.25" x2="510.90000000000003" y2="318.25" stroke="#444" stroke-width="0.7"/>
<text x="286.50" y="320.66" font-size="7.3" text-anchor="end">−60</text>
<line x1="287.5" y1="289.35" x2="289.8" y2="289.35" stroke="#444" stroke-width="0.7"/>
<line x1="513.2" y1="289.35" x2="510.90000000000003" y2="289.35" stroke="#444" stroke-width="0.7"/>
<text x="286.50" y="291.76" font-size="7.3" text-anchor="end">−40</text>
<line x1="287.5" y1="260.45" x2="289.8" y2="260.45" stroke="#444" stroke-width="0.7"/>
<line x1="513.2" y1="260.45" x2="510.90000000000003" y2="260.45" stroke="#444" stroke-width="0.7"/>
<text x="286.50" y="262.86" font-size="7.3" text-anchor="end">−20</text>
<line x1="287.5" y1="231.55" x2="289.8" y2="231.55" stroke="#444" stroke-width="0.7"/>
<line x1="513.2" y1="231.55" x2="510.90000000000003" y2="231.55" stroke="#444" stroke-width="0.7"/>
<text x="286.50" y="233.96" font-size="7.3" text-anchor="end">0</text>
<line x1="287.5" y1="202.65" x2="289.8" y2="202.65" stroke="#444" stroke-width="0.7"/>
<line x1="513.2" y1="202.65" x2="510.90000000000003" y2="202.65" stroke="#444" stroke-width="0.7"/>
<text x="286.50" y="205.06" font-size="7.3" text-anchor="end">20</text>
<rect x="458.6" y="299.9" width="51.40" height="29.60" fill="#fff" stroke="#444" stroke-width="0.8"/>
<line x1="461.3" y1="304.8" x2="475.1" y2="304.8" stroke="#f00000" stroke-width="1.5"/>
<text x="480.6" y="307.1" class="lg" font-size="7"><tspan font-style="italic">T</tspan> = 8.04</text>
<line x1="461.3" y1="314.2" x2="475.1" y2="314.2" stroke="#0000f0" stroke-width="1.5"/>
<text x="480.6" y="316.5" class="lg" font-size="7"><tspan font-style="italic">T</tspan> = 12.02</text>
<line x1="461.3" y1="323.6" x2="475.1" y2="323.6" stroke="#008000" stroke-width="1.5"/>
<text x="480.6" y="325.9" class="lg" font-size="7"><tspan font-style="italic">T</tspan> = 16.00</text>
<text x="400.4" y="348.3" font-size="9" text-anchor="middle"><tspan font-style="italic">t</tspan> − <tspan font-style="italic">t</tspan><tspan font-size="6.3" dy="1.4">0</tspan><tspan dy="-1.4"> (</tspan><tspan font-style="italic">μs</tspan>)</text>
<text transform="translate(267.9,262.3) rotate(-90)" font-size="8.4" text-anchor="middle">Δ<tspan font-style="italic">u</tspan> (m/s)</text>
</g>
</svg>
</body></html>
